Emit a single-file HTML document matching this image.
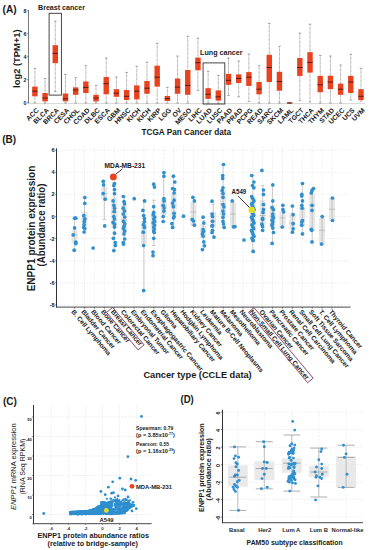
<!DOCTYPE html>
<html><head><meta charset="utf-8"><style>
html,body{margin:0;padding:0;background:#fff;}
body{width:372px;height:550px;overflow:hidden;}
svg{display:block;font-family:"Liberation Sans", sans-serif;}
</style></head><body>
<svg width="372" height="550" viewBox="0 0 372 550">
<rect width="372" height="550" fill="#fff"/>
<text x="2.50" y="12.80" font-size="10.2" font-weight="bold" text-anchor="start" fill="#1a1a1a" textLength="14.1" lengthAdjust="spacingAndGlyphs">(A)</text>
<text x="38.00" y="10.30" font-size="7.1" font-weight="bold" text-anchor="start" fill="#1a1a1a" textLength="47" lengthAdjust="spacingAndGlyphs">Breast cancer</text>
<text x="200.00" y="54.80" font-size="7.1" font-weight="bold" text-anchor="start" fill="#1a1a1a" textLength="42.6" lengthAdjust="spacingAndGlyphs">Lung cancer</text>
<line x1="28.5" y1="10" x2="28.5" y2="103.5" stroke="#555" stroke-width="0.8"/>
<line x1="27" y1="102.70" x2="28.5" y2="102.70" stroke="#555" stroke-width="0.6"/>
<text x="26.40" y="104.60" font-size="5.3" font-weight="bold" text-anchor="end" fill="#222">0</text>
<line x1="27" y1="79.70" x2="28.5" y2="79.70" stroke="#555" stroke-width="0.6"/>
<text x="26.40" y="81.60" font-size="5.3" font-weight="bold" text-anchor="end" fill="#222">2</text>
<line x1="27" y1="56.70" x2="28.5" y2="56.70" stroke="#555" stroke-width="0.6"/>
<text x="26.40" y="58.60" font-size="5.3" font-weight="bold" text-anchor="end" fill="#222">4</text>
<line x1="27" y1="33.70" x2="28.5" y2="33.70" stroke="#555" stroke-width="0.6"/>
<text x="26.40" y="35.60" font-size="5.3" font-weight="bold" text-anchor="end" fill="#222">6</text>
<line x1="27" y1="10.70" x2="28.5" y2="10.70" stroke="#555" stroke-width="0.6"/>
<text x="26.40" y="12.60" font-size="5.3" font-weight="bold" text-anchor="end" fill="#222">8</text>
<text x="20.30" y="58.60" font-size="9.4" font-weight="bold" text-anchor="middle" fill="#1a1a1a" textLength="58.6" lengthAdjust="spacingAndGlyphs" transform="rotate(-90 20.30 58.60)">log2 (TPM+1)</text>
<line x1="29" y1="103.6" x2="365" y2="103.6" stroke="#bbb" stroke-width="0.6"/>
<line x1="34.90" y1="68.3" x2="34.90" y2="102.7" stroke="#777" stroke-width="0.7" stroke-dasharray="0.8 0.5"/>
<line x1="33.60" y1="68.3" x2="36.20" y2="68.3" stroke="#777" stroke-width="0.6"/>
<line x1="33.60" y1="102.7" x2="36.20" y2="102.7" stroke="#777" stroke-width="0.6"/>
<rect x="32.20" y="86.6" width="5.4" height="9.70" fill="#e8421f"/>
<line x1="32.20" y1="91.2" x2="37.60" y2="91.2" stroke="#5a1a10" stroke-width="1"/>
<text x="39.20" y="110.80" font-size="6.8" font-weight="bold" text-anchor="end" fill="#1a1a1a" transform="rotate(-45 39.20 110.80)">ACC</text>
<line x1="45.09" y1="78.5" x2="45.09" y2="103" stroke="#777" stroke-width="0.7" stroke-dasharray="0.8 0.5"/>
<line x1="43.79" y1="78.5" x2="46.39" y2="78.5" stroke="#777" stroke-width="0.6"/>
<line x1="43.79" y1="103" x2="46.39" y2="103" stroke="#777" stroke-width="0.6"/>
<rect x="42.39" y="93" width="5.4" height="8.40" fill="#e8421f"/>
<line x1="42.39" y1="98" x2="47.79" y2="98" stroke="#5a1a10" stroke-width="1"/>
<text x="49.39" y="110.80" font-size="6.8" font-weight="bold" text-anchor="end" fill="#1a1a1a" transform="rotate(-45 49.39 110.80)">BLCA</text>
<line x1="55.28" y1="21.1" x2="55.28" y2="91.5" stroke="#777" stroke-width="0.7" stroke-dasharray="0.8 0.5"/>
<line x1="53.98" y1="21.1" x2="56.58" y2="21.1" stroke="#777" stroke-width="0.6"/>
<line x1="53.98" y1="91.5" x2="56.58" y2="91.5" stroke="#777" stroke-width="0.6"/>
<rect x="52.58" y="45.2" width="5.4" height="18.00" fill="#e8421f"/>
<line x1="52.58" y1="53.4" x2="57.98" y2="53.4" stroke="#5a1a10" stroke-width="1"/>
<text x="59.58" y="110.80" font-size="6.8" font-weight="bold" text-anchor="end" fill="#1a1a1a" transform="rotate(-45 59.58 110.80)">BRCA</text>
<line x1="65.47" y1="74.4" x2="65.47" y2="103" stroke="#777" stroke-width="0.7" stroke-dasharray="0.8 0.5"/>
<line x1="64.17" y1="74.4" x2="66.77" y2="74.4" stroke="#777" stroke-width="0.6"/>
<line x1="64.17" y1="103" x2="66.77" y2="103" stroke="#777" stroke-width="0.6"/>
<rect x="62.77" y="93.5" width="5.4" height="7.90" fill="#e8421f"/>
<line x1="62.77" y1="98.9" x2="68.17" y2="98.9" stroke="#5a1a10" stroke-width="1"/>
<text x="69.77" y="110.80" font-size="6.8" font-weight="bold" text-anchor="end" fill="#1a1a1a" transform="rotate(-45 69.77 110.80)">CESA</text>
<line x1="75.66" y1="77.7" x2="75.66" y2="103" stroke="#777" stroke-width="0.7" stroke-dasharray="0.8 0.5"/>
<line x1="74.36" y1="77.7" x2="76.96" y2="77.7" stroke="#777" stroke-width="0.6"/>
<line x1="74.36" y1="103" x2="76.96" y2="103" stroke="#777" stroke-width="0.6"/>
<rect x="72.96" y="87.4" width="5.4" height="7.40" fill="#e8421f"/>
<line x1="72.96" y1="90" x2="78.36" y2="90" stroke="#5a1a10" stroke-width="1"/>
<text x="79.96" y="110.80" font-size="6.8" font-weight="bold" text-anchor="end" fill="#1a1a1a" transform="rotate(-45 79.96 110.80)">CHOL</text>
<line x1="85.85" y1="65.7" x2="85.85" y2="103" stroke="#777" stroke-width="0.7" stroke-dasharray="0.8 0.5"/>
<line x1="84.55" y1="65.7" x2="87.15" y2="65.7" stroke="#777" stroke-width="0.6"/>
<line x1="84.55" y1="103" x2="87.15" y2="103" stroke="#777" stroke-width="0.6"/>
<rect x="83.15" y="81.5" width="5.4" height="11.50" fill="#e8421f"/>
<line x1="83.15" y1="87.4" x2="88.55" y2="87.4" stroke="#5a1a10" stroke-width="1"/>
<text x="90.15" y="110.80" font-size="6.8" font-weight="bold" text-anchor="end" fill="#1a1a1a" transform="rotate(-45 90.15 110.80)">COAD</text>
<line x1="96.04" y1="85.3" x2="96.04" y2="103" stroke="#777" stroke-width="0.7" stroke-dasharray="0.8 0.5"/>
<line x1="94.74" y1="85.3" x2="97.34" y2="85.3" stroke="#777" stroke-width="0.6"/>
<line x1="94.74" y1="103" x2="97.34" y2="103" stroke="#777" stroke-width="0.6"/>
<rect x="93.34" y="94.8" width="5.4" height="6.60" fill="#e8421f"/>
<line x1="93.34" y1="98" x2="98.74" y2="98" stroke="#5a1a10" stroke-width="1"/>
<text x="100.34" y="110.80" font-size="6.8" font-weight="bold" text-anchor="end" fill="#1a1a1a" transform="rotate(-45 100.34 110.80)">DLBC</text>
<line x1="106.23" y1="58" x2="106.23" y2="103" stroke="#777" stroke-width="0.7" stroke-dasharray="0.8 0.5"/>
<line x1="104.93" y1="58" x2="107.53" y2="58" stroke="#777" stroke-width="0.6"/>
<line x1="104.93" y1="103" x2="107.53" y2="103" stroke="#777" stroke-width="0.6"/>
<rect x="103.53" y="77" width="5.4" height="17.30" fill="#e8421f"/>
<line x1="103.53" y1="83.6" x2="108.93" y2="83.6" stroke="#5a1a10" stroke-width="1"/>
<text x="110.53" y="110.80" font-size="6.8" font-weight="bold" text-anchor="end" fill="#1a1a1a" transform="rotate(-45 110.53 110.80)">ESCA</text>
<line x1="116.42" y1="77" x2="116.42" y2="103" stroke="#777" stroke-width="0.7" stroke-dasharray="0.8 0.5"/>
<line x1="115.12" y1="77" x2="117.72" y2="77" stroke="#777" stroke-width="0.6"/>
<line x1="115.12" y1="103" x2="117.72" y2="103" stroke="#777" stroke-width="0.6"/>
<rect x="113.72" y="89.2" width="5.4" height="7.60" fill="#e8421f"/>
<line x1="113.72" y1="93.2" x2="119.12" y2="93.2" stroke="#5a1a10" stroke-width="1"/>
<text x="120.72" y="110.80" font-size="6.8" font-weight="bold" text-anchor="end" fill="#1a1a1a" transform="rotate(-45 120.72 110.80)">GBM</text>
<line x1="126.61" y1="72.4" x2="126.61" y2="103" stroke="#777" stroke-width="0.7" stroke-dasharray="0.8 0.5"/>
<line x1="125.31" y1="72.4" x2="127.91" y2="72.4" stroke="#777" stroke-width="0.6"/>
<line x1="125.31" y1="103" x2="127.91" y2="103" stroke="#777" stroke-width="0.6"/>
<rect x="123.91" y="90" width="5.4" height="10.00" fill="#e8421f"/>
<line x1="123.91" y1="96.3" x2="129.31" y2="96.3" stroke="#5a1a10" stroke-width="1"/>
<text x="130.91" y="110.80" font-size="6.8" font-weight="bold" text-anchor="end" fill="#1a1a1a" transform="rotate(-45 130.91 110.80)">HNSC</text>
<line x1="136.80" y1="66.2" x2="136.80" y2="103" stroke="#777" stroke-width="0.7" stroke-dasharray="0.8 0.5"/>
<line x1="135.50" y1="66.2" x2="138.10" y2="66.2" stroke="#777" stroke-width="0.6"/>
<line x1="135.50" y1="103" x2="138.10" y2="103" stroke="#777" stroke-width="0.6"/>
<rect x="134.10" y="85.4" width="5.4" height="14.00" fill="#e8421f"/>
<line x1="134.10" y1="91.2" x2="139.50" y2="91.2" stroke="#5a1a10" stroke-width="1"/>
<text x="141.10" y="110.80" font-size="6.8" font-weight="bold" text-anchor="end" fill="#1a1a1a" transform="rotate(-45 141.10 110.80)">KICH</text>
<line x1="146.99" y1="62.2" x2="146.99" y2="103" stroke="#777" stroke-width="0.7" stroke-dasharray="0.8 0.5"/>
<line x1="145.69" y1="62.2" x2="148.29" y2="62.2" stroke="#777" stroke-width="0.6"/>
<line x1="145.69" y1="103" x2="148.29" y2="103" stroke="#777" stroke-width="0.6"/>
<rect x="144.29" y="81" width="5.4" height="12.80" fill="#e8421f"/>
<line x1="144.29" y1="88.2" x2="149.69" y2="88.2" stroke="#5a1a10" stroke-width="1"/>
<text x="151.29" y="110.80" font-size="6.8" font-weight="bold" text-anchor="end" fill="#1a1a1a" transform="rotate(-45 151.29 110.80)">KICH</text>
<line x1="157.18" y1="43.3" x2="157.18" y2="103" stroke="#777" stroke-width="0.7" stroke-dasharray="0.8 0.5"/>
<line x1="155.88" y1="43.3" x2="158.48" y2="43.3" stroke="#777" stroke-width="0.6"/>
<line x1="155.88" y1="103" x2="158.48" y2="103" stroke="#777" stroke-width="0.6"/>
<rect x="154.48" y="65.7" width="5.4" height="20.90" fill="#e8421f"/>
<line x1="154.48" y1="77.2" x2="159.88" y2="77.2" stroke="#5a1a10" stroke-width="1"/>
<text x="161.48" y="110.80" font-size="6.8" font-weight="bold" text-anchor="end" fill="#1a1a1a" transform="rotate(-45 161.48 110.80)">KIRP</text>
<line x1="167.37" y1="87.4" x2="167.37" y2="103" stroke="#777" stroke-width="0.7" stroke-dasharray="0.8 0.5"/>
<line x1="166.07" y1="87.4" x2="168.67" y2="87.4" stroke="#777" stroke-width="0.6"/>
<line x1="166.07" y1="103" x2="168.67" y2="103" stroke="#777" stroke-width="0.6"/>
<rect x="164.67" y="96" width="5.4" height="5.00" fill="#e8421f"/>
<line x1="164.67" y1="98.6" x2="170.07" y2="98.6" stroke="#5a1a10" stroke-width="1"/>
<text x="171.67" y="110.80" font-size="6.8" font-weight="bold" text-anchor="end" fill="#1a1a1a" transform="rotate(-45 171.67 110.80)">LGG</text>
<line x1="177.56" y1="56" x2="177.56" y2="103" stroke="#777" stroke-width="0.7" stroke-dasharray="0.8 0.5"/>
<line x1="176.26" y1="56" x2="178.86" y2="56" stroke="#777" stroke-width="0.6"/>
<line x1="176.26" y1="103" x2="178.86" y2="103" stroke="#777" stroke-width="0.6"/>
<rect x="174.86" y="78.5" width="5.4" height="15.30" fill="#e8421f"/>
<line x1="174.86" y1="87.1" x2="180.26" y2="87.1" stroke="#5a1a10" stroke-width="1"/>
<text x="181.86" y="110.80" font-size="6.8" font-weight="bold" text-anchor="end" fill="#1a1a1a" transform="rotate(-45 181.86 110.80)">OV</text>
<line x1="187.75" y1="36.2" x2="187.75" y2="103" stroke="#777" stroke-width="0.7" stroke-dasharray="0.8 0.5"/>
<line x1="186.45" y1="36.2" x2="189.05" y2="36.2" stroke="#777" stroke-width="0.6"/>
<line x1="186.45" y1="103" x2="189.05" y2="103" stroke="#777" stroke-width="0.6"/>
<rect x="185.05" y="70" width="5.4" height="24.80" fill="#e8421f"/>
<line x1="185.05" y1="85.4" x2="190.45" y2="85.4" stroke="#5a1a10" stroke-width="1"/>
<text x="192.05" y="110.80" font-size="6.8" font-weight="bold" text-anchor="end" fill="#1a1a1a" transform="rotate(-45 192.05 110.80)">MESO</text>
<line x1="197.94" y1="38.2" x2="197.94" y2="90.4" stroke="#777" stroke-width="0.7" stroke-dasharray="0.8 0.5"/>
<line x1="196.64" y1="38.2" x2="199.24" y2="38.2" stroke="#777" stroke-width="0.6"/>
<line x1="196.64" y1="90.4" x2="199.24" y2="90.4" stroke="#777" stroke-width="0.6"/>
<rect x="195.24" y="57.6" width="5.4" height="12.70" fill="#e8421f"/>
<line x1="195.24" y1="62.7" x2="200.64" y2="62.7" stroke="#5a1a10" stroke-width="1"/>
<text x="202.24" y="110.80" font-size="6.8" font-weight="bold" text-anchor="end" fill="#1a1a1a" transform="rotate(-45 202.24 110.80)">LIHC</text>
<line x1="208.13" y1="71.3" x2="208.13" y2="103" stroke="#777" stroke-width="0.7" stroke-dasharray="0.8 0.5"/>
<line x1="206.83" y1="71.3" x2="209.43" y2="71.3" stroke="#777" stroke-width="0.6"/>
<line x1="206.83" y1="103" x2="209.43" y2="103" stroke="#777" stroke-width="0.6"/>
<rect x="205.43" y="88.2" width="5.4" height="10.70" fill="#e8421f"/>
<line x1="205.43" y1="94.3" x2="210.83" y2="94.3" stroke="#5a1a10" stroke-width="1"/>
<text x="212.43" y="110.80" font-size="6.8" font-weight="bold" text-anchor="end" fill="#1a1a1a" transform="rotate(-45 212.43 110.80)">LUAD</text>
<line x1="218.32" y1="75.4" x2="218.32" y2="103" stroke="#777" stroke-width="0.7" stroke-dasharray="0.8 0.5"/>
<line x1="217.02" y1="75.4" x2="219.62" y2="75.4" stroke="#777" stroke-width="0.6"/>
<line x1="217.02" y1="103" x2="219.62" y2="103" stroke="#777" stroke-width="0.6"/>
<rect x="215.62" y="90.4" width="5.4" height="10.20" fill="#e8421f"/>
<line x1="215.62" y1="96.8" x2="221.02" y2="96.8" stroke="#5a1a10" stroke-width="1"/>
<text x="222.62" y="110.80" font-size="6.8" font-weight="bold" text-anchor="end" fill="#1a1a1a" transform="rotate(-45 222.62 110.80)">LUSC</text>
<line x1="228.51" y1="58" x2="228.51" y2="95.5" stroke="#777" stroke-width="0.7" stroke-dasharray="0.8 0.5"/>
<line x1="227.21" y1="58" x2="229.81" y2="58" stroke="#777" stroke-width="0.6"/>
<line x1="227.21" y1="95.5" x2="229.81" y2="95.5" stroke="#777" stroke-width="0.6"/>
<rect x="225.81" y="73.9" width="5.4" height="10.90" fill="#e8421f"/>
<line x1="225.81" y1="80.3" x2="231.21" y2="80.3" stroke="#5a1a10" stroke-width="1"/>
<text x="232.81" y="110.80" font-size="6.8" font-weight="bold" text-anchor="end" fill="#1a1a1a" transform="rotate(-45 232.81 110.80)">PAAD</text>
<line x1="238.70" y1="61.1" x2="238.70" y2="96.8" stroke="#777" stroke-width="0.7" stroke-dasharray="0.8 0.5"/>
<line x1="237.40" y1="61.1" x2="240.00" y2="61.1" stroke="#777" stroke-width="0.6"/>
<line x1="237.40" y1="96.8" x2="240.00" y2="96.8" stroke="#777" stroke-width="0.6"/>
<rect x="236.00" y="74.4" width="5.4" height="8.60" fill="#e8421f"/>
<line x1="236.00" y1="78.5" x2="241.40" y2="78.5" stroke="#5a1a10" stroke-width="1"/>
<text x="243.00" y="110.80" font-size="6.8" font-weight="bold" text-anchor="end" fill="#1a1a1a" transform="rotate(-45 243.00 110.80)">PRAD</text>
<line x1="248.89" y1="54" x2="248.89" y2="101.4" stroke="#777" stroke-width="0.7" stroke-dasharray="0.8 0.5"/>
<line x1="247.59" y1="54" x2="250.19" y2="54" stroke="#777" stroke-width="0.6"/>
<line x1="247.59" y1="101.4" x2="250.19" y2="101.4" stroke="#777" stroke-width="0.6"/>
<rect x="246.19" y="72.1" width="5.4" height="13.80" fill="#e8421f"/>
<line x1="246.19" y1="77.2" x2="251.59" y2="77.2" stroke="#5a1a10" stroke-width="1"/>
<text x="253.19" y="110.80" font-size="6.8" font-weight="bold" text-anchor="end" fill="#1a1a1a" transform="rotate(-45 253.19 110.80)">PCPG</text>
<line x1="259.08" y1="65.7" x2="259.08" y2="103" stroke="#777" stroke-width="0.7" stroke-dasharray="0.8 0.5"/>
<line x1="257.78" y1="65.7" x2="260.38" y2="65.7" stroke="#777" stroke-width="0.6"/>
<line x1="257.78" y1="103" x2="260.38" y2="103" stroke="#777" stroke-width="0.6"/>
<rect x="256.38" y="82" width="5.4" height="12.30" fill="#e8421f"/>
<line x1="256.38" y1="89.2" x2="261.78" y2="89.2" stroke="#5a1a10" stroke-width="1"/>
<text x="263.38" y="110.80" font-size="6.8" font-weight="bold" text-anchor="end" fill="#1a1a1a" transform="rotate(-45 263.38 110.80)">READ</text>
<line x1="269.27" y1="23.4" x2="269.27" y2="103" stroke="#777" stroke-width="0.7" stroke-dasharray="0.8 0.5"/>
<line x1="267.97" y1="23.4" x2="270.57" y2="23.4" stroke="#777" stroke-width="0.6"/>
<line x1="267.97" y1="103" x2="270.57" y2="103" stroke="#777" stroke-width="0.6"/>
<rect x="266.57" y="54.8" width="5.4" height="27.20" fill="#e8421f"/>
<line x1="266.57" y1="67.5" x2="271.97" y2="67.5" stroke="#5a1a10" stroke-width="1"/>
<text x="273.57" y="110.80" font-size="6.8" font-weight="bold" text-anchor="end" fill="#1a1a1a" transform="rotate(-45 273.57 110.80)">SARC</text>
<line x1="279.46" y1="46.4" x2="279.46" y2="103" stroke="#777" stroke-width="0.7" stroke-dasharray="0.8 0.5"/>
<line x1="278.16" y1="46.4" x2="280.76" y2="46.4" stroke="#777" stroke-width="0.6"/>
<line x1="278.16" y1="103" x2="280.76" y2="103" stroke="#777" stroke-width="0.6"/>
<rect x="276.76" y="71.8" width="5.4" height="18.90" fill="#e8421f"/>
<line x1="276.76" y1="81.5" x2="282.16" y2="81.5" stroke="#5a1a10" stroke-width="1"/>
<text x="283.76" y="110.80" font-size="6.8" font-weight="bold" text-anchor="end" fill="#1a1a1a" transform="rotate(-45 283.76 110.80)">SKCM</text>
<line x1="289.65" y1="102.3" x2="289.65" y2="103.5" stroke="#777" stroke-width="0.7" stroke-dasharray="0.8 0.5"/>
<line x1="288.35" y1="102.3" x2="290.95" y2="102.3" stroke="#777" stroke-width="0.6"/>
<line x1="288.35" y1="103.5" x2="290.95" y2="103.5" stroke="#777" stroke-width="0.6"/>
<rect x="286.95" y="102.6" width="5.4" height="0.70" fill="#e8421f"/>
<line x1="286.95" y1="103" x2="292.35" y2="103" stroke="#5a1a10" stroke-width="1"/>
<text x="293.95" y="110.80" font-size="6.8" font-weight="bold" text-anchor="end" fill="#1a1a1a" transform="rotate(-45 293.95 110.80)">LAML</text>
<line x1="299.84" y1="33.1" x2="299.84" y2="100.6" stroke="#777" stroke-width="0.7" stroke-dasharray="0.8 0.5"/>
<line x1="298.54" y1="33.1" x2="301.14" y2="33.1" stroke="#777" stroke-width="0.6"/>
<line x1="298.54" y1="100.6" x2="301.14" y2="100.6" stroke="#777" stroke-width="0.6"/>
<rect x="297.14" y="58" width="5.4" height="17.90" fill="#e8421f"/>
<line x1="297.14" y1="67.5" x2="302.54" y2="67.5" stroke="#5a1a10" stroke-width="1"/>
<text x="304.14" y="110.80" font-size="6.8" font-weight="bold" text-anchor="end" fill="#1a1a1a" transform="rotate(-45 304.14 110.80)">TGCT</text>
<line x1="310.03" y1="24.2" x2="310.03" y2="101.9" stroke="#777" stroke-width="0.7" stroke-dasharray="0.8 0.5"/>
<line x1="308.73" y1="24.2" x2="311.33" y2="24.2" stroke="#777" stroke-width="0.6"/>
<line x1="308.73" y1="101.9" x2="311.33" y2="101.9" stroke="#777" stroke-width="0.6"/>
<rect x="307.33" y="52.2" width="5.4" height="20.40" fill="#e8421f"/>
<line x1="307.33" y1="62.4" x2="312.73" y2="62.4" stroke="#5a1a10" stroke-width="1"/>
<text x="314.33" y="110.80" font-size="6.8" font-weight="bold" text-anchor="end" fill="#1a1a1a" transform="rotate(-45 314.33 110.80)">THCA</text>
<line x1="320.22" y1="55.5" x2="320.22" y2="103" stroke="#777" stroke-width="0.7" stroke-dasharray="0.8 0.5"/>
<line x1="318.92" y1="55.5" x2="321.52" y2="55.5" stroke="#777" stroke-width="0.6"/>
<line x1="318.92" y1="103" x2="321.52" y2="103" stroke="#777" stroke-width="0.6"/>
<rect x="317.52" y="75.9" width="5.4" height="16.30" fill="#e8421f"/>
<line x1="317.52" y1="84.8" x2="322.92" y2="84.8" stroke="#5a1a10" stroke-width="1"/>
<text x="324.52" y="110.80" font-size="6.8" font-weight="bold" text-anchor="end" fill="#1a1a1a" transform="rotate(-45 324.52 110.80)">THYM</text>
<line x1="330.41" y1="56" x2="330.41" y2="103" stroke="#777" stroke-width="0.7" stroke-dasharray="0.8 0.5"/>
<line x1="329.11" y1="56" x2="331.71" y2="56" stroke="#777" stroke-width="0.6"/>
<line x1="329.11" y1="103" x2="331.71" y2="103" stroke="#777" stroke-width="0.6"/>
<rect x="327.71" y="75.7" width="5.4" height="13.50" fill="#e8421f"/>
<line x1="327.71" y1="82" x2="333.11" y2="82" stroke="#5a1a10" stroke-width="1"/>
<text x="334.71" y="110.80" font-size="6.8" font-weight="bold" text-anchor="end" fill="#1a1a1a" transform="rotate(-45 334.71 110.80)">STAD</text>
<line x1="340.60" y1="65" x2="340.60" y2="103" stroke="#777" stroke-width="0.7" stroke-dasharray="0.8 0.5"/>
<line x1="339.30" y1="65" x2="341.90" y2="65" stroke="#777" stroke-width="0.6"/>
<line x1="339.30" y1="103" x2="341.90" y2="103" stroke="#777" stroke-width="0.6"/>
<rect x="337.90" y="83.6" width="5.4" height="11.20" fill="#e8421f"/>
<line x1="337.90" y1="89.2" x2="343.30" y2="89.2" stroke="#5a1a10" stroke-width="1"/>
<text x="344.90" y="110.80" font-size="6.8" font-weight="bold" text-anchor="end" fill="#1a1a1a" transform="rotate(-45 344.90 110.80)">UCEC</text>
<line x1="350.79" y1="54.3" x2="350.79" y2="100" stroke="#777" stroke-width="0.7" stroke-dasharray="0.8 0.5"/>
<line x1="349.49" y1="54.3" x2="352.09" y2="54.3" stroke="#777" stroke-width="0.6"/>
<line x1="349.49" y1="100" x2="352.09" y2="100" stroke="#777" stroke-width="0.6"/>
<rect x="348.09" y="75.9" width="5.4" height="17.10" fill="#e8421f"/>
<line x1="348.09" y1="82" x2="353.49" y2="82" stroke="#5a1a10" stroke-width="1"/>
<text x="355.09" y="110.80" font-size="6.8" font-weight="bold" text-anchor="end" fill="#1a1a1a" transform="rotate(-45 355.09 110.80)">UCS</text>
<line x1="360.98" y1="68.3" x2="360.98" y2="101.1" stroke="#777" stroke-width="0.7" stroke-dasharray="0.8 0.5"/>
<line x1="359.68" y1="68.3" x2="362.28" y2="68.3" stroke="#777" stroke-width="0.6"/>
<line x1="359.68" y1="101.1" x2="362.28" y2="101.1" stroke="#777" stroke-width="0.6"/>
<rect x="358.28" y="89.2" width="5.4" height="10.90" fill="#e8421f"/>
<line x1="358.28" y1="96.3" x2="363.68" y2="96.3" stroke="#5a1a10" stroke-width="1"/>
<text x="365.28" y="110.80" font-size="6.8" font-weight="bold" text-anchor="end" fill="#1a1a1a" transform="rotate(-45 365.28 110.80)">UVM</text>
<rect x="49.1" y="13.3" width="12.3" height="81.8" fill="none" stroke="#333" stroke-width="0.9"/>
<rect x="203.1" y="62.9" width="21.7" height="41.1" fill="none" stroke="#333" stroke-width="0.9"/>
<text x="141.50" y="135.00" font-size="8.2" font-weight="bold" text-anchor="start" fill="#1a1a1a" textLength="89.5" lengthAdjust="spacingAndGlyphs">TCGA Pan Cancer data</text>
<text x="2.20" y="143.00" font-size="10" font-weight="bold" text-anchor="start" fill="#1a1a1a" textLength="13.9" lengthAdjust="spacingAndGlyphs">(B)</text>
<line x1="57" y1="304.90" x2="351" y2="304.90" stroke="#e9e9e9" stroke-width="0.6" stroke-dasharray="2.5 1"/>
<line x1="57" y1="282.80" x2="351" y2="282.80" stroke="#e9e9e9" stroke-width="0.6" stroke-dasharray="2.5 1"/>
<line x1="57" y1="260.70" x2="351" y2="260.70" stroke="#e9e9e9" stroke-width="0.6" stroke-dasharray="2.5 1"/>
<line x1="57" y1="238.60" x2="351" y2="238.60" stroke="#e9e9e9" stroke-width="0.6" stroke-dasharray="2.5 1"/>
<line x1="57" y1="216.50" x2="351" y2="216.50" stroke="#e9e9e9" stroke-width="0.6" stroke-dasharray="2.5 1"/>
<line x1="57" y1="194.40" x2="351" y2="194.40" stroke="#e9e9e9" stroke-width="0.6" stroke-dasharray="2.5 1"/>
<line x1="57" y1="172.30" x2="351" y2="172.30" stroke="#e9e9e9" stroke-width="0.6" stroke-dasharray="2.5 1"/>
<line x1="57" y1="150.20" x2="351" y2="150.20" stroke="#e9e9e9" stroke-width="0.6" stroke-dasharray="2.5 1"/>
<line x1="74.60" y1="146" x2="74.60" y2="306" stroke="#e9e9e9" stroke-width="0.6" stroke-dasharray="2.5 1"/>
<line x1="84.50" y1="146" x2="84.50" y2="306" stroke="#e9e9e9" stroke-width="0.6" stroke-dasharray="2.5 1"/>
<line x1="94.40" y1="146" x2="94.40" y2="306" stroke="#e9e9e9" stroke-width="0.6" stroke-dasharray="2.5 1"/>
<line x1="104.30" y1="146" x2="104.30" y2="306" stroke="#e9e9e9" stroke-width="0.6" stroke-dasharray="2.5 1"/>
<line x1="114.20" y1="146" x2="114.20" y2="306" stroke="#e9e9e9" stroke-width="0.6" stroke-dasharray="2.5 1"/>
<line x1="124.10" y1="146" x2="124.10" y2="306" stroke="#e9e9e9" stroke-width="0.6" stroke-dasharray="2.5 1"/>
<line x1="134.00" y1="146" x2="134.00" y2="306" stroke="#e9e9e9" stroke-width="0.6" stroke-dasharray="2.5 1"/>
<line x1="143.90" y1="146" x2="143.90" y2="306" stroke="#e9e9e9" stroke-width="0.6" stroke-dasharray="2.5 1"/>
<line x1="153.80" y1="146" x2="153.80" y2="306" stroke="#e9e9e9" stroke-width="0.6" stroke-dasharray="2.5 1"/>
<line x1="163.70" y1="146" x2="163.70" y2="306" stroke="#e9e9e9" stroke-width="0.6" stroke-dasharray="2.5 1"/>
<line x1="173.60" y1="146" x2="173.60" y2="306" stroke="#e9e9e9" stroke-width="0.6" stroke-dasharray="2.5 1"/>
<line x1="183.50" y1="146" x2="183.50" y2="306" stroke="#e9e9e9" stroke-width="0.6" stroke-dasharray="2.5 1"/>
<line x1="193.40" y1="146" x2="193.40" y2="306" stroke="#e9e9e9" stroke-width="0.6" stroke-dasharray="2.5 1"/>
<line x1="203.30" y1="146" x2="203.30" y2="306" stroke="#e9e9e9" stroke-width="0.6" stroke-dasharray="2.5 1"/>
<line x1="213.20" y1="146" x2="213.20" y2="306" stroke="#e9e9e9" stroke-width="0.6" stroke-dasharray="2.5 1"/>
<line x1="223.10" y1="146" x2="223.10" y2="306" stroke="#e9e9e9" stroke-width="0.6" stroke-dasharray="2.5 1"/>
<line x1="233.00" y1="146" x2="233.00" y2="306" stroke="#e9e9e9" stroke-width="0.6" stroke-dasharray="2.5 1"/>
<line x1="242.90" y1="146" x2="242.90" y2="306" stroke="#e9e9e9" stroke-width="0.6" stroke-dasharray="2.5 1"/>
<line x1="252.80" y1="146" x2="252.80" y2="306" stroke="#e9e9e9" stroke-width="0.6" stroke-dasharray="2.5 1"/>
<line x1="262.70" y1="146" x2="262.70" y2="306" stroke="#e9e9e9" stroke-width="0.6" stroke-dasharray="2.5 1"/>
<line x1="272.60" y1="146" x2="272.60" y2="306" stroke="#e9e9e9" stroke-width="0.6" stroke-dasharray="2.5 1"/>
<line x1="282.50" y1="146" x2="282.50" y2="306" stroke="#e9e9e9" stroke-width="0.6" stroke-dasharray="2.5 1"/>
<line x1="292.40" y1="146" x2="292.40" y2="306" stroke="#e9e9e9" stroke-width="0.6" stroke-dasharray="2.5 1"/>
<line x1="302.30" y1="146" x2="302.30" y2="306" stroke="#e9e9e9" stroke-width="0.6" stroke-dasharray="2.5 1"/>
<line x1="312.20" y1="146" x2="312.20" y2="306" stroke="#e9e9e9" stroke-width="0.6" stroke-dasharray="2.5 1"/>
<line x1="322.10" y1="146" x2="322.10" y2="306" stroke="#e9e9e9" stroke-width="0.6" stroke-dasharray="2.5 1"/>
<line x1="332.00" y1="146" x2="332.00" y2="306" stroke="#e9e9e9" stroke-width="0.6" stroke-dasharray="2.5 1"/>
<line x1="56.5" y1="148.3" x2="56.5" y2="307.5" stroke="#333" stroke-width="1"/>
<line x1="56.2" y1="307.1" x2="350.6" y2="307.1" stroke="#333" stroke-width="0.9"/>
<line x1="55.2" y1="150.20" x2="56.6" y2="150.20" stroke="#333" stroke-width="0.6"/>
<text x="54.60" y="152.20" font-size="5.6" font-weight="bold" text-anchor="end" fill="#222">6</text>
<line x1="55.2" y1="172.30" x2="56.6" y2="172.30" stroke="#333" stroke-width="0.6"/>
<text x="54.60" y="174.30" font-size="5.6" font-weight="bold" text-anchor="end" fill="#222">4</text>
<line x1="55.2" y1="194.40" x2="56.6" y2="194.40" stroke="#333" stroke-width="0.6"/>
<text x="54.60" y="196.40" font-size="5.6" font-weight="bold" text-anchor="end" fill="#222">2</text>
<line x1="55.2" y1="216.50" x2="56.6" y2="216.50" stroke="#333" stroke-width="0.6"/>
<text x="54.60" y="218.50" font-size="5.6" font-weight="bold" text-anchor="end" fill="#222">0</text>
<line x1="55.2" y1="238.60" x2="56.6" y2="238.60" stroke="#333" stroke-width="0.6"/>
<text x="54.60" y="240.60" font-size="5.6" font-weight="bold" text-anchor="end" fill="#222">-2</text>
<line x1="55.2" y1="260.70" x2="56.6" y2="260.70" stroke="#333" stroke-width="0.6"/>
<text x="54.60" y="262.70" font-size="5.6" font-weight="bold" text-anchor="end" fill="#222">-4</text>
<line x1="55.2" y1="282.80" x2="56.6" y2="282.80" stroke="#333" stroke-width="0.6"/>
<text x="54.60" y="284.80" font-size="5.6" font-weight="bold" text-anchor="end" fill="#222">-6</text>
<line x1="55.2" y1="304.90" x2="56.6" y2="304.90" stroke="#333" stroke-width="0.6"/>
<text x="54.60" y="306.90" font-size="5.6" font-weight="bold" text-anchor="end" fill="#222">-8</text>
<text x="34.80" y="228.50" font-size="10" font-weight="bold" text-anchor="middle" fill="#1a1a1a" textLength="125.7" lengthAdjust="spacingAndGlyphs" transform="rotate(-90 34.80 228.50)">ENPP1 protein expression</text>
<text x="44.80" y="225.00" font-size="10" font-weight="bold" text-anchor="middle" fill="#1a1a1a" textLength="82.9" lengthAdjust="spacingAndGlyphs" transform="rotate(-90 44.80 225.00)">(Abundance ratio)</text>
<rect x="71.60" y="229.8" width="6" height="13.80" fill="#e7e7e7"/>
<rect x="81.50" y="212" width="6" height="14.00" fill="#e7e7e7"/>
<rect x="101.30" y="187" width="6" height="12.00" fill="#e7e7e7"/>
<rect x="111.20" y="198" width="6" height="30.00" fill="#e7e7e7"/>
<rect x="121.10" y="205" width="6" height="28.00" fill="#e7e7e7"/>
<rect x="140.90" y="221" width="6" height="23.00" fill="#e7e7e7"/>
<rect x="150.80" y="212" width="6" height="18.00" fill="#e7e7e7"/>
<rect x="160.70" y="198" width="6" height="17.00" fill="#e7e7e7"/>
<rect x="170.60" y="193" width="6" height="23.00" fill="#e7e7e7"/>
<rect x="190.40" y="202" width="6" height="23.90" fill="#e7e7e7"/>
<rect x="200.30" y="224" width="6" height="14.00" fill="#e7e7e7"/>
<rect x="210.20" y="212" width="6" height="16.00" fill="#e7e7e7"/>
<rect x="220.10" y="190" width="6" height="28.00" fill="#e7e7e7"/>
<rect x="230.00" y="202" width="6" height="24.00" fill="#e7e7e7"/>
<rect x="249.80" y="198" width="6" height="34.00" fill="#e7e7e7"/>
<rect x="259.70" y="200" width="6" height="25.00" fill="#e7e7e7"/>
<rect x="269.60" y="205" width="6" height="23.00" fill="#e7e7e7"/>
<rect x="279.50" y="211" width="6" height="16.00" fill="#e7e7e7"/>
<rect x="289.40" y="213" width="6" height="16.00" fill="#e7e7e7"/>
<rect x="299.30" y="208" width="6" height="18.00" fill="#e7e7e7"/>
<rect x="309.20" y="193.6" width="6" height="37.40" fill="#e7e7e7"/>
<rect x="319.10" y="218" width="6" height="26.00" fill="#e7e7e7"/>
<rect x="329.00" y="198" width="6" height="22.50" fill="#e7e7e7"/>
<line x1="74.60" y1="218.2" x2="74.60" y2="250.2" stroke="#aaa" stroke-width="0.6"/>
<line x1="72.80" y1="218.2" x2="76.40" y2="218.2" stroke="#aaa" stroke-width="0.6"/>
<line x1="72.80" y1="250.2" x2="76.40" y2="250.2" stroke="#aaa" stroke-width="0.6"/>
<line x1="71.60" y1="234.9" x2="77.60" y2="234.9" stroke="#aaa" stroke-width="0.6"/>
<line x1="84.50" y1="197.5" x2="84.50" y2="232" stroke="#aaa" stroke-width="0.6"/>
<line x1="82.70" y1="197.5" x2="86.30" y2="197.5" stroke="#aaa" stroke-width="0.6"/>
<line x1="82.70" y1="232" x2="86.30" y2="232" stroke="#aaa" stroke-width="0.6"/>
<line x1="81.50" y1="219" x2="87.50" y2="219" stroke="#aaa" stroke-width="0.6"/>
<line x1="104.30" y1="180.8" x2="104.30" y2="219.4" stroke="#aaa" stroke-width="0.6"/>
<line x1="102.50" y1="180.8" x2="106.10" y2="180.8" stroke="#aaa" stroke-width="0.6"/>
<line x1="102.50" y1="219.4" x2="106.10" y2="219.4" stroke="#aaa" stroke-width="0.6"/>
<line x1="101.30" y1="193.6" x2="107.30" y2="193.6" stroke="#aaa" stroke-width="0.6"/>
<line x1="114.20" y1="183" x2="114.20" y2="250.6" stroke="#aaa" stroke-width="0.6"/>
<line x1="112.40" y1="183" x2="116.00" y2="183" stroke="#aaa" stroke-width="0.6"/>
<line x1="112.40" y1="250.6" x2="116.00" y2="250.6" stroke="#aaa" stroke-width="0.6"/>
<line x1="111.20" y1="212.5" x2="117.20" y2="212.5" stroke="#aaa" stroke-width="0.6"/>
<line x1="124.10" y1="196.5" x2="124.10" y2="244.1" stroke="#aaa" stroke-width="0.6"/>
<line x1="122.30" y1="196.5" x2="125.90" y2="196.5" stroke="#aaa" stroke-width="0.6"/>
<line x1="122.30" y1="244.1" x2="125.90" y2="244.1" stroke="#aaa" stroke-width="0.6"/>
<line x1="121.10" y1="220" x2="127.10" y2="220" stroke="#aaa" stroke-width="0.6"/>
<line x1="143.90" y1="200.9" x2="143.90" y2="290.6" stroke="#aaa" stroke-width="0.6"/>
<line x1="142.10" y1="200.9" x2="145.70" y2="200.9" stroke="#aaa" stroke-width="0.6"/>
<line x1="142.10" y1="290.6" x2="145.70" y2="290.6" stroke="#aaa" stroke-width="0.6"/>
<line x1="140.90" y1="226" x2="146.90" y2="226" stroke="#aaa" stroke-width="0.6"/>
<line x1="153.80" y1="200.2" x2="153.80" y2="245.5" stroke="#aaa" stroke-width="0.6"/>
<line x1="152.00" y1="200.2" x2="155.60" y2="200.2" stroke="#aaa" stroke-width="0.6"/>
<line x1="152.00" y1="245.5" x2="155.60" y2="245.5" stroke="#aaa" stroke-width="0.6"/>
<line x1="150.80" y1="222" x2="156.80" y2="222" stroke="#aaa" stroke-width="0.6"/>
<line x1="163.70" y1="172.5" x2="163.70" y2="221.5" stroke="#aaa" stroke-width="0.6"/>
<line x1="161.90" y1="172.5" x2="165.50" y2="172.5" stroke="#aaa" stroke-width="0.6"/>
<line x1="161.90" y1="221.5" x2="165.50" y2="221.5" stroke="#aaa" stroke-width="0.6"/>
<line x1="160.70" y1="206" x2="166.70" y2="206" stroke="#aaa" stroke-width="0.6"/>
<line x1="173.60" y1="176.2" x2="173.60" y2="227.4" stroke="#aaa" stroke-width="0.6"/>
<line x1="171.80" y1="176.2" x2="175.40" y2="176.2" stroke="#aaa" stroke-width="0.6"/>
<line x1="171.80" y1="227.4" x2="175.40" y2="227.4" stroke="#aaa" stroke-width="0.6"/>
<line x1="170.60" y1="205" x2="176.60" y2="205" stroke="#aaa" stroke-width="0.6"/>
<line x1="193.40" y1="197.3" x2="193.40" y2="225.2" stroke="#aaa" stroke-width="0.6"/>
<line x1="191.60" y1="197.3" x2="195.20" y2="197.3" stroke="#aaa" stroke-width="0.6"/>
<line x1="191.60" y1="225.2" x2="195.20" y2="225.2" stroke="#aaa" stroke-width="0.6"/>
<line x1="190.40" y1="212" x2="196.40" y2="212" stroke="#aaa" stroke-width="0.6"/>
<line x1="203.30" y1="220.8" x2="203.30" y2="245.8" stroke="#aaa" stroke-width="0.6"/>
<line x1="201.50" y1="220.8" x2="205.10" y2="220.8" stroke="#aaa" stroke-width="0.6"/>
<line x1="201.50" y1="245.8" x2="205.10" y2="245.8" stroke="#aaa" stroke-width="0.6"/>
<line x1="200.30" y1="231" x2="206.30" y2="231" stroke="#aaa" stroke-width="0.6"/>
<line x1="213.20" y1="204.1" x2="213.20" y2="237.1" stroke="#aaa" stroke-width="0.6"/>
<line x1="211.40" y1="204.1" x2="215.00" y2="204.1" stroke="#aaa" stroke-width="0.6"/>
<line x1="211.40" y1="237.1" x2="215.00" y2="237.1" stroke="#aaa" stroke-width="0.6"/>
<line x1="210.20" y1="221" x2="216.20" y2="221" stroke="#aaa" stroke-width="0.6"/>
<line x1="223.10" y1="164.5" x2="223.10" y2="227.4" stroke="#aaa" stroke-width="0.6"/>
<line x1="221.30" y1="164.5" x2="224.90" y2="164.5" stroke="#aaa" stroke-width="0.6"/>
<line x1="221.30" y1="227.4" x2="224.90" y2="227.4" stroke="#aaa" stroke-width="0.6"/>
<line x1="220.10" y1="204" x2="226.10" y2="204" stroke="#aaa" stroke-width="0.6"/>
<line x1="233.00" y1="200.9" x2="233.00" y2="226.8" stroke="#aaa" stroke-width="0.6"/>
<line x1="231.20" y1="200.9" x2="234.80" y2="200.9" stroke="#aaa" stroke-width="0.6"/>
<line x1="231.20" y1="226.8" x2="234.80" y2="226.8" stroke="#aaa" stroke-width="0.6"/>
<line x1="230.00" y1="214" x2="236.00" y2="214" stroke="#aaa" stroke-width="0.6"/>
<line x1="252.80" y1="175.5" x2="252.80" y2="251.4" stroke="#aaa" stroke-width="0.6"/>
<line x1="251.00" y1="175.5" x2="254.60" y2="175.5" stroke="#aaa" stroke-width="0.6"/>
<line x1="251.00" y1="251.4" x2="254.60" y2="251.4" stroke="#aaa" stroke-width="0.6"/>
<line x1="249.80" y1="215" x2="255.80" y2="215" stroke="#aaa" stroke-width="0.6"/>
<line x1="262.70" y1="185.6" x2="262.70" y2="230.3" stroke="#aaa" stroke-width="0.6"/>
<line x1="260.90" y1="185.6" x2="264.50" y2="185.6" stroke="#aaa" stroke-width="0.6"/>
<line x1="260.90" y1="230.3" x2="264.50" y2="230.3" stroke="#aaa" stroke-width="0.6"/>
<line x1="259.70" y1="215.5" x2="265.70" y2="215.5" stroke="#aaa" stroke-width="0.6"/>
<line x1="272.60" y1="184.9" x2="272.60" y2="243.4" stroke="#aaa" stroke-width="0.6"/>
<line x1="270.80" y1="184.9" x2="274.40" y2="184.9" stroke="#aaa" stroke-width="0.6"/>
<line x1="270.80" y1="243.4" x2="274.40" y2="243.4" stroke="#aaa" stroke-width="0.6"/>
<line x1="269.60" y1="216" x2="275.60" y2="216" stroke="#aaa" stroke-width="0.6"/>
<line x1="282.50" y1="205.3" x2="282.50" y2="227.4" stroke="#aaa" stroke-width="0.6"/>
<line x1="280.70" y1="205.3" x2="284.30" y2="205.3" stroke="#aaa" stroke-width="0.6"/>
<line x1="280.70" y1="227.4" x2="284.30" y2="227.4" stroke="#aaa" stroke-width="0.6"/>
<line x1="279.50" y1="218" x2="285.50" y2="218" stroke="#aaa" stroke-width="0.6"/>
<line x1="292.40" y1="206" x2="292.40" y2="232.2" stroke="#aaa" stroke-width="0.6"/>
<line x1="290.60" y1="206" x2="294.20" y2="206" stroke="#aaa" stroke-width="0.6"/>
<line x1="290.60" y1="232.2" x2="294.20" y2="232.2" stroke="#aaa" stroke-width="0.6"/>
<line x1="289.40" y1="223" x2="295.40" y2="223" stroke="#aaa" stroke-width="0.6"/>
<line x1="302.30" y1="183.5" x2="302.30" y2="233.9" stroke="#aaa" stroke-width="0.6"/>
<line x1="300.50" y1="183.5" x2="304.10" y2="183.5" stroke="#aaa" stroke-width="0.6"/>
<line x1="300.50" y1="233.9" x2="304.10" y2="233.9" stroke="#aaa" stroke-width="0.6"/>
<line x1="299.30" y1="208.2" x2="305.30" y2="208.2" stroke="#aaa" stroke-width="0.6"/>
<line x1="312.20" y1="188.5" x2="312.20" y2="241.9" stroke="#aaa" stroke-width="0.6"/>
<line x1="310.40" y1="188.5" x2="314.00" y2="188.5" stroke="#aaa" stroke-width="0.6"/>
<line x1="310.40" y1="241.9" x2="314.00" y2="241.9" stroke="#aaa" stroke-width="0.6"/>
<line x1="309.20" y1="205.3" x2="315.20" y2="205.3" stroke="#aaa" stroke-width="0.6"/>
<line x1="322.10" y1="216.6" x2="322.10" y2="244.1" stroke="#aaa" stroke-width="0.6"/>
<line x1="320.30" y1="216.6" x2="323.90" y2="216.6" stroke="#aaa" stroke-width="0.6"/>
<line x1="320.30" y1="244.1" x2="323.90" y2="244.1" stroke="#aaa" stroke-width="0.6"/>
<line x1="319.10" y1="230.3" x2="325.10" y2="230.3" stroke="#aaa" stroke-width="0.6"/>
<line x1="332.00" y1="198" x2="332.00" y2="220.5" stroke="#aaa" stroke-width="0.6"/>
<line x1="330.20" y1="198" x2="333.80" y2="198" stroke="#aaa" stroke-width="0.6"/>
<line x1="330.20" y1="220.5" x2="333.80" y2="220.5" stroke="#aaa" stroke-width="0.6"/>
<line x1="329.00" y1="209.3" x2="335.00" y2="209.3" stroke="#aaa" stroke-width="0.6"/>
<circle cx="74.6" cy="218.2" r="1.85" fill="#2f8fcf"/>
<circle cx="75.8" cy="218.2" r="1.85" fill="#2f8fcf"/>
<circle cx="74.6" cy="227.9" r="1.85" fill="#2f8fcf"/>
<circle cx="73.2" cy="234.9" r="1.85" fill="#2f8fcf"/>
<circle cx="75.8" cy="242.2" r="1.85" fill="#2f8fcf"/>
<circle cx="75.8" cy="243.6" r="1.85" fill="#2f8fcf"/>
<circle cx="74.2" cy="250.2" r="1.85" fill="#2f8fcf"/>
<circle cx="84.8" cy="197.5" r="1.85" fill="#2f8fcf"/>
<circle cx="84.8" cy="203.3" r="1.85" fill="#2f8fcf"/>
<circle cx="83.8" cy="215.7" r="1.85" fill="#2f8fcf"/>
<circle cx="84.8" cy="218.9" r="1.85" fill="#2f8fcf"/>
<circle cx="84.3" cy="221.5" r="1.85" fill="#2f8fcf"/>
<circle cx="84.1" cy="224.7" r="1.85" fill="#2f8fcf"/>
<circle cx="83.8" cy="227.3" r="1.85" fill="#2f8fcf"/>
<circle cx="84.8" cy="228.6" r="1.85" fill="#2f8fcf"/>
<circle cx="84.1" cy="232" r="1.85" fill="#2f8fcf"/>
<circle cx="93.1" cy="248" r="1.85" fill="#2f8fcf"/>
<circle cx="103.2" cy="181.3" r="1.85" fill="#2f8fcf"/>
<circle cx="103.6" cy="184.9" r="1.85" fill="#2f8fcf"/>
<circle cx="103.2" cy="193.6" r="1.85" fill="#2f8fcf"/>
<circle cx="105.1" cy="199.2" r="1.85" fill="#2f8fcf"/>
<circle cx="104.7" cy="225.9" r="1.85" fill="#2f8fcf"/>
<circle cx="114.5" cy="183.5" r="1.85" fill="#2f8fcf"/>
<circle cx="113.8" cy="185.6" r="1.85" fill="#2f8fcf"/>
<circle cx="114.5" cy="189.6" r="1.85" fill="#2f8fcf"/>
<circle cx="114.5" cy="193.6" r="1.85" fill="#2f8fcf"/>
<circle cx="113.1" cy="200.9" r="1.85" fill="#2f8fcf"/>
<circle cx="113.8" cy="205.3" r="1.85" fill="#2f8fcf"/>
<circle cx="114.5" cy="208.2" r="1.85" fill="#2f8fcf"/>
<circle cx="114.2" cy="211.5" r="1.85" fill="#2f8fcf"/>
<circle cx="113.8" cy="216.5" r="1.85" fill="#2f8fcf"/>
<circle cx="114.5" cy="219" r="1.85" fill="#2f8fcf"/>
<circle cx="113.1" cy="222.3" r="1.85" fill="#2f8fcf"/>
<circle cx="114.5" cy="224.2" r="1.85" fill="#2f8fcf"/>
<circle cx="114.5" cy="227.1" r="1.85" fill="#2f8fcf"/>
<circle cx="114.5" cy="233.2" r="1.85" fill="#2f8fcf"/>
<circle cx="113.4" cy="238.3" r="1.85" fill="#2f8fcf"/>
<circle cx="115.3" cy="242.6" r="1.85" fill="#2f8fcf"/>
<circle cx="115.3" cy="245.5" r="1.85" fill="#2f8fcf"/>
<circle cx="113.8" cy="250.6" r="1.85" fill="#2f8fcf"/>
<circle cx="123.3" cy="196.5" r="1.85" fill="#2f8fcf"/>
<circle cx="124" cy="201.6" r="1.85" fill="#2f8fcf"/>
<circle cx="124.5" cy="203.8" r="1.85" fill="#2f8fcf"/>
<circle cx="123.3" cy="208.2" r="1.85" fill="#2f8fcf"/>
<circle cx="124.5" cy="211" r="1.85" fill="#2f8fcf"/>
<circle cx="123.3" cy="214" r="1.85" fill="#2f8fcf"/>
<circle cx="124.7" cy="217" r="1.85" fill="#2f8fcf"/>
<circle cx="123.5" cy="221.3" r="1.85" fill="#2f8fcf"/>
<circle cx="124.7" cy="223.7" r="1.85" fill="#2f8fcf"/>
<circle cx="124" cy="226.3" r="1.85" fill="#2f8fcf"/>
<circle cx="123.5" cy="228.5" r="1.85" fill="#2f8fcf"/>
<circle cx="124.7" cy="231" r="1.85" fill="#2f8fcf"/>
<circle cx="124" cy="233.9" r="1.85" fill="#2f8fcf"/>
<circle cx="124.7" cy="239" r="1.85" fill="#2f8fcf"/>
<circle cx="123.3" cy="242.6" r="1.85" fill="#2f8fcf"/>
<circle cx="123.5" cy="244.1" r="1.85" fill="#2f8fcf"/>
<circle cx="134.2" cy="198.7" r="1.85" fill="#2f8fcf"/>
<circle cx="144.6" cy="200.9" r="1.85" fill="#2f8fcf"/>
<circle cx="142.9" cy="210.4" r="1.85" fill="#2f8fcf"/>
<circle cx="143.6" cy="215.5" r="1.85" fill="#2f8fcf"/>
<circle cx="144.4" cy="218.5" r="1.85" fill="#2f8fcf"/>
<circle cx="144.4" cy="221.5" r="1.85" fill="#2f8fcf"/>
<circle cx="143.6" cy="224.5" r="1.85" fill="#2f8fcf"/>
<circle cx="144.4" cy="227.4" r="1.85" fill="#2f8fcf"/>
<circle cx="143.3" cy="232.2" r="1.85" fill="#2f8fcf"/>
<circle cx="143.6" cy="245.5" r="1.85" fill="#2f8fcf"/>
<circle cx="143.6" cy="290.6" r="1.85" fill="#2f8fcf"/>
<circle cx="153.7" cy="184.2" r="1.85" fill="#2f8fcf"/>
<circle cx="154.5" cy="187.1" r="1.85" fill="#2f8fcf"/>
<circle cx="153.7" cy="206.7" r="1.85" fill="#2f8fcf"/>
<circle cx="153.7" cy="212.4" r="1.85" fill="#2f8fcf"/>
<circle cx="153.2" cy="215" r="1.85" fill="#2f8fcf"/>
<circle cx="154.7" cy="217" r="1.85" fill="#2f8fcf"/>
<circle cx="153.7" cy="219" r="1.85" fill="#2f8fcf"/>
<circle cx="154.5" cy="221.3" r="1.85" fill="#2f8fcf"/>
<circle cx="153.2" cy="223" r="1.85" fill="#2f8fcf"/>
<circle cx="154.5" cy="225" r="1.85" fill="#2f8fcf"/>
<circle cx="153.7" cy="227" r="1.85" fill="#2f8fcf"/>
<circle cx="154.2" cy="229" r="1.85" fill="#2f8fcf"/>
<circle cx="153.7" cy="231" r="1.85" fill="#2f8fcf"/>
<circle cx="154.2" cy="232.5" r="1.85" fill="#2f8fcf"/>
<circle cx="153.7" cy="238.3" r="1.85" fill="#2f8fcf"/>
<circle cx="153" cy="252.1" r="1.85" fill="#2f8fcf"/>
<circle cx="153" cy="255.7" r="1.85" fill="#2f8fcf"/>
<circle cx="163.9" cy="172.5" r="1.85" fill="#2f8fcf"/>
<circle cx="163.9" cy="176.2" r="1.85" fill="#2f8fcf"/>
<circle cx="163.9" cy="198.7" r="1.85" fill="#2f8fcf"/>
<circle cx="164.1" cy="201" r="1.85" fill="#2f8fcf"/>
<circle cx="163.2" cy="205.3" r="1.85" fill="#2f8fcf"/>
<circle cx="164.1" cy="208" r="1.85" fill="#2f8fcf"/>
<circle cx="163.9" cy="211.1" r="1.85" fill="#2f8fcf"/>
<circle cx="163.2" cy="216.5" r="1.85" fill="#2f8fcf"/>
<circle cx="163.2" cy="221.5" r="1.85" fill="#2f8fcf"/>
<circle cx="173.4" cy="176.2" r="1.85" fill="#2f8fcf"/>
<circle cx="174.8" cy="182" r="1.85" fill="#2f8fcf"/>
<circle cx="172.6" cy="188.5" r="1.85" fill="#2f8fcf"/>
<circle cx="174.5" cy="189.5" r="1.85" fill="#2f8fcf"/>
<circle cx="174.1" cy="192.9" r="1.85" fill="#2f8fcf"/>
<circle cx="174.1" cy="200.2" r="1.85" fill="#2f8fcf"/>
<circle cx="172.6" cy="203.1" r="1.85" fill="#2f8fcf"/>
<circle cx="173.4" cy="206.7" r="1.85" fill="#2f8fcf"/>
<circle cx="174.1" cy="213.3" r="1.85" fill="#2f8fcf"/>
<circle cx="174.1" cy="216.5" r="1.85" fill="#2f8fcf"/>
<circle cx="173.5" cy="218" r="1.85" fill="#2f8fcf"/>
<circle cx="171.9" cy="223.7" r="1.85" fill="#2f8fcf"/>
<circle cx="172.6" cy="227.4" r="1.85" fill="#2f8fcf"/>
<circle cx="183.5" cy="216.2" r="1.85" fill="#2f8fcf"/>
<circle cx="192.9" cy="197.3" r="1.85" fill="#2f8fcf"/>
<circle cx="194.4" cy="200.9" r="1.85" fill="#2f8fcf"/>
<circle cx="192.2" cy="219.4" r="1.85" fill="#2f8fcf"/>
<circle cx="193.5" cy="221" r="1.85" fill="#2f8fcf"/>
<circle cx="194.4" cy="225.2" r="1.85" fill="#2f8fcf"/>
<circle cx="203.1" cy="217.2" r="1.85" fill="#2f8fcf"/>
<circle cx="203.8" cy="223" r="1.85" fill="#2f8fcf"/>
<circle cx="203.1" cy="229.5" r="1.85" fill="#2f8fcf"/>
<circle cx="203.5" cy="231.5" r="1.85" fill="#2f8fcf"/>
<circle cx="202.4" cy="233.9" r="1.85" fill="#2f8fcf"/>
<circle cx="203.1" cy="236.1" r="1.85" fill="#2f8fcf"/>
<circle cx="203.8" cy="241.9" r="1.85" fill="#2f8fcf"/>
<circle cx="204.5" cy="245.8" r="1.85" fill="#2f8fcf"/>
<circle cx="202.4" cy="249.6" r="1.85" fill="#2f8fcf"/>
<circle cx="212.1" cy="201.2" r="1.85" fill="#2f8fcf"/>
<circle cx="212.1" cy="214" r="1.85" fill="#2f8fcf"/>
<circle cx="212.5" cy="216.5" r="1.85" fill="#2f8fcf"/>
<circle cx="212.5" cy="221.3" r="1.85" fill="#2f8fcf"/>
<circle cx="212.5" cy="225.6" r="1.85" fill="#2f8fcf"/>
<circle cx="212" cy="225.9" r="1.85" fill="#2f8fcf"/>
<circle cx="212.5" cy="230.3" r="1.85" fill="#2f8fcf"/>
<circle cx="212" cy="232.5" r="1.85" fill="#2f8fcf"/>
<circle cx="214" cy="237.1" r="1.85" fill="#2f8fcf"/>
<circle cx="223.5" cy="164.5" r="1.85" fill="#2f8fcf"/>
<circle cx="222.7" cy="175.5" r="1.85" fill="#2f8fcf"/>
<circle cx="222.7" cy="178.4" r="1.85" fill="#2f8fcf"/>
<circle cx="223" cy="187.8" r="1.85" fill="#2f8fcf"/>
<circle cx="222.2" cy="190.5" r="1.85" fill="#2f8fcf"/>
<circle cx="223" cy="193.6" r="1.85" fill="#2f8fcf"/>
<circle cx="223" cy="197.3" r="1.85" fill="#2f8fcf"/>
<circle cx="223" cy="204.5" r="1.85" fill="#2f8fcf"/>
<circle cx="223.9" cy="207" r="1.85" fill="#2f8fcf"/>
<circle cx="223" cy="211.1" r="1.85" fill="#2f8fcf"/>
<circle cx="223.5" cy="214" r="1.85" fill="#2f8fcf"/>
<circle cx="223" cy="217.5" r="1.85" fill="#2f8fcf"/>
<circle cx="223" cy="221.3" r="1.85" fill="#2f8fcf"/>
<circle cx="223.5" cy="224" r="1.85" fill="#2f8fcf"/>
<circle cx="224.2" cy="227.4" r="1.85" fill="#2f8fcf"/>
<circle cx="232.2" cy="200.9" r="1.85" fill="#2f8fcf"/>
<circle cx="233.6" cy="226.8" r="1.85" fill="#2f8fcf"/>
<circle cx="235" cy="226.6" r="1.85" fill="#2f8fcf"/>
<circle cx="244" cy="240" r="1.85" fill="#2f8fcf"/>
<circle cx="251.7" cy="175.5" r="1.85" fill="#2f8fcf"/>
<circle cx="253.9" cy="182" r="1.85" fill="#2f8fcf"/>
<circle cx="252.5" cy="185.6" r="1.85" fill="#2f8fcf"/>
<circle cx="253.9" cy="187.8" r="1.85" fill="#2f8fcf"/>
<circle cx="251.7" cy="196.5" r="1.85" fill="#2f8fcf"/>
<circle cx="252.8" cy="198.5" r="1.85" fill="#2f8fcf"/>
<circle cx="253.9" cy="200.9" r="1.85" fill="#2f8fcf"/>
<circle cx="252.5" cy="203" r="1.85" fill="#2f8fcf"/>
<circle cx="251.60000000000002" cy="204.0" r="1.85" fill="#2f8fcf"/>
<circle cx="252.4" cy="205.9" r="1.85" fill="#2f8fcf"/>
<circle cx="253.20000000000002" cy="207.8" r="1.85" fill="#2f8fcf"/>
<circle cx="254.0" cy="209.7" r="1.85" fill="#2f8fcf"/>
<circle cx="252.0" cy="211.6" r="1.85" fill="#2f8fcf"/>
<circle cx="252.8" cy="213.5" r="1.85" fill="#2f8fcf"/>
<circle cx="253.60000000000002" cy="215.4" r="1.85" fill="#2f8fcf"/>
<circle cx="251.60000000000002" cy="217.3" r="1.85" fill="#2f8fcf"/>
<circle cx="252.4" cy="219.2" r="1.85" fill="#2f8fcf"/>
<circle cx="253.20000000000002" cy="221.1" r="1.85" fill="#2f8fcf"/>
<circle cx="254.0" cy="223.0" r="1.85" fill="#2f8fcf"/>
<circle cx="252.0" cy="224.9" r="1.85" fill="#2f8fcf"/>
<circle cx="252.8" cy="226.8" r="1.85" fill="#2f8fcf"/>
<circle cx="253.60000000000002" cy="228.7" r="1.85" fill="#2f8fcf"/>
<circle cx="251.60000000000002" cy="230.6" r="1.85" fill="#2f8fcf"/>
<circle cx="252.4" cy="232.5" r="1.85" fill="#2f8fcf"/>
<circle cx="253.20000000000002" cy="234.4" r="1.85" fill="#2f8fcf"/>
<circle cx="254.0" cy="236.3" r="1.85" fill="#2f8fcf"/>
<circle cx="252.0" cy="238.2" r="1.85" fill="#2f8fcf"/>
<circle cx="252.8" cy="240.1" r="1.85" fill="#2f8fcf"/>
<circle cx="253.2" cy="240.5" r="1.85" fill="#2f8fcf"/>
<circle cx="253.2" cy="251.4" r="1.85" fill="#2f8fcf"/>
<circle cx="261.9" cy="170.4" r="1.85" fill="#2f8fcf"/>
<circle cx="263.4" cy="190" r="1.85" fill="#2f8fcf"/>
<circle cx="263.4" cy="194.4" r="1.85" fill="#2f8fcf"/>
<circle cx="263.4" cy="204.5" r="1.85" fill="#2f8fcf"/>
<circle cx="263.4" cy="209.6" r="1.85" fill="#2f8fcf"/>
<circle cx="263" cy="212.5" r="1.85" fill="#2f8fcf"/>
<circle cx="262.6" cy="218.4" r="1.85" fill="#2f8fcf"/>
<circle cx="262.6" cy="219.4" r="1.85" fill="#2f8fcf"/>
<circle cx="261.9" cy="224.2" r="1.85" fill="#2f8fcf"/>
<circle cx="262.6" cy="226.6" r="1.85" fill="#2f8fcf"/>
<circle cx="262.6" cy="230.3" r="1.85" fill="#2f8fcf"/>
<circle cx="272.8" cy="184.9" r="1.85" fill="#2f8fcf"/>
<circle cx="272.8" cy="200.9" r="1.85" fill="#2f8fcf"/>
<circle cx="272.1" cy="207.5" r="1.85" fill="#2f8fcf"/>
<circle cx="273.3" cy="209.7" r="1.85" fill="#2f8fcf"/>
<circle cx="272.8" cy="214" r="1.85" fill="#2f8fcf"/>
<circle cx="272.8" cy="216.5" r="1.85" fill="#2f8fcf"/>
<circle cx="273.5" cy="218" r="1.85" fill="#2f8fcf"/>
<circle cx="272" cy="220" r="1.85" fill="#2f8fcf"/>
<circle cx="272.8" cy="221.5" r="1.85" fill="#2f8fcf"/>
<circle cx="272.5" cy="224" r="1.85" fill="#2f8fcf"/>
<circle cx="272" cy="225.2" r="1.85" fill="#2f8fcf"/>
<circle cx="272.8" cy="228.1" r="1.85" fill="#2f8fcf"/>
<circle cx="273.5" cy="232.5" r="1.85" fill="#2f8fcf"/>
<circle cx="272.1" cy="243.4" r="1.85" fill="#2f8fcf"/>
<circle cx="282.9" cy="205.3" r="1.85" fill="#2f8fcf"/>
<circle cx="282.9" cy="209.6" r="1.85" fill="#2f8fcf"/>
<circle cx="283.6" cy="211.8" r="1.85" fill="#2f8fcf"/>
<circle cx="282.2" cy="227.1" r="1.85" fill="#2f8fcf"/>
<circle cx="292.4" cy="206" r="1.85" fill="#2f8fcf"/>
<circle cx="293.1" cy="214.7" r="1.85" fill="#2f8fcf"/>
<circle cx="293.1" cy="223.7" r="1.85" fill="#2f8fcf"/>
<circle cx="293.1" cy="228.8" r="1.85" fill="#2f8fcf"/>
<circle cx="292.4" cy="232.2" r="1.85" fill="#2f8fcf"/>
<circle cx="302.5" cy="183.5" r="1.85" fill="#2f8fcf"/>
<circle cx="301.8" cy="194.4" r="1.85" fill="#2f8fcf"/>
<circle cx="301.8" cy="196" r="1.85" fill="#2f8fcf"/>
<circle cx="302.5" cy="200.9" r="1.85" fill="#2f8fcf"/>
<circle cx="301.8" cy="205.3" r="1.85" fill="#2f8fcf"/>
<circle cx="302.2" cy="208.2" r="1.85" fill="#2f8fcf"/>
<circle cx="302.5" cy="220.5" r="1.85" fill="#2f8fcf"/>
<circle cx="301.8" cy="222" r="1.85" fill="#2f8fcf"/>
<circle cx="301.8" cy="225.2" r="1.85" fill="#2f8fcf"/>
<circle cx="302.5" cy="233.9" r="1.85" fill="#2f8fcf"/>
<circle cx="313.5" cy="188.5" r="1.85" fill="#2f8fcf"/>
<circle cx="312" cy="190.7" r="1.85" fill="#2f8fcf"/>
<circle cx="311.3" cy="192.9" r="1.85" fill="#2f8fcf"/>
<circle cx="312" cy="205.3" r="1.85" fill="#2f8fcf"/>
<circle cx="312" cy="210.4" r="1.85" fill="#2f8fcf"/>
<circle cx="311.3" cy="229.3" r="1.85" fill="#2f8fcf"/>
<circle cx="311.7" cy="230.3" r="1.85" fill="#2f8fcf"/>
<circle cx="312" cy="241.9" r="1.85" fill="#2f8fcf"/>
<circle cx="322.2" cy="216.6" r="1.85" fill="#2f8fcf"/>
<circle cx="321.5" cy="244.1" r="1.85" fill="#2f8fcf"/>
<circle cx="332.5" cy="198" r="1.85" fill="#2f8fcf"/>
<circle cx="332.5" cy="220.5" r="1.85" fill="#2f8fcf"/>
<circle cx="113.4" cy="176.9" r="3.4" fill="#e8421f"/>
<line x1="116" y1="174" x2="122.5" y2="168.9" stroke="#222" stroke-width="0.9"/>
<text x="104.40" y="168.20" font-size="6.6" font-weight="bold" text-anchor="start" fill="#1a1a1a" textLength="40.7" lengthAdjust="spacingAndGlyphs">MDA-MB-231</text>
<circle cx="251.7" cy="209.9" r="3.2" fill="#e4e01e"/>
<line x1="237.9" y1="195.8" x2="249.5" y2="207.5" stroke="#222" stroke-width="0.9"/>
<text x="231.50" y="193.60" font-size="6.6" font-weight="bold" text-anchor="start" fill="#1a1a1a" textLength="14.8" lengthAdjust="spacingAndGlyphs">A549</text>
<line x1="74.60" y1="307" x2="74.60" y2="308.6" stroke="#333" stroke-width="0.6"/>
<text x="71.00" y="312.00" font-size="6.6" font-weight="bold" text-anchor="start" fill="#1a1a1a" transform="rotate(50 71.00 312.00)">B. Cell Lymphoma</text>
<line x1="84.50" y1="307" x2="84.50" y2="308.6" stroke="#333" stroke-width="0.6"/>
<text x="80.90" y="312.00" font-size="6.6" font-weight="bold" text-anchor="start" fill="#1a1a1a" transform="rotate(50 80.90 312.00)">Bladder Cancer</text>
<line x1="94.40" y1="307" x2="94.40" y2="308.6" stroke="#333" stroke-width="0.6"/>
<text x="90.80" y="312.00" font-size="6.6" font-weight="bold" text-anchor="start" fill="#1a1a1a" transform="rotate(50 90.80 312.00)">Blood Cancer</text>
<line x1="104.30" y1="307" x2="104.30" y2="308.6" stroke="#333" stroke-width="0.6"/>
<text x="100.70" y="312.00" font-size="6.6" font-weight="bold" text-anchor="start" fill="#1a1a1a" transform="rotate(50 100.70 312.00)">Bone Cancer</text>
<line x1="114.20" y1="307" x2="114.20" y2="308.6" stroke="#333" stroke-width="0.6"/>
<text x="110.60" y="312.00" font-size="6.6" font-weight="bold" text-anchor="start" fill="#1a1a1a" transform="rotate(50 110.60 312.00)">Breast Cancer</text>
<line x1="124.10" y1="307" x2="124.10" y2="308.6" stroke="#333" stroke-width="0.6"/>
<text x="120.50" y="312.00" font-size="6.6" font-weight="bold" text-anchor="start" fill="#1a1a1a" transform="rotate(50 120.50 312.00)">Colorectal Cancer</text>
<line x1="134.00" y1="307" x2="134.00" y2="308.6" stroke="#333" stroke-width="0.6"/>
<text x="130.40" y="312.00" font-size="6.6" font-weight="bold" text-anchor="start" fill="#1a1a1a" transform="rotate(50 130.40 312.00)">Embryonal Tumor</text>
<line x1="143.90" y1="307" x2="143.90" y2="308.6" stroke="#333" stroke-width="0.6"/>
<text x="140.30" y="312.00" font-size="6.6" font-weight="bold" text-anchor="start" fill="#1a1a1a" transform="rotate(50 140.30 312.00)">Endometrial Cancer</text>
<line x1="153.80" y1="307" x2="153.80" y2="308.6" stroke="#333" stroke-width="0.6"/>
<text x="150.20" y="312.00" font-size="6.6" font-weight="bold" text-anchor="start" fill="#1a1a1a" transform="rotate(50 150.20 312.00)">Esophagogastric Cancer</text>
<line x1="163.70" y1="307" x2="163.70" y2="308.6" stroke="#333" stroke-width="0.6"/>
<text x="160.10" y="312.00" font-size="6.6" font-weight="bold" text-anchor="start" fill="#1a1a1a" transform="rotate(50 160.10 312.00)">Glioma</text>
<line x1="173.60" y1="307" x2="173.60" y2="308.6" stroke="#333" stroke-width="0.6"/>
<text x="170.00" y="312.00" font-size="6.6" font-weight="bold" text-anchor="start" fill="#1a1a1a" transform="rotate(50 170.00 312.00)">Hepatobiliary Cancer</text>
<line x1="183.50" y1="307" x2="183.50" y2="308.6" stroke="#333" stroke-width="0.6"/>
<text x="179.90" y="312.00" font-size="6.6" font-weight="bold" text-anchor="start" fill="#1a1a1a" transform="rotate(50 179.90 312.00)">Hodgkin Lymphoma</text>
<line x1="193.40" y1="307" x2="193.40" y2="308.6" stroke="#333" stroke-width="0.6"/>
<text x="189.80" y="312.00" font-size="6.6" font-weight="bold" text-anchor="start" fill="#1a1a1a" transform="rotate(50 189.80 312.00)">Kidney Cancer</text>
<line x1="203.30" y1="307" x2="203.30" y2="308.6" stroke="#333" stroke-width="0.6"/>
<text x="199.70" y="312.00" font-size="6.6" font-weight="bold" text-anchor="start" fill="#1a1a1a" transform="rotate(50 199.70 312.00)">Leukemia</text>
<line x1="213.20" y1="307" x2="213.20" y2="308.6" stroke="#333" stroke-width="0.6"/>
<text x="209.60" y="312.00" font-size="6.6" font-weight="bold" text-anchor="start" fill="#1a1a1a" transform="rotate(50 209.60 312.00)">Mature B-Cell Neoplasms</text>
<line x1="223.10" y1="307" x2="223.10" y2="308.6" stroke="#333" stroke-width="0.6"/>
<text x="219.50" y="312.00" font-size="6.6" font-weight="bold" text-anchor="start" fill="#1a1a1a" transform="rotate(50 219.50 312.00)">Melanoma</text>
<line x1="233.00" y1="307" x2="233.00" y2="308.6" stroke="#333" stroke-width="0.6"/>
<text x="229.40" y="312.00" font-size="6.6" font-weight="bold" text-anchor="start" fill="#1a1a1a" transform="rotate(50 229.40 312.00)">Mesothelioma</text>
<line x1="242.90" y1="307" x2="242.90" y2="308.6" stroke="#333" stroke-width="0.6"/>
<text x="239.30" y="312.00" font-size="6.6" font-weight="bold" text-anchor="start" fill="#1a1a1a" transform="rotate(50 239.30 312.00)">Neuroblastoma</text>
<line x1="252.80" y1="307" x2="252.80" y2="308.6" stroke="#333" stroke-width="0.6"/>
<text x="249.20" y="312.00" font-size="6.6" font-weight="bold" text-anchor="start" fill="#1a1a1a" transform="rotate(50 249.20 312.00)">Non-Small Cell Lung Cancer</text>
<line x1="262.70" y1="307" x2="262.70" y2="308.6" stroke="#333" stroke-width="0.6"/>
<text x="259.10" y="312.00" font-size="6.6" font-weight="bold" text-anchor="start" fill="#1a1a1a" transform="rotate(50 259.10 312.00)">Ovarian Cancer</text>
<line x1="272.60" y1="307" x2="272.60" y2="308.6" stroke="#333" stroke-width="0.6"/>
<text x="269.00" y="312.00" font-size="6.6" font-weight="bold" text-anchor="start" fill="#1a1a1a" transform="rotate(50 269.00 312.00)">Pancreatic Cancer</text>
<line x1="282.50" y1="307" x2="282.50" y2="308.6" stroke="#333" stroke-width="0.6"/>
<text x="278.90" y="312.00" font-size="6.6" font-weight="bold" text-anchor="start" fill="#1a1a1a" transform="rotate(50 278.90 312.00)">Prostate Cancer</text>
<line x1="292.40" y1="307" x2="292.40" y2="308.6" stroke="#333" stroke-width="0.6"/>
<text x="288.80" y="312.00" font-size="6.6" font-weight="bold" text-anchor="start" fill="#1a1a1a" transform="rotate(50 288.80 312.00)">Renal Cell Carcinoma</text>
<line x1="302.30" y1="307" x2="302.30" y2="308.6" stroke="#333" stroke-width="0.6"/>
<text x="298.70" y="312.00" font-size="6.6" font-weight="bold" text-anchor="start" fill="#1a1a1a" transform="rotate(50 298.70 312.00)">Small Cell Lung Cancer</text>
<line x1="312.20" y1="307" x2="312.20" y2="308.6" stroke="#333" stroke-width="0.6"/>
<text x="308.60" y="312.00" font-size="6.6" font-weight="bold" text-anchor="start" fill="#1a1a1a" transform="rotate(50 308.60 312.00)">Soft Tissue Sarcoma</text>
<line x1="322.10" y1="307" x2="322.10" y2="308.6" stroke="#333" stroke-width="0.6"/>
<text x="318.50" y="312.00" font-size="6.6" font-weight="bold" text-anchor="start" fill="#1a1a1a" transform="rotate(50 318.50 312.00)">T. Cell Lymphoma</text>
<line x1="332.00" y1="307" x2="332.00" y2="308.6" stroke="#333" stroke-width="0.6"/>
<text x="328.40" y="312.00" font-size="6.6" font-weight="bold" text-anchor="start" fill="#1a1a1a" transform="rotate(50 328.40 312.00)">Thyroid Cancer</text>
<rect x="0" y="0" width="49" height="7.8" fill="none" stroke="#7a3050" stroke-width="0.8" transform="translate(112.6 307.4) rotate(50)"/>
<rect x="0" y="0" width="92" height="7.2" fill="none" stroke="#7a3050" stroke-width="0.8" transform="translate(254.0 307.6) rotate(50)"/>
<text x="143.40" y="378.00" font-size="9.2" font-weight="bold" text-anchor="start" fill="#1a1a1a" textLength="108.3" lengthAdjust="spacingAndGlyphs">Cancer type (CCLE data)</text>
<text x="2.90" y="404.60" font-size="10.2" font-weight="bold" text-anchor="start" fill="#1a1a1a" textLength="14" lengthAdjust="spacingAndGlyphs">(C)</text>
<line x1="51.20" y1="406" x2="51.20" y2="523" stroke="#e9e9e9" stroke-width="0.6" stroke-dasharray="2.5 1"/>
<line x1="51.20" y1="523.7" x2="51.20" y2="525" stroke="#333" stroke-width="0.5"/>
<text x="51.20" y="530.30" font-size="4.3" font-weight="bold" text-anchor="middle" fill="#333">-6</text>
<line x1="68.30" y1="406" x2="68.30" y2="523" stroke="#e9e9e9" stroke-width="0.6" stroke-dasharray="2.5 1"/>
<line x1="68.30" y1="523.7" x2="68.30" y2="525" stroke="#333" stroke-width="0.5"/>
<text x="68.30" y="530.30" font-size="4.3" font-weight="bold" text-anchor="middle" fill="#333">-4</text>
<line x1="85.40" y1="406" x2="85.40" y2="523" stroke="#e9e9e9" stroke-width="0.6" stroke-dasharray="2.5 1"/>
<line x1="85.40" y1="523.7" x2="85.40" y2="525" stroke="#333" stroke-width="0.5"/>
<text x="85.40" y="530.30" font-size="4.3" font-weight="bold" text-anchor="middle" fill="#333">-2</text>
<line x1="102.50" y1="406" x2="102.50" y2="523" stroke="#e9e9e9" stroke-width="0.6" stroke-dasharray="2.5 1"/>
<line x1="102.50" y1="523.7" x2="102.50" y2="525" stroke="#333" stroke-width="0.5"/>
<text x="102.50" y="530.30" font-size="4.3" font-weight="bold" text-anchor="middle" fill="#333">0</text>
<line x1="119.60" y1="406" x2="119.60" y2="523" stroke="#e9e9e9" stroke-width="0.6" stroke-dasharray="2.5 1"/>
<line x1="119.60" y1="523.7" x2="119.60" y2="525" stroke="#333" stroke-width="0.5"/>
<text x="119.60" y="530.30" font-size="4.3" font-weight="bold" text-anchor="middle" fill="#333">2</text>
<line x1="136.70" y1="406" x2="136.70" y2="523" stroke="#e9e9e9" stroke-width="0.6" stroke-dasharray="2.5 1"/>
<line x1="136.70" y1="523.7" x2="136.70" y2="525" stroke="#333" stroke-width="0.5"/>
<text x="136.70" y="530.30" font-size="4.3" font-weight="bold" text-anchor="middle" fill="#333">4</text>
<line x1="33.5" y1="514.50" x2="151" y2="514.50" stroke="#e9e9e9" stroke-width="0.6" stroke-dasharray="2.5 1"/>
<line x1="31.8" y1="514.50" x2="33" y2="514.50" stroke="#333" stroke-width="0.5"/>
<text x="31.90" y="518.50" font-size="4.1" font-weight="bold" text-anchor="end" fill="#222">0</text>
<line x1="33.5" y1="495.00" x2="151" y2="495.00" stroke="#e9e9e9" stroke-width="0.6" stroke-dasharray="2.5 1"/>
<line x1="31.8" y1="495.00" x2="33" y2="495.00" stroke="#333" stroke-width="0.5"/>
<text x="31.90" y="499.00" font-size="4.1" font-weight="bold" text-anchor="end" fill="#222">10</text>
<line x1="33.5" y1="475.50" x2="151" y2="475.50" stroke="#e9e9e9" stroke-width="0.6" stroke-dasharray="2.5 1"/>
<line x1="31.8" y1="475.50" x2="33" y2="475.50" stroke="#333" stroke-width="0.5"/>
<text x="31.90" y="479.50" font-size="4.1" font-weight="bold" text-anchor="end" fill="#222">20</text>
<line x1="33.5" y1="456.00" x2="151" y2="456.00" stroke="#e9e9e9" stroke-width="0.6" stroke-dasharray="2.5 1"/>
<line x1="31.8" y1="456.00" x2="33" y2="456.00" stroke="#333" stroke-width="0.5"/>
<text x="31.90" y="460.00" font-size="4.1" font-weight="bold" text-anchor="end" fill="#222">30</text>
<line x1="33.5" y1="436.50" x2="151" y2="436.50" stroke="#e9e9e9" stroke-width="0.6" stroke-dasharray="2.5 1"/>
<line x1="31.8" y1="436.50" x2="33" y2="436.50" stroke="#333" stroke-width="0.5"/>
<text x="31.90" y="440.50" font-size="4.1" font-weight="bold" text-anchor="end" fill="#222">40</text>
<line x1="33.5" y1="417.00" x2="151" y2="417.00" stroke="#e9e9e9" stroke-width="0.6" stroke-dasharray="2.5 1"/>
<line x1="31.8" y1="417.00" x2="33" y2="417.00" stroke="#333" stroke-width="0.5"/>
<text x="31.90" y="421.00" font-size="4.1" font-weight="bold" text-anchor="end" fill="#222">50</text>
<line x1="33.5" y1="405" x2="33.5" y2="524.2" stroke="#333" stroke-width="1"/>
<line x1="32.6" y1="523.7" x2="151.6" y2="523.7" stroke="#333" stroke-width="0.9"/>
<text x="16.00" y="466.70" font-size="7.6" font-weight="normal" text-anchor="middle" fill="#1a1a1a" textLength="86.7" lengthAdjust="spacingAndGlyphs" transform="rotate(-90 16.00 466.70)"><tspan font-style="italic">ENPP1</tspan> mRNA expression</text>
<text x="25.50" y="466.60" font-size="7.6" font-weight="normal" text-anchor="middle" fill="#1a1a1a" textLength="56" lengthAdjust="spacingAndGlyphs" transform="rotate(-90 25.50 466.60)">(RNA Seq RPKM)</text>
<circle cx="90.73" cy="510.85" r="1.1" fill="#2f8fcf"/>
<circle cx="111.66" cy="502.04" r="1.1" fill="#2f8fcf"/>
<circle cx="104.30" cy="507.14" r="1.1" fill="#2f8fcf"/>
<circle cx="73.71" cy="513.04" r="1.1" fill="#2f8fcf"/>
<circle cx="72.40" cy="512.88" r="1.1" fill="#2f8fcf"/>
<circle cx="74.47" cy="511.94" r="1.1" fill="#2f8fcf"/>
<circle cx="97.17" cy="513.00" r="1.1" fill="#2f8fcf"/>
<circle cx="77.92" cy="512.17" r="1.1" fill="#2f8fcf"/>
<circle cx="110.16" cy="513.55" r="1.1" fill="#2f8fcf"/>
<circle cx="106.93" cy="506.91" r="1.1" fill="#2f8fcf"/>
<circle cx="132.48" cy="504.85" r="1.1" fill="#2f8fcf"/>
<circle cx="88.53" cy="511.12" r="1.1" fill="#2f8fcf"/>
<circle cx="77.54" cy="512.41" r="1.1" fill="#2f8fcf"/>
<circle cx="122.23" cy="503.32" r="1.1" fill="#2f8fcf"/>
<circle cx="110.89" cy="506.08" r="1.1" fill="#2f8fcf"/>
<circle cx="105.06" cy="503.44" r="1.1" fill="#2f8fcf"/>
<circle cx="73.81" cy="512.26" r="1.1" fill="#2f8fcf"/>
<circle cx="107.48" cy="507.53" r="1.1" fill="#2f8fcf"/>
<circle cx="89.19" cy="513.49" r="1.1" fill="#2f8fcf"/>
<circle cx="114.74" cy="503.94" r="1.1" fill="#2f8fcf"/>
<circle cx="103.61" cy="512.88" r="1.1" fill="#2f8fcf"/>
<circle cx="116.68" cy="504.40" r="1.1" fill="#2f8fcf"/>
<circle cx="77.56" cy="512.71" r="1.1" fill="#2f8fcf"/>
<circle cx="72.51" cy="513.46" r="1.1" fill="#2f8fcf"/>
<circle cx="118.93" cy="508.34" r="1.1" fill="#2f8fcf"/>
<circle cx="90.08" cy="513.07" r="1.1" fill="#2f8fcf"/>
<circle cx="108.04" cy="509.03" r="1.1" fill="#2f8fcf"/>
<circle cx="99.20" cy="512.87" r="1.1" fill="#2f8fcf"/>
<circle cx="130.46" cy="505.71" r="1.1" fill="#2f8fcf"/>
<circle cx="73.88" cy="513.53" r="1.1" fill="#2f8fcf"/>
<circle cx="111.42" cy="514.13" r="1.1" fill="#2f8fcf"/>
<circle cx="80.76" cy="511.77" r="1.1" fill="#2f8fcf"/>
<circle cx="73.77" cy="513.70" r="1.1" fill="#2f8fcf"/>
<circle cx="78.28" cy="512.22" r="1.1" fill="#2f8fcf"/>
<circle cx="95.02" cy="513.48" r="1.1" fill="#2f8fcf"/>
<circle cx="75.16" cy="512.85" r="1.1" fill="#2f8fcf"/>
<circle cx="105.16" cy="512.88" r="1.1" fill="#2f8fcf"/>
<circle cx="122.43" cy="511.75" r="1.1" fill="#2f8fcf"/>
<circle cx="96.58" cy="509.87" r="1.1" fill="#2f8fcf"/>
<circle cx="126.59" cy="510.63" r="1.1" fill="#2f8fcf"/>
<circle cx="81.28" cy="512.08" r="1.1" fill="#2f8fcf"/>
<circle cx="84.93" cy="512.67" r="1.1" fill="#2f8fcf"/>
<circle cx="107.70" cy="505.16" r="1.1" fill="#2f8fcf"/>
<circle cx="70.26" cy="512.90" r="1.1" fill="#2f8fcf"/>
<circle cx="93.63" cy="511.95" r="1.1" fill="#2f8fcf"/>
<circle cx="131.00" cy="506.25" r="1.1" fill="#2f8fcf"/>
<circle cx="109.53" cy="510.12" r="1.1" fill="#2f8fcf"/>
<circle cx="73.46" cy="514.04" r="1.1" fill="#2f8fcf"/>
<circle cx="119.92" cy="512.50" r="1.1" fill="#2f8fcf"/>
<circle cx="95.11" cy="510.63" r="1.1" fill="#2f8fcf"/>
<circle cx="76.63" cy="513.31" r="1.1" fill="#2f8fcf"/>
<circle cx="73.98" cy="511.90" r="1.1" fill="#2f8fcf"/>
<circle cx="83.36" cy="511.81" r="1.1" fill="#2f8fcf"/>
<circle cx="91.76" cy="510.07" r="1.1" fill="#2f8fcf"/>
<circle cx="70.01" cy="512.26" r="1.1" fill="#2f8fcf"/>
<circle cx="76.49" cy="512.59" r="1.1" fill="#2f8fcf"/>
<circle cx="71.63" cy="513.99" r="1.1" fill="#2f8fcf"/>
<circle cx="109.30" cy="503.47" r="1.1" fill="#2f8fcf"/>
<circle cx="86.14" cy="512.11" r="1.1" fill="#2f8fcf"/>
<circle cx="93.31" cy="509.73" r="1.1" fill="#2f8fcf"/>
<circle cx="124.33" cy="512.33" r="1.1" fill="#2f8fcf"/>
<circle cx="100.97" cy="505.36" r="1.1" fill="#2f8fcf"/>
<circle cx="76.54" cy="512.53" r="1.1" fill="#2f8fcf"/>
<circle cx="86.94" cy="513.68" r="1.1" fill="#2f8fcf"/>
<circle cx="80.33" cy="511.52" r="1.1" fill="#2f8fcf"/>
<circle cx="104.76" cy="503.15" r="1.1" fill="#2f8fcf"/>
<circle cx="103.80" cy="514.00" r="1.1" fill="#2f8fcf"/>
<circle cx="125.25" cy="508.90" r="1.1" fill="#2f8fcf"/>
<circle cx="93.47" cy="509.89" r="1.1" fill="#2f8fcf"/>
<circle cx="119.40" cy="507.82" r="1.1" fill="#2f8fcf"/>
<circle cx="91.10" cy="511.07" r="1.1" fill="#2f8fcf"/>
<circle cx="121.94" cy="513.50" r="1.1" fill="#2f8fcf"/>
<circle cx="121.59" cy="511.53" r="1.1" fill="#2f8fcf"/>
<circle cx="84.51" cy="512.80" r="1.1" fill="#2f8fcf"/>
<circle cx="92.76" cy="509.50" r="1.1" fill="#2f8fcf"/>
<circle cx="71.79" cy="512.51" r="1.1" fill="#2f8fcf"/>
<circle cx="86.59" cy="513.23" r="1.1" fill="#2f8fcf"/>
<circle cx="131.22" cy="505.49" r="1.1" fill="#2f8fcf"/>
<circle cx="133.23" cy="505.48" r="1.1" fill="#2f8fcf"/>
<circle cx="84.11" cy="511.96" r="1.1" fill="#2f8fcf"/>
<circle cx="82.59" cy="511.96" r="1.1" fill="#2f8fcf"/>
<circle cx="109.94" cy="512.95" r="1.1" fill="#2f8fcf"/>
<circle cx="123.79" cy="506.86" r="1.1" fill="#2f8fcf"/>
<circle cx="121.18" cy="501.99" r="1.1" fill="#2f8fcf"/>
<circle cx="128.23" cy="508.15" r="1.1" fill="#2f8fcf"/>
<circle cx="100.59" cy="506.46" r="1.1" fill="#2f8fcf"/>
<circle cx="120.50" cy="505.22" r="1.1" fill="#2f8fcf"/>
<circle cx="130.60" cy="506.55" r="1.1" fill="#2f8fcf"/>
<circle cx="78.13" cy="511.96" r="1.1" fill="#2f8fcf"/>
<circle cx="127.91" cy="508.50" r="1.1" fill="#2f8fcf"/>
<circle cx="122.90" cy="512.94" r="1.1" fill="#2f8fcf"/>
<circle cx="92.43" cy="512.12" r="1.1" fill="#2f8fcf"/>
<circle cx="78.38" cy="511.58" r="1.1" fill="#2f8fcf"/>
<circle cx="132.14" cy="505.67" r="1.1" fill="#2f8fcf"/>
<circle cx="129.75" cy="505.66" r="1.1" fill="#2f8fcf"/>
<circle cx="88.75" cy="511.45" r="1.1" fill="#2f8fcf"/>
<circle cx="107.53" cy="505.15" r="1.1" fill="#2f8fcf"/>
<circle cx="96.82" cy="508.18" r="1.1" fill="#2f8fcf"/>
<circle cx="107.33" cy="513.06" r="1.1" fill="#2f8fcf"/>
<circle cx="96.92" cy="513.67" r="1.1" fill="#2f8fcf"/>
<circle cx="102.11" cy="509.45" r="1.1" fill="#2f8fcf"/>
<circle cx="103.50" cy="503.60" r="1.1" fill="#2f8fcf"/>
<circle cx="98.17" cy="507.81" r="1.1" fill="#2f8fcf"/>
<circle cx="70.25" cy="513.82" r="1.1" fill="#2f8fcf"/>
<circle cx="81.03" cy="512.78" r="1.1" fill="#2f8fcf"/>
<circle cx="103.17" cy="509.48" r="1.1" fill="#2f8fcf"/>
<circle cx="120.19" cy="502.13" r="1.1" fill="#2f8fcf"/>
<circle cx="85.90" cy="511.91" r="1.1" fill="#2f8fcf"/>
<circle cx="119.42" cy="507.49" r="1.1" fill="#2f8fcf"/>
<circle cx="118.64" cy="513.00" r="1.1" fill="#2f8fcf"/>
<circle cx="109.20" cy="507.99" r="1.1" fill="#2f8fcf"/>
<circle cx="102.78" cy="511.00" r="1.1" fill="#2f8fcf"/>
<circle cx="98.95" cy="510.33" r="1.1" fill="#2f8fcf"/>
<circle cx="100.59" cy="513.69" r="1.1" fill="#2f8fcf"/>
<circle cx="114.75" cy="512.53" r="1.1" fill="#2f8fcf"/>
<circle cx="86.61" cy="512.78" r="1.1" fill="#2f8fcf"/>
<circle cx="130.37" cy="507.09" r="1.1" fill="#2f8fcf"/>
<circle cx="77.78" cy="512.77" r="1.1" fill="#2f8fcf"/>
<circle cx="74.64" cy="512.32" r="1.1" fill="#2f8fcf"/>
<circle cx="74.68" cy="513.43" r="1.1" fill="#2f8fcf"/>
<circle cx="120.17" cy="512.81" r="1.1" fill="#2f8fcf"/>
<circle cx="115.83" cy="509.56" r="1.1" fill="#2f8fcf"/>
<circle cx="126.50" cy="510.78" r="1.1" fill="#2f8fcf"/>
<circle cx="133.35" cy="505.42" r="1.1" fill="#2f8fcf"/>
<circle cx="97.62" cy="510.61" r="1.1" fill="#2f8fcf"/>
<circle cx="91.70" cy="510.72" r="1.1" fill="#2f8fcf"/>
<circle cx="90.39" cy="513.16" r="1.1" fill="#2f8fcf"/>
<circle cx="71.25" cy="513.20" r="1.1" fill="#2f8fcf"/>
<circle cx="98.19" cy="506.50" r="1.1" fill="#2f8fcf"/>
<circle cx="91.22" cy="512.69" r="1.1" fill="#2f8fcf"/>
<circle cx="102.78" cy="504.39" r="1.1" fill="#2f8fcf"/>
<circle cx="133.05" cy="505.39" r="1.1" fill="#2f8fcf"/>
<circle cx="76.71" cy="512.32" r="1.1" fill="#2f8fcf"/>
<circle cx="72.53" cy="513.74" r="1.1" fill="#2f8fcf"/>
<circle cx="87.31" cy="511.23" r="1.1" fill="#2f8fcf"/>
<circle cx="97.02" cy="513.62" r="1.1" fill="#2f8fcf"/>
<circle cx="128.83" cy="506.58" r="1.1" fill="#2f8fcf"/>
<circle cx="75.73" cy="511.81" r="1.1" fill="#2f8fcf"/>
<circle cx="130.05" cy="506.44" r="1.1" fill="#2f8fcf"/>
<circle cx="75.36" cy="513.91" r="1.1" fill="#2f8fcf"/>
<circle cx="74.26" cy="513.94" r="1.1" fill="#2f8fcf"/>
<circle cx="99.04" cy="508.66" r="1.1" fill="#2f8fcf"/>
<circle cx="105.40" cy="513.38" r="1.1" fill="#2f8fcf"/>
<circle cx="87.14" cy="511.25" r="1.1" fill="#2f8fcf"/>
<circle cx="103.72" cy="505.91" r="1.1" fill="#2f8fcf"/>
<circle cx="77.00" cy="512.03" r="1.1" fill="#2f8fcf"/>
<circle cx="73.22" cy="512.27" r="1.1" fill="#2f8fcf"/>
<circle cx="89.97" cy="511.55" r="1.1" fill="#2f8fcf"/>
<circle cx="81.39" cy="512.41" r="1.1" fill="#2f8fcf"/>
<circle cx="71.16" cy="512.46" r="1.1" fill="#2f8fcf"/>
<circle cx="70.98" cy="513.65" r="1.1" fill="#2f8fcf"/>
<circle cx="105.27" cy="504.82" r="1.1" fill="#2f8fcf"/>
<circle cx="100.38" cy="513.63" r="1.1" fill="#2f8fcf"/>
<circle cx="76.80" cy="513.80" r="1.1" fill="#2f8fcf"/>
<circle cx="97.66" cy="510.44" r="1.1" fill="#2f8fcf"/>
<circle cx="114.02" cy="513.98" r="1.1" fill="#2f8fcf"/>
<circle cx="123.27" cy="509.55" r="1.1" fill="#2f8fcf"/>
<circle cx="95.90" cy="510.07" r="1.1" fill="#2f8fcf"/>
<circle cx="73.48" cy="512.08" r="1.1" fill="#2f8fcf"/>
<circle cx="74.53" cy="513.62" r="1.1" fill="#2f8fcf"/>
<circle cx="86.36" cy="511.47" r="1.1" fill="#2f8fcf"/>
<circle cx="75.41" cy="513.87" r="1.1" fill="#2f8fcf"/>
<circle cx="125.71" cy="508.53" r="1.1" fill="#2f8fcf"/>
<circle cx="85.50" cy="512.00" r="1.1" fill="#2f8fcf"/>
<circle cx="99.40" cy="506.92" r="1.1" fill="#2f8fcf"/>
<circle cx="98.53" cy="508.26" r="1.1" fill="#2f8fcf"/>
<circle cx="131.55" cy="506.64" r="1.1" fill="#2f8fcf"/>
<circle cx="85.64" cy="514.16" r="1.1" fill="#2f8fcf"/>
<circle cx="89.81" cy="511.77" r="1.1" fill="#2f8fcf"/>
<circle cx="70.07" cy="512.81" r="1.1" fill="#2f8fcf"/>
<circle cx="100.38" cy="509.60" r="1.1" fill="#2f8fcf"/>
<circle cx="82.86" cy="512.83" r="1.1" fill="#2f8fcf"/>
<circle cx="70.32" cy="512.52" r="1.1" fill="#2f8fcf"/>
<circle cx="75.74" cy="512.71" r="1.1" fill="#2f8fcf"/>
<circle cx="72.67" cy="511.84" r="1.1" fill="#2f8fcf"/>
<circle cx="89.47" cy="511.33" r="1.1" fill="#2f8fcf"/>
<circle cx="107.48" cy="508.46" r="1.1" fill="#2f8fcf"/>
<circle cx="118.03" cy="509.45" r="1.1" fill="#2f8fcf"/>
<circle cx="133.02" cy="505.07" r="1.1" fill="#2f8fcf"/>
<circle cx="111.17" cy="501.76" r="1.1" fill="#2f8fcf"/>
<circle cx="123.46" cy="511.63" r="1.1" fill="#2f8fcf"/>
<circle cx="116.97" cy="511.62" r="1.1" fill="#2f8fcf"/>
<circle cx="103.52" cy="508.86" r="1.1" fill="#2f8fcf"/>
<circle cx="123.44" cy="510.63" r="1.1" fill="#2f8fcf"/>
<circle cx="107.38" cy="512.92" r="1.1" fill="#2f8fcf"/>
<circle cx="113.71" cy="510.08" r="1.1" fill="#2f8fcf"/>
<circle cx="71.99" cy="512.14" r="1.1" fill="#2f8fcf"/>
<circle cx="93.09" cy="509.73" r="1.1" fill="#2f8fcf"/>
<circle cx="123.49" cy="507.79" r="1.1" fill="#2f8fcf"/>
<circle cx="110.08" cy="510.14" r="1.1" fill="#2f8fcf"/>
<circle cx="101.31" cy="504.39" r="1.1" fill="#2f8fcf"/>
<circle cx="121.05" cy="510.82" r="1.1" fill="#2f8fcf"/>
<circle cx="104.25" cy="510.43" r="1.1" fill="#2f8fcf"/>
<circle cx="74.23" cy="513.61" r="1.1" fill="#2f8fcf"/>
<circle cx="86.14" cy="511.21" r="1.1" fill="#2f8fcf"/>
<circle cx="87.00" cy="513.34" r="1.1" fill="#2f8fcf"/>
<circle cx="83.13" cy="513.51" r="1.1" fill="#2f8fcf"/>
<circle cx="100.66" cy="511.23" r="1.1" fill="#2f8fcf"/>
<circle cx="119.09" cy="508.95" r="1.1" fill="#2f8fcf"/>
<circle cx="74.96" cy="512.07" r="1.1" fill="#2f8fcf"/>
<circle cx="86.25" cy="513.42" r="1.1" fill="#2f8fcf"/>
<circle cx="89.48" cy="512.61" r="1.1" fill="#2f8fcf"/>
<circle cx="70.80" cy="512.01" r="1.1" fill="#2f8fcf"/>
<circle cx="87.20" cy="513.13" r="1.1" fill="#2f8fcf"/>
<circle cx="114.30" cy="509.82" r="1.1" fill="#2f8fcf"/>
<circle cx="103.06" cy="508.54" r="1.1" fill="#2f8fcf"/>
<circle cx="99.85" cy="506.33" r="1.1" fill="#2f8fcf"/>
<circle cx="127.19" cy="504.25" r="1.1" fill="#2f8fcf"/>
<circle cx="122.47" cy="513.01" r="1.1" fill="#2f8fcf"/>
<circle cx="87.19" cy="511.53" r="1.1" fill="#2f8fcf"/>
<circle cx="130.52" cy="504.76" r="1.1" fill="#2f8fcf"/>
<circle cx="79.07" cy="512.96" r="1.1" fill="#2f8fcf"/>
<circle cx="130.98" cy="504.59" r="1.1" fill="#2f8fcf"/>
<circle cx="102.56" cy="513.06" r="1.1" fill="#2f8fcf"/>
<circle cx="115.01" cy="503.75" r="1.1" fill="#2f8fcf"/>
<circle cx="101.11" cy="504.69" r="1.1" fill="#2f8fcf"/>
<circle cx="70.23" cy="513.07" r="1.1" fill="#2f8fcf"/>
<circle cx="98.85" cy="508.43" r="1.1" fill="#2f8fcf"/>
<circle cx="79.01" cy="512.47" r="1.1" fill="#2f8fcf"/>
<circle cx="90.23" cy="513.63" r="1.1" fill="#2f8fcf"/>
<circle cx="70.11" cy="513.70" r="1.1" fill="#2f8fcf"/>
<circle cx="123.70" cy="502.81" r="1.1" fill="#2f8fcf"/>
<circle cx="115.63" cy="512.86" r="1.1" fill="#2f8fcf"/>
<circle cx="93.82" cy="510.97" r="1.1" fill="#2f8fcf"/>
<circle cx="97.40" cy="508.91" r="1.1" fill="#2f8fcf"/>
<circle cx="73.09" cy="512.02" r="1.1" fill="#2f8fcf"/>
<circle cx="123.42" cy="504.65" r="1.1" fill="#2f8fcf"/>
<circle cx="85.96" cy="511.86" r="1.1" fill="#2f8fcf"/>
<circle cx="102.70" cy="505.74" r="1.1" fill="#2f8fcf"/>
<circle cx="93.89" cy="514.01" r="1.1" fill="#2f8fcf"/>
<circle cx="126.59" cy="509.39" r="1.1" fill="#2f8fcf"/>
<circle cx="128.46" cy="508.98" r="1.1" fill="#2f8fcf"/>
<circle cx="116.05" cy="501.17" r="1.1" fill="#2f8fcf"/>
<circle cx="98.86" cy="512.18" r="1.1" fill="#2f8fcf"/>
<circle cx="111.25" cy="504.91" r="1.1" fill="#2f8fcf"/>
<circle cx="73.13" cy="514.11" r="1.1" fill="#2f8fcf"/>
<circle cx="78.15" cy="512.84" r="1.1" fill="#2f8fcf"/>
<circle cx="91.99" cy="511.07" r="1.1" fill="#2f8fcf"/>
<circle cx="117.30" cy="513.88" r="1.1" fill="#2f8fcf"/>
<circle cx="111.98" cy="504.99" r="1.1" fill="#2f8fcf"/>
<circle cx="105.67" cy="507.09" r="1.1" fill="#2f8fcf"/>
<circle cx="80.71" cy="511.90" r="1.1" fill="#2f8fcf"/>
<circle cx="83.30" cy="514.00" r="1.1" fill="#2f8fcf"/>
<circle cx="101.81" cy="506.36" r="1.1" fill="#2f8fcf"/>
<circle cx="128.00" cy="509.73" r="1.1" fill="#2f8fcf"/>
<circle cx="78.93" cy="512.05" r="1.1" fill="#2f8fcf"/>
<circle cx="75.81" cy="512.55" r="1.1" fill="#2f8fcf"/>
<circle cx="75.83" cy="512.28" r="1.1" fill="#2f8fcf"/>
<circle cx="86.53" cy="512.82" r="1.1" fill="#2f8fcf"/>
<circle cx="126.78" cy="508.75" r="1.1" fill="#2f8fcf"/>
<circle cx="96.49" cy="511.03" r="1.1" fill="#2f8fcf"/>
<circle cx="94.12" cy="510.58" r="1.1" fill="#2f8fcf"/>
<circle cx="73.97" cy="512.44" r="1.1" fill="#2f8fcf"/>
<circle cx="110.30" cy="512.46" r="1.1" fill="#2f8fcf"/>
<circle cx="83.82" cy="512.11" r="1.1" fill="#2f8fcf"/>
<circle cx="85.90" cy="512.31" r="1.1" fill="#2f8fcf"/>
<circle cx="98.53" cy="513.87" r="1.1" fill="#2f8fcf"/>
<circle cx="124.32" cy="511.04" r="1.1" fill="#2f8fcf"/>
<circle cx="72.06" cy="513.57" r="1.1" fill="#2f8fcf"/>
<circle cx="127.32" cy="506.35" r="1.1" fill="#2f8fcf"/>
<circle cx="70.01" cy="512.84" r="1.1" fill="#2f8fcf"/>
<circle cx="129.32" cy="507.71" r="1.1" fill="#2f8fcf"/>
<circle cx="79.88" cy="512.94" r="1.1" fill="#2f8fcf"/>
<circle cx="113.65" cy="513.43" r="1.1" fill="#2f8fcf"/>
<circle cx="111.43" cy="511.14" r="1.1" fill="#2f8fcf"/>
<circle cx="99.27" cy="510.39" r="1.1" fill="#2f8fcf"/>
<circle cx="72.53" cy="513.75" r="1.1" fill="#2f8fcf"/>
<circle cx="84.88" cy="514.02" r="1.1" fill="#2f8fcf"/>
<circle cx="111.31" cy="505.13" r="1.1" fill="#2f8fcf"/>
<circle cx="78.19" cy="512.24" r="1.1" fill="#2f8fcf"/>
<circle cx="110.72" cy="510.32" r="1.1" fill="#2f8fcf"/>
<circle cx="77.18" cy="511.78" r="1.1" fill="#2f8fcf"/>
<circle cx="103.56" cy="509.70" r="1.1" fill="#2f8fcf"/>
<circle cx="94.84" cy="509.68" r="1.1" fill="#2f8fcf"/>
<circle cx="108.47" cy="501.90" r="1.1" fill="#2f8fcf"/>
<circle cx="89.30" cy="512.22" r="1.1" fill="#2f8fcf"/>
<circle cx="131.37" cy="505.97" r="1.1" fill="#2f8fcf"/>
<circle cx="100.42" cy="507.08" r="1.1" fill="#2f8fcf"/>
<circle cx="85.81" cy="514.14" r="1.1" fill="#2f8fcf"/>
<circle cx="101.89" cy="510.94" r="1.1" fill="#2f8fcf"/>
<circle cx="96.88" cy="509.03" r="1.1" fill="#2f8fcf"/>
<circle cx="112.71" cy="513.22" r="1.1" fill="#2f8fcf"/>
<circle cx="72.18" cy="512.65" r="1.1" fill="#2f8fcf"/>
<circle cx="96.92" cy="512.01" r="1.1" fill="#2f8fcf"/>
<circle cx="82.68" cy="513.68" r="1.1" fill="#2f8fcf"/>
<circle cx="132.07" cy="505.14" r="1.1" fill="#2f8fcf"/>
<circle cx="84.77" cy="511.86" r="1.1" fill="#2f8fcf"/>
<circle cx="118.67" cy="504.49" r="1.1" fill="#2f8fcf"/>
<circle cx="101.73" cy="506.06" r="1.1" fill="#2f8fcf"/>
<circle cx="84.29" cy="512.51" r="1.1" fill="#2f8fcf"/>
<circle cx="112.58" cy="513.53" r="1.1" fill="#2f8fcf"/>
<circle cx="95.18" cy="509.48" r="1.1" fill="#2f8fcf"/>
<circle cx="73.85" cy="512.74" r="1.1" fill="#2f8fcf"/>
<circle cx="127.48" cy="509.34" r="1.1" fill="#2f8fcf"/>
<circle cx="133.84" cy="505.47" r="1.1" fill="#2f8fcf"/>
<circle cx="81.87" cy="514.09" r="1.1" fill="#2f8fcf"/>
<circle cx="117.76" cy="500.77" r="1.1" fill="#2f8fcf"/>
<circle cx="94.23" cy="510.74" r="1.1" fill="#2f8fcf"/>
<circle cx="91.23" cy="510.80" r="1.1" fill="#2f8fcf"/>
<circle cx="70.18" cy="512.57" r="1.1" fill="#2f8fcf"/>
<circle cx="92.49" cy="514.04" r="1.1" fill="#2f8fcf"/>
<circle cx="77.92" cy="514.19" r="1.1" fill="#2f8fcf"/>
<circle cx="83.27" cy="512.38" r="1.1" fill="#2f8fcf"/>
<circle cx="122.58" cy="511.17" r="1.1" fill="#2f8fcf"/>
<circle cx="73.15" cy="512.96" r="1.1" fill="#2f8fcf"/>
<circle cx="93.85" cy="513.82" r="1.1" fill="#2f8fcf"/>
<circle cx="82.35" cy="512.43" r="1.1" fill="#2f8fcf"/>
<circle cx="121.96" cy="510.73" r="1.1" fill="#2f8fcf"/>
<circle cx="72.23" cy="511.96" r="1.1" fill="#2f8fcf"/>
<circle cx="128.88" cy="504.80" r="1.1" fill="#2f8fcf"/>
<circle cx="131.29" cy="505.92" r="1.1" fill="#2f8fcf"/>
<circle cx="70.24" cy="513.71" r="1.1" fill="#2f8fcf"/>
<circle cx="128.65" cy="507.01" r="1.1" fill="#2f8fcf"/>
<circle cx="71.55" cy="512.41" r="1.1" fill="#2f8fcf"/>
<circle cx="100.41" cy="513.84" r="1.1" fill="#2f8fcf"/>
<circle cx="97.52" cy="510.47" r="1.1" fill="#2f8fcf"/>
<circle cx="129.40" cy="504.47" r="1.1" fill="#2f8fcf"/>
<circle cx="117.26" cy="511.76" r="1.1" fill="#2f8fcf"/>
<circle cx="108.86" cy="505.80" r="1.1" fill="#2f8fcf"/>
<circle cx="90.45" cy="511.72" r="1.1" fill="#2f8fcf"/>
<circle cx="72.17" cy="513.18" r="1.1" fill="#2f8fcf"/>
<circle cx="90.85" cy="514.18" r="1.1" fill="#2f8fcf"/>
<circle cx="126.54" cy="510.92" r="1.1" fill="#2f8fcf"/>
<circle cx="75.38" cy="511.92" r="1.1" fill="#2f8fcf"/>
<circle cx="101.90" cy="511.30" r="1.1" fill="#2f8fcf"/>
<circle cx="98.61" cy="507.99" r="1.1" fill="#2f8fcf"/>
<circle cx="96.68" cy="511.63" r="1.1" fill="#2f8fcf"/>
<circle cx="113.14" cy="510.83" r="1.1" fill="#2f8fcf"/>
<circle cx="112.52" cy="502.52" r="1.1" fill="#2f8fcf"/>
<circle cx="88.80" cy="512.65" r="1.1" fill="#2f8fcf"/>
<circle cx="93.87" cy="512.83" r="1.1" fill="#2f8fcf"/>
<circle cx="82.75" cy="512.08" r="1.1" fill="#2f8fcf"/>
<circle cx="85.70" cy="511.53" r="1.1" fill="#2f8fcf"/>
<circle cx="95.35" cy="514.20" r="1.1" fill="#2f8fcf"/>
<circle cx="102.47" cy="506.26" r="1.1" fill="#2f8fcf"/>
<circle cx="121.74" cy="509.35" r="1.1" fill="#2f8fcf"/>
<circle cx="76.55" cy="512.89" r="1.1" fill="#2f8fcf"/>
<circle cx="122.42" cy="511.46" r="1.1" fill="#2f8fcf"/>
<circle cx="72.58" cy="512.53" r="1.1" fill="#2f8fcf"/>
<circle cx="77.63" cy="512.09" r="1.1" fill="#2f8fcf"/>
<circle cx="132.27" cy="505.52" r="1.1" fill="#2f8fcf"/>
<circle cx="93.82" cy="513.53" r="1.1" fill="#2f8fcf"/>
<circle cx="98.74" cy="508.14" r="1.1" fill="#2f8fcf"/>
<circle cx="119.78" cy="513.46" r="1.1" fill="#2f8fcf"/>
<circle cx="108.15" cy="509.52" r="1.1" fill="#2f8fcf"/>
<circle cx="83.93" cy="512.40" r="1.1" fill="#2f8fcf"/>
<circle cx="79.05" cy="512.08" r="1.1" fill="#2f8fcf"/>
<circle cx="86.31" cy="512.93" r="1.1" fill="#2f8fcf"/>
<circle cx="111.71" cy="503.75" r="1.1" fill="#2f8fcf"/>
<circle cx="70.73" cy="512.66" r="1.1" fill="#2f8fcf"/>
<circle cx="83.02" cy="513.67" r="1.1" fill="#2f8fcf"/>
<circle cx="105.07" cy="503.44" r="1.1" fill="#2f8fcf"/>
<circle cx="76.49" cy="512.68" r="1.1" fill="#2f8fcf"/>
<circle cx="105.21" cy="510.05" r="1.1" fill="#2f8fcf"/>
<circle cx="75.83" cy="512.08" r="1.1" fill="#2f8fcf"/>
<circle cx="89.69" cy="514.08" r="1.1" fill="#2f8fcf"/>
<circle cx="89.99" cy="512.57" r="1.1" fill="#2f8fcf"/>
<circle cx="92.86" cy="511.37" r="1.1" fill="#2f8fcf"/>
<circle cx="125.31" cy="511.84" r="1.1" fill="#2f8fcf"/>
<circle cx="82.62" cy="513.48" r="1.1" fill="#2f8fcf"/>
<circle cx="83.03" cy="511.36" r="1.1" fill="#2f8fcf"/>
<circle cx="127.70" cy="505.91" r="1.1" fill="#2f8fcf"/>
<circle cx="96.00" cy="513.49" r="1.1" fill="#2f8fcf"/>
<circle cx="99.50" cy="506.91" r="1.1" fill="#2f8fcf"/>
<circle cx="70.95" cy="513.20" r="1.1" fill="#2f8fcf"/>
<circle cx="111.00" cy="513.05" r="1.1" fill="#2f8fcf"/>
<circle cx="75.70" cy="513.29" r="1.1" fill="#2f8fcf"/>
<circle cx="93.73" cy="511.59" r="1.1" fill="#2f8fcf"/>
<circle cx="79.34" cy="512.29" r="1.1" fill="#2f8fcf"/>
<circle cx="103.35" cy="513.43" r="1.1" fill="#2f8fcf"/>
<circle cx="76.96" cy="512.92" r="1.1" fill="#2f8fcf"/>
<circle cx="121.51" cy="513.50" r="1.1" fill="#2f8fcf"/>
<circle cx="78.11" cy="514.13" r="1.1" fill="#2f8fcf"/>
<circle cx="129.27" cy="505.50" r="1.1" fill="#2f8fcf"/>
<circle cx="109.70" cy="511.99" r="1.1" fill="#2f8fcf"/>
<circle cx="80.26" cy="513.68" r="1.1" fill="#2f8fcf"/>
<circle cx="84.21" cy="512.48" r="1.1" fill="#2f8fcf"/>
<circle cx="124.17" cy="510.63" r="1.1" fill="#2f8fcf"/>
<circle cx="83.96" cy="512.49" r="1.1" fill="#2f8fcf"/>
<circle cx="103.15" cy="507.65" r="1.1" fill="#2f8fcf"/>
<circle cx="77.88" cy="512.23" r="1.1" fill="#2f8fcf"/>
<circle cx="116.39" cy="512.80" r="1.1" fill="#2f8fcf"/>
<circle cx="105.99" cy="511.34" r="1.1" fill="#2f8fcf"/>
<circle cx="72.44" cy="513.89" r="1.1" fill="#2f8fcf"/>
<circle cx="77.53" cy="513.20" r="1.1" fill="#2f8fcf"/>
<circle cx="105.20" cy="509.91" r="1.1" fill="#2f8fcf"/>
<circle cx="89.60" cy="512.03" r="1.1" fill="#2f8fcf"/>
<circle cx="107.29" cy="507.22" r="1.1" fill="#2f8fcf"/>
<circle cx="71.50" cy="513.36" r="1.1" fill="#2f8fcf"/>
<circle cx="101.33" cy="506.68" r="1.1" fill="#2f8fcf"/>
<circle cx="118.87" cy="511.18" r="1.1" fill="#2f8fcf"/>
<circle cx="81.49" cy="512.77" r="1.1" fill="#2f8fcf"/>
<circle cx="76.85" cy="511.95" r="1.1" fill="#2f8fcf"/>
<circle cx="97.56" cy="507.46" r="1.1" fill="#2f8fcf"/>
<circle cx="98.29" cy="510.35" r="1.1" fill="#2f8fcf"/>
<circle cx="72.61" cy="513.38" r="1.1" fill="#2f8fcf"/>
<circle cx="75.26" cy="513.59" r="1.1" fill="#2f8fcf"/>
<circle cx="102.25" cy="507.84" r="1.1" fill="#2f8fcf"/>
<circle cx="130.86" cy="504.57" r="1.1" fill="#2f8fcf"/>
<circle cx="133.75" cy="505.37" r="1.1" fill="#2f8fcf"/>
<circle cx="82.40" cy="514.22" r="1.1" fill="#2f8fcf"/>
<circle cx="101.48" cy="513.81" r="1.1" fill="#2f8fcf"/>
<circle cx="128.63" cy="504.23" r="1.1" fill="#2f8fcf"/>
<circle cx="118.40" cy="502.57" r="1.1" fill="#2f8fcf"/>
<circle cx="87.60" cy="513.61" r="1.1" fill="#2f8fcf"/>
<circle cx="79.19" cy="512.90" r="1.1" fill="#2f8fcf"/>
<circle cx="102.38" cy="507.19" r="1.1" fill="#2f8fcf"/>
<circle cx="72.36" cy="512.25" r="1.1" fill="#2f8fcf"/>
<circle cx="80.32" cy="514.10" r="1.1" fill="#2f8fcf"/>
<circle cx="113.50" cy="512.81" r="1.1" fill="#2f8fcf"/>
<circle cx="110.72" cy="505.94" r="1.1" fill="#2f8fcf"/>
<circle cx="125.87" cy="507.42" r="1.1" fill="#2f8fcf"/>
<circle cx="126.48" cy="503.36" r="1.1" fill="#2f8fcf"/>
<circle cx="110.31" cy="506.44" r="1.1" fill="#2f8fcf"/>
<circle cx="121.05" cy="504.38" r="1.1" fill="#2f8fcf"/>
<circle cx="106.95" cy="506.47" r="1.1" fill="#2f8fcf"/>
<circle cx="117.59" cy="501.01" r="1.1" fill="#2f8fcf"/>
<circle cx="86.23" cy="513.07" r="1.1" fill="#2f8fcf"/>
<circle cx="132.98" cy="505.30" r="1.1" fill="#2f8fcf"/>
<circle cx="90.01" cy="510.36" r="1.1" fill="#2f8fcf"/>
<circle cx="72.16" cy="512.18" r="1.1" fill="#2f8fcf"/>
<circle cx="109.43" cy="507.04" r="1.1" fill="#2f8fcf"/>
<circle cx="102.81" cy="513.14" r="1.1" fill="#2f8fcf"/>
<circle cx="78.45" cy="512.16" r="1.1" fill="#2f8fcf"/>
<circle cx="111.80" cy="501.35" r="1.1" fill="#2f8fcf"/>
<circle cx="70.17" cy="512.75" r="1.1" fill="#2f8fcf"/>
<circle cx="76.81" cy="512.56" r="1.1" fill="#2f8fcf"/>
<circle cx="84.35" cy="513.01" r="1.1" fill="#2f8fcf"/>
<circle cx="107.70" cy="504.44" r="1.1" fill="#2f8fcf"/>
<circle cx="109.93" cy="507.52" r="1.1" fill="#2f8fcf"/>
<circle cx="78.62" cy="514.11" r="1.1" fill="#2f8fcf"/>
<circle cx="85.59" cy="511.53" r="1.1" fill="#2f8fcf"/>
<circle cx="76.13" cy="513.33" r="1.1" fill="#2f8fcf"/>
<circle cx="125.76" cy="509.57" r="1.1" fill="#2f8fcf"/>
<circle cx="86.91" cy="510.88" r="1.1" fill="#2f8fcf"/>
<circle cx="111.28" cy="508.51" r="1.1" fill="#2f8fcf"/>
<circle cx="92.42" cy="512.58" r="1.1" fill="#2f8fcf"/>
<circle cx="98.40" cy="513.74" r="1.1" fill="#2f8fcf"/>
<circle cx="116.95" cy="503.84" r="1.1" fill="#2f8fcf"/>
<circle cx="72.82" cy="513.12" r="1.1" fill="#2f8fcf"/>
<circle cx="95.98" cy="509.34" r="1.1" fill="#2f8fcf"/>
<circle cx="73.74" cy="513.73" r="1.1" fill="#2f8fcf"/>
<circle cx="70.79" cy="513.21" r="1.1" fill="#2f8fcf"/>
<circle cx="108.92" cy="508.04" r="1.1" fill="#2f8fcf"/>
<circle cx="111.06" cy="511.79" r="1.1" fill="#2f8fcf"/>
<circle cx="81.18" cy="512.30" r="1.1" fill="#2f8fcf"/>
<circle cx="89.22" cy="510.66" r="1.1" fill="#2f8fcf"/>
<circle cx="126.92" cy="508.94" r="1.1" fill="#2f8fcf"/>
<circle cx="70.41" cy="513.92" r="1.1" fill="#2f8fcf"/>
<circle cx="117.69" cy="506.79" r="1.1" fill="#2f8fcf"/>
<circle cx="98.96" cy="507.74" r="1.1" fill="#2f8fcf"/>
<circle cx="76.74" cy="512.23" r="1.1" fill="#2f8fcf"/>
<circle cx="72.48" cy="512.63" r="1.1" fill="#2f8fcf"/>
<circle cx="117.98" cy="509.97" r="1.1" fill="#2f8fcf"/>
<circle cx="115.55" cy="504.18" r="1.1" fill="#2f8fcf"/>
<circle cx="97.91" cy="512.62" r="1.1" fill="#2f8fcf"/>
<circle cx="103.49" cy="506.28" r="1.1" fill="#2f8fcf"/>
<circle cx="111.09" cy="513.77" r="1.1" fill="#2f8fcf"/>
<circle cx="83.89" cy="513.92" r="1.1" fill="#2f8fcf"/>
<circle cx="70.97" cy="512.49" r="1.1" fill="#2f8fcf"/>
<circle cx="85.11" cy="513.46" r="1.1" fill="#2f8fcf"/>
<circle cx="130.46" cy="506.69" r="1.1" fill="#2f8fcf"/>
<circle cx="128.08" cy="507.22" r="1.1" fill="#2f8fcf"/>
<circle cx="112.58" cy="513.94" r="1.1" fill="#2f8fcf"/>
<circle cx="123.74" cy="509.32" r="1.1" fill="#2f8fcf"/>
<circle cx="97.98" cy="512.11" r="1.1" fill="#2f8fcf"/>
<circle cx="106.50" cy="505.90" r="1.1" fill="#2f8fcf"/>
<circle cx="83.57" cy="513.16" r="1.1" fill="#2f8fcf"/>
<circle cx="74.98" cy="514.06" r="1.1" fill="#2f8fcf"/>
<circle cx="79.25" cy="511.58" r="1.1" fill="#2f8fcf"/>
<circle cx="76.83" cy="514.10" r="1.1" fill="#2f8fcf"/>
<circle cx="92.07" cy="510.33" r="1.1" fill="#2f8fcf"/>
<circle cx="71.84" cy="511.92" r="1.1" fill="#2f8fcf"/>
<circle cx="114.33" cy="509.25" r="1.1" fill="#2f8fcf"/>
<circle cx="117.15" cy="501.29" r="1.1" fill="#2f8fcf"/>
<circle cx="93.26" cy="513.32" r="1.1" fill="#2f8fcf"/>
<circle cx="122.45" cy="512.08" r="1.1" fill="#2f8fcf"/>
<circle cx="125.54" cy="510.92" r="1.1" fill="#2f8fcf"/>
<circle cx="76.86" cy="512.16" r="1.1" fill="#2f8fcf"/>
<circle cx="77.17" cy="511.69" r="1.1" fill="#2f8fcf"/>
<circle cx="124.25" cy="510.41" r="1.1" fill="#2f8fcf"/>
<circle cx="122.80" cy="508.78" r="1.1" fill="#2f8fcf"/>
<circle cx="76.39" cy="511.89" r="1.1" fill="#2f8fcf"/>
<circle cx="97.12" cy="507.21" r="1.1" fill="#2f8fcf"/>
<circle cx="86.43" cy="511.86" r="1.1" fill="#2f8fcf"/>
<circle cx="131.70" cy="505.54" r="1.1" fill="#2f8fcf"/>
<circle cx="109.57" cy="501.93" r="1.1" fill="#2f8fcf"/>
<circle cx="96.43" cy="510.46" r="1.1" fill="#2f8fcf"/>
<circle cx="119.47" cy="505.29" r="1.1" fill="#2f8fcf"/>
<circle cx="104.42" cy="505.43" r="1.1" fill="#2f8fcf"/>
<circle cx="125.18" cy="502.89" r="1.1" fill="#2f8fcf"/>
<circle cx="80.90" cy="511.44" r="1.1" fill="#2f8fcf"/>
<circle cx="82.93" cy="513.58" r="1.1" fill="#2f8fcf"/>
<circle cx="101.45" cy="512.22" r="1.1" fill="#2f8fcf"/>
<circle cx="81.81" cy="512.82" r="1.1" fill="#2f8fcf"/>
<circle cx="92.22" cy="513.48" r="1.1" fill="#2f8fcf"/>
<circle cx="86.68" cy="514.08" r="1.1" fill="#2f8fcf"/>
<circle cx="88.16" cy="511.42" r="1.1" fill="#2f8fcf"/>
<circle cx="110.74" cy="502.33" r="1.1" fill="#2f8fcf"/>
<circle cx="120.43" cy="510.12" r="1.1" fill="#2f8fcf"/>
<circle cx="110.19" cy="505.96" r="1.1" fill="#2f8fcf"/>
<circle cx="95.68" cy="510.44" r="1.1" fill="#2f8fcf"/>
<circle cx="126.99" cy="503.32" r="1.1" fill="#2f8fcf"/>
<circle cx="71.61" cy="512.34" r="1.1" fill="#2f8fcf"/>
<circle cx="86.84" cy="513.93" r="1.1" fill="#2f8fcf"/>
<circle cx="102.08" cy="507.90" r="1.1" fill="#2f8fcf"/>
<circle cx="104.02" cy="511.52" r="1.1" fill="#2f8fcf"/>
<circle cx="118.19" cy="509.30" r="1.1" fill="#2f8fcf"/>
<circle cx="90.91" cy="510.84" r="1.1" fill="#2f8fcf"/>
<circle cx="123.96" cy="508.87" r="1.1" fill="#2f8fcf"/>
<circle cx="80.85" cy="512.68" r="1.1" fill="#2f8fcf"/>
<circle cx="99.57" cy="513.23" r="1.1" fill="#2f8fcf"/>
<circle cx="85.23" cy="511.71" r="1.1" fill="#2f8fcf"/>
<circle cx="89.30" cy="513.14" r="1.1" fill="#2f8fcf"/>
<circle cx="85.85" cy="512.07" r="1.1" fill="#2f8fcf"/>
<circle cx="103.42" cy="505.17" r="1.1" fill="#2f8fcf"/>
<circle cx="91.00" cy="510.97" r="1.1" fill="#2f8fcf"/>
<circle cx="132.41" cy="505.66" r="1.1" fill="#2f8fcf"/>
<circle cx="132.97" cy="505.42" r="1.1" fill="#2f8fcf"/>
<circle cx="97.84" cy="508.09" r="1.1" fill="#2f8fcf"/>
<circle cx="110.83" cy="502.65" r="1.1" fill="#2f8fcf"/>
<circle cx="83.21" cy="512.48" r="1.1" fill="#2f8fcf"/>
<circle cx="72.17" cy="512.80" r="1.1" fill="#2f8fcf"/>
<circle cx="120.62" cy="510.08" r="1.1" fill="#2f8fcf"/>
<circle cx="110.47" cy="507.31" r="1.1" fill="#2f8fcf"/>
<circle cx="79.08" cy="513.18" r="1.1" fill="#2f8fcf"/>
<circle cx="95.90" cy="512.59" r="1.1" fill="#2f8fcf"/>
<circle cx="128.11" cy="505.89" r="1.1" fill="#2f8fcf"/>
<circle cx="116.22" cy="512.56" r="1.1" fill="#2f8fcf"/>
<circle cx="114.81" cy="512.21" r="1.1" fill="#2f8fcf"/>
<circle cx="111.06" cy="507.12" r="1.1" fill="#2f8fcf"/>
<circle cx="90.03" cy="512.81" r="1.1" fill="#2f8fcf"/>
<circle cx="76.26" cy="512.75" r="1.1" fill="#2f8fcf"/>
<circle cx="120.07" cy="510.32" r="1.1" fill="#2f8fcf"/>
<circle cx="86.00" cy="512.38" r="1.1" fill="#2f8fcf"/>
<circle cx="99.13" cy="511.02" r="1.1" fill="#2f8fcf"/>
<circle cx="96.20" cy="512.11" r="1.1" fill="#2f8fcf"/>
<circle cx="129.53" cy="504.49" r="1.1" fill="#2f8fcf"/>
<circle cx="80.29" cy="513.66" r="1.1" fill="#2f8fcf"/>
<circle cx="106.77" cy="508.68" r="1.1" fill="#2f8fcf"/>
<circle cx="115.91" cy="507.53" r="1.1" fill="#2f8fcf"/>
<circle cx="130.67" cy="504.78" r="1.1" fill="#2f8fcf"/>
<circle cx="95.12" cy="512.82" r="1.1" fill="#2f8fcf"/>
<circle cx="77.83" cy="514.24" r="1.1" fill="#2f8fcf"/>
<circle cx="92.75" cy="509.64" r="1.1" fill="#2f8fcf"/>
<circle cx="87.56" cy="512.15" r="1.1" fill="#2f8fcf"/>
<circle cx="70.85" cy="512.88" r="1.1" fill="#2f8fcf"/>
<circle cx="96.92" cy="512.12" r="1.1" fill="#2f8fcf"/>
<circle cx="92.54" cy="510.73" r="1.1" fill="#2f8fcf"/>
<circle cx="84.36" cy="513.49" r="1.1" fill="#2f8fcf"/>
<circle cx="78.28" cy="513.67" r="1.1" fill="#2f8fcf"/>
<circle cx="121.81" cy="509.09" r="1.1" fill="#2f8fcf"/>
<circle cx="105.97" cy="505.01" r="1.1" fill="#2f8fcf"/>
<circle cx="131.69" cy="505.22" r="1.1" fill="#2f8fcf"/>
<circle cx="122.40" cy="511.17" r="1.1" fill="#2f8fcf"/>
<circle cx="88.84" cy="512.58" r="1.1" fill="#2f8fcf"/>
<circle cx="78.01" cy="513.83" r="1.1" fill="#2f8fcf"/>
<circle cx="92.70" cy="513.53" r="1.1" fill="#2f8fcf"/>
<circle cx="87.12" cy="512.11" r="1.1" fill="#2f8fcf"/>
<circle cx="86.23" cy="512.36" r="1.1" fill="#2f8fcf"/>
<circle cx="81.90" cy="511.40" r="1.1" fill="#2f8fcf"/>
<circle cx="89.32" cy="512.29" r="1.1" fill="#2f8fcf"/>
<circle cx="97.42" cy="511.57" r="1.1" fill="#2f8fcf"/>
<circle cx="112.19" cy="505.77" r="1.1" fill="#2f8fcf"/>
<circle cx="124.68" cy="502.40" r="1.1" fill="#2f8fcf"/>
<circle cx="127.97" cy="508.31" r="1.1" fill="#2f8fcf"/>
<circle cx="123.20" cy="508.70" r="1.1" fill="#2f8fcf"/>
<circle cx="70.73" cy="514.18" r="1.1" fill="#2f8fcf"/>
<circle cx="111.98" cy="504.32" r="1.1" fill="#2f8fcf"/>
<circle cx="76.50" cy="512.00" r="1.1" fill="#2f8fcf"/>
<circle cx="84.95" cy="513.57" r="1.1" fill="#2f8fcf"/>
<circle cx="92.17" cy="510.34" r="1.1" fill="#2f8fcf"/>
<circle cx="127.86" cy="508.43" r="1.1" fill="#2f8fcf"/>
<circle cx="127.03" cy="507.49" r="1.1" fill="#2f8fcf"/>
<circle cx="112.78" cy="512.80" r="1.1" fill="#2f8fcf"/>
<circle cx="123.68" cy="503.68" r="1.1" fill="#2f8fcf"/>
<circle cx="103.97" cy="511.38" r="1.1" fill="#2f8fcf"/>
<circle cx="98.07" cy="513.33" r="1.1" fill="#2f8fcf"/>
<circle cx="105.52" cy="505.61" r="1.1" fill="#2f8fcf"/>
<circle cx="84.99" cy="511.58" r="1.1" fill="#2f8fcf"/>
<circle cx="101.56" cy="504.84" r="1.1" fill="#2f8fcf"/>
<circle cx="99.89" cy="506.53" r="1.1" fill="#2f8fcf"/>
<circle cx="101.45" cy="509.25" r="1.1" fill="#2f8fcf"/>
<circle cx="104.53" cy="512.68" r="1.1" fill="#2f8fcf"/>
<circle cx="70.42" cy="513.91" r="1.1" fill="#2f8fcf"/>
<circle cx="99.95" cy="510.28" r="1.1" fill="#2f8fcf"/>
<circle cx="112.58" cy="512.09" r="1.1" fill="#2f8fcf"/>
<circle cx="96.80" cy="513.97" r="1.1" fill="#2f8fcf"/>
<circle cx="74.83" cy="513.35" r="1.1" fill="#2f8fcf"/>
<circle cx="110.71" cy="501.66" r="1.1" fill="#2f8fcf"/>
<circle cx="109.02" cy="510.23" r="1.1" fill="#2f8fcf"/>
<circle cx="129.62" cy="505.20" r="1.1" fill="#2f8fcf"/>
<circle cx="102.68" cy="508.84" r="1.1" fill="#2f8fcf"/>
<circle cx="127.44" cy="503.05" r="1.1" fill="#2f8fcf"/>
<circle cx="110.02" cy="505.77" r="1.1" fill="#2f8fcf"/>
<circle cx="103.63" cy="511.73" r="1.1" fill="#2f8fcf"/>
<circle cx="83.49" cy="512.61" r="1.1" fill="#2f8fcf"/>
<circle cx="97.03" cy="511.07" r="1.1" fill="#2f8fcf"/>
<circle cx="122.91" cy="504.69" r="1.1" fill="#2f8fcf"/>
<circle cx="95.84" cy="511.09" r="1.1" fill="#2f8fcf"/>
<circle cx="87.39" cy="512.54" r="1.1" fill="#2f8fcf"/>
<circle cx="132.40" cy="505.57" r="1.1" fill="#2f8fcf"/>
<circle cx="91.18" cy="511.43" r="1.1" fill="#2f8fcf"/>
<circle cx="89.15" cy="512.70" r="1.1" fill="#2f8fcf"/>
<circle cx="110.63" cy="511.43" r="1.1" fill="#2f8fcf"/>
<circle cx="72.56" cy="513.60" r="1.1" fill="#2f8fcf"/>
<circle cx="89.23" cy="510.50" r="1.1" fill="#2f8fcf"/>
<circle cx="82.16" cy="514.05" r="1.1" fill="#2f8fcf"/>
<circle cx="108.96" cy="509.93" r="1.1" fill="#2f8fcf"/>
<circle cx="120.50" cy="512.99" r="1.1" fill="#2f8fcf"/>
<circle cx="109.47" cy="509.50" r="1.1" fill="#2f8fcf"/>
<circle cx="114.57" cy="508.73" r="1.1" fill="#2f8fcf"/>
<circle cx="83.60" cy="513.29" r="1.1" fill="#2f8fcf"/>
<circle cx="99.30" cy="512.20" r="1.1" fill="#2f8fcf"/>
<circle cx="76.49" cy="512.11" r="1.1" fill="#2f8fcf"/>
<circle cx="72.37" cy="513.73" r="1.1" fill="#2f8fcf"/>
<circle cx="128.50" cy="507.21" r="1.1" fill="#2f8fcf"/>
<circle cx="122.65" cy="510.71" r="1.1" fill="#2f8fcf"/>
<circle cx="86.51" cy="511.92" r="1.1" fill="#2f8fcf"/>
<circle cx="96.99" cy="509.41" r="1.1" fill="#2f8fcf"/>
<circle cx="97.56" cy="511.57" r="1.1" fill="#2f8fcf"/>
<circle cx="129.77" cy="503.95" r="1.1" fill="#2f8fcf"/>
<circle cx="72.52" cy="512.09" r="1.1" fill="#2f8fcf"/>
<circle cx="121.86" cy="508.32" r="1.1" fill="#2f8fcf"/>
<circle cx="98.57" cy="506.22" r="1.1" fill="#2f8fcf"/>
<circle cx="94.78" cy="511.86" r="1.1" fill="#2f8fcf"/>
<circle cx="130.01" cy="507.91" r="1.1" fill="#2f8fcf"/>
<circle cx="96.39" cy="508.22" r="1.1" fill="#2f8fcf"/>
<circle cx="111.25" cy="503.94" r="1.1" fill="#2f8fcf"/>
<circle cx="79.71" cy="511.53" r="1.1" fill="#2f8fcf"/>
<circle cx="70.31" cy="513.54" r="1.1" fill="#2f8fcf"/>
<circle cx="77.79" cy="514.19" r="1.1" fill="#2f8fcf"/>
<circle cx="75.64" cy="513.95" r="1.1" fill="#2f8fcf"/>
<circle cx="78.25" cy="511.59" r="1.1" fill="#2f8fcf"/>
<circle cx="116.04" cy="503.82" r="1.1" fill="#2f8fcf"/>
<circle cx="81.99" cy="511.53" r="1.1" fill="#2f8fcf"/>
<circle cx="119.54" cy="510.30" r="1.1" fill="#2f8fcf"/>
<circle cx="116.70" cy="501.59" r="1.1" fill="#2f8fcf"/>
<circle cx="115.39" cy="506.85" r="1.1" fill="#2f8fcf"/>
<circle cx="86.26" cy="514.15" r="1.1" fill="#2f8fcf"/>
<circle cx="111.64" cy="511.82" r="1.1" fill="#2f8fcf"/>
<circle cx="75.10" cy="512.49" r="1.1" fill="#2f8fcf"/>
<circle cx="116.68" cy="502.72" r="1.1" fill="#2f8fcf"/>
<circle cx="101.13" cy="505.03" r="1.1" fill="#2f8fcf"/>
<circle cx="93.52" cy="512.02" r="1.1" fill="#2f8fcf"/>
<circle cx="98.08" cy="511.72" r="1.1" fill="#2f8fcf"/>
<circle cx="79.27" cy="513.72" r="1.1" fill="#2f8fcf"/>
<circle cx="93.25" cy="512.43" r="1.1" fill="#2f8fcf"/>
<circle cx="110.30" cy="506.75" r="1.1" fill="#2f8fcf"/>
<circle cx="94.69" cy="513.01" r="1.1" fill="#2f8fcf"/>
<circle cx="130.48" cy="506.83" r="1.1" fill="#2f8fcf"/>
<circle cx="88.71" cy="510.78" r="1.1" fill="#2f8fcf"/>
<circle cx="132.33" cy="505.66" r="1.1" fill="#2f8fcf"/>
<circle cx="91.25" cy="512.61" r="1.1" fill="#2f8fcf"/>
<circle cx="132.56" cy="505.69" r="1.1" fill="#2f8fcf"/>
<circle cx="89.75" cy="512.05" r="1.1" fill="#2f8fcf"/>
<circle cx="126.84" cy="505.66" r="1.1" fill="#2f8fcf"/>
<circle cx="108.51" cy="512.93" r="1.1" fill="#2f8fcf"/>
<circle cx="86.83" cy="512.30" r="1.1" fill="#2f8fcf"/>
<circle cx="107.55" cy="511.97" r="1.1" fill="#2f8fcf"/>
<circle cx="126.80" cy="502.91" r="1.1" fill="#2f8fcf"/>
<circle cx="121.95" cy="512.00" r="1.1" fill="#2f8fcf"/>
<circle cx="87.53" cy="513.74" r="1.1" fill="#2f8fcf"/>
<circle cx="121.65" cy="509.78" r="1.1" fill="#2f8fcf"/>
<circle cx="92.20" cy="510.02" r="1.1" fill="#2f8fcf"/>
<circle cx="105.44" cy="511.86" r="1.1" fill="#2f8fcf"/>
<circle cx="82.83" cy="513.54" r="1.1" fill="#2f8fcf"/>
<circle cx="129.63" cy="504.75" r="1.1" fill="#2f8fcf"/>
<circle cx="86.30" cy="513.44" r="1.1" fill="#2f8fcf"/>
<circle cx="121.62" cy="510.92" r="1.1" fill="#2f8fcf"/>
<circle cx="107.09" cy="512.97" r="1.1" fill="#2f8fcf"/>
<circle cx="107.72" cy="504.26" r="1.1" fill="#2f8fcf"/>
<circle cx="82.31" cy="511.90" r="1.1" fill="#2f8fcf"/>
<circle cx="114.87" cy="505.55" r="1.1" fill="#2f8fcf"/>
<circle cx="95.76" cy="511.19" r="1.1" fill="#2f8fcf"/>
<circle cx="79.54" cy="511.62" r="1.1" fill="#2f8fcf"/>
<circle cx="110.50" cy="511.48" r="1.1" fill="#2f8fcf"/>
<circle cx="79.99" cy="513.15" r="1.1" fill="#2f8fcf"/>
<circle cx="92.07" cy="512.06" r="1.1" fill="#2f8fcf"/>
<circle cx="71.32" cy="511.93" r="1.1" fill="#2f8fcf"/>
<circle cx="133.39" cy="505.43" r="1.1" fill="#2f8fcf"/>
<circle cx="106.30" cy="505.37" r="1.1" fill="#2f8fcf"/>
<circle cx="119.87" cy="506.41" r="1.1" fill="#2f8fcf"/>
<circle cx="119.10" cy="511.72" r="1.1" fill="#2f8fcf"/>
<circle cx="86.26" cy="511.07" r="1.1" fill="#2f8fcf"/>
<circle cx="82.86" cy="511.88" r="1.1" fill="#2f8fcf"/>
<circle cx="75.35" cy="511.80" r="1.1" fill="#2f8fcf"/>
<circle cx="105.67" cy="512.71" r="1.1" fill="#2f8fcf"/>
<circle cx="99.33" cy="513.79" r="1.1" fill="#2f8fcf"/>
<circle cx="128.23" cy="503.51" r="1.1" fill="#2f8fcf"/>
<circle cx="95.43" cy="508.81" r="1.1" fill="#2f8fcf"/>
<circle cx="131.39" cy="505.00" r="1.1" fill="#2f8fcf"/>
<circle cx="111.00" cy="513.65" r="1.1" fill="#2f8fcf"/>
<circle cx="80.22" cy="514.18" r="1.1" fill="#2f8fcf"/>
<circle cx="86.38" cy="512.10" r="1.1" fill="#2f8fcf"/>
<circle cx="127.78" cy="509.28" r="1.1" fill="#2f8fcf"/>
<circle cx="73.01" cy="513.76" r="1.1" fill="#2f8fcf"/>
<circle cx="115.41" cy="509.39" r="1.1" fill="#2f8fcf"/>
<circle cx="73.57" cy="512.12" r="1.1" fill="#2f8fcf"/>
<circle cx="118.32" cy="513.37" r="1.1" fill="#2f8fcf"/>
<circle cx="89.12" cy="512.72" r="1.1" fill="#2f8fcf"/>
<circle cx="86.45" cy="511.33" r="1.1" fill="#2f8fcf"/>
<circle cx="100.80" cy="506.25" r="1.1" fill="#2f8fcf"/>
<circle cx="85.26" cy="511.56" r="1.1" fill="#2f8fcf"/>
<circle cx="113.37" cy="500.93" r="1.1" fill="#2f8fcf"/>
<circle cx="82.49" cy="511.47" r="1.1" fill="#2f8fcf"/>
<circle cx="129.37" cy="504.65" r="1.1" fill="#2f8fcf"/>
<circle cx="125.47" cy="510.71" r="1.1" fill="#2f8fcf"/>
<circle cx="98.62" cy="506.86" r="1.1" fill="#2f8fcf"/>
<circle cx="129.44" cy="507.71" r="1.1" fill="#2f8fcf"/>
<circle cx="98.95" cy="508.70" r="1.1" fill="#2f8fcf"/>
<circle cx="122.68" cy="506.95" r="1.1" fill="#2f8fcf"/>
<circle cx="79.14" cy="512.12" r="1.1" fill="#2f8fcf"/>
<circle cx="73.63" cy="513.56" r="1.1" fill="#2f8fcf"/>
<circle cx="105.42" cy="504.25" r="1.1" fill="#2f8fcf"/>
<circle cx="79.96" cy="512.23" r="1.1" fill="#2f8fcf"/>
<circle cx="101.42" cy="507.47" r="1.1" fill="#2f8fcf"/>
<circle cx="127.80" cy="503.73" r="1.1" fill="#2f8fcf"/>
<circle cx="73.64" cy="514.03" r="1.1" fill="#2f8fcf"/>
<circle cx="88.32" cy="511.56" r="1.1" fill="#2f8fcf"/>
<circle cx="82.90" cy="512.41" r="1.1" fill="#2f8fcf"/>
<circle cx="133.43" cy="505.50" r="1.1" fill="#2f8fcf"/>
<circle cx="76.24" cy="512.40" r="1.1" fill="#2f8fcf"/>
<circle cx="127.36" cy="503.20" r="1.1" fill="#2f8fcf"/>
<circle cx="88.79" cy="514.18" r="1.1" fill="#2f8fcf"/>
<circle cx="71.03" cy="513.83" r="1.1" fill="#2f8fcf"/>
<circle cx="91.82" cy="510.43" r="1.1" fill="#2f8fcf"/>
<circle cx="70.12" cy="513.90" r="1.1" fill="#2f8fcf"/>
<circle cx="103.70" cy="505.34" r="1.1" fill="#2f8fcf"/>
<circle cx="97.86" cy="513.57" r="1.1" fill="#2f8fcf"/>
<circle cx="83.97" cy="513.00" r="1.1" fill="#2f8fcf"/>
<circle cx="78.84" cy="512.02" r="1.1" fill="#2f8fcf"/>
<circle cx="119.31" cy="510.26" r="1.1" fill="#2f8fcf"/>
<circle cx="75.07" cy="511.91" r="1.1" fill="#2f8fcf"/>
<circle cx="108.95" cy="507.89" r="1.1" fill="#2f8fcf"/>
<circle cx="87.53" cy="511.47" r="1.1" fill="#2f8fcf"/>
<circle cx="109.20" cy="510.54" r="1.1" fill="#2f8fcf"/>
<circle cx="74.20" cy="513.60" r="1.1" fill="#2f8fcf"/>
<circle cx="96.12" cy="512.43" r="1.1" fill="#2f8fcf"/>
<circle cx="73.54" cy="513.81" r="1.1" fill="#2f8fcf"/>
<circle cx="91.45" cy="513.58" r="1.1" fill="#2f8fcf"/>
<circle cx="128.25" cy="506.16" r="1.1" fill="#2f8fcf"/>
<circle cx="87.04" cy="511.46" r="1.1" fill="#2f8fcf"/>
<circle cx="93.75" cy="512.08" r="1.1" fill="#2f8fcf"/>
<circle cx="70.30" cy="513.14" r="1.1" fill="#2f8fcf"/>
<circle cx="98.53" cy="510.31" r="1.1" fill="#2f8fcf"/>
<circle cx="77.73" cy="513.51" r="1.1" fill="#2f8fcf"/>
<circle cx="122.26" cy="511.85" r="1.1" fill="#2f8fcf"/>
<circle cx="115.52" cy="505.76" r="1.1" fill="#2f8fcf"/>
<circle cx="73.92" cy="513.97" r="1.1" fill="#2f8fcf"/>
<circle cx="103.95" cy="509.13" r="1.1" fill="#2f8fcf"/>
<circle cx="71.32" cy="514.22" r="1.1" fill="#2f8fcf"/>
<circle cx="84.32" cy="511.80" r="1.1" fill="#2f8fcf"/>
<circle cx="76.57" cy="512.29" r="1.1" fill="#2f8fcf"/>
<circle cx="108.36" cy="508.96" r="1.1" fill="#2f8fcf"/>
<circle cx="103.47" cy="511.02" r="1.1" fill="#2f8fcf"/>
<circle cx="76.58" cy="513.94" r="1.1" fill="#2f8fcf"/>
<circle cx="101.59" cy="509.25" r="1.1" fill="#2f8fcf"/>
<circle cx="87.90" cy="511.12" r="1.1" fill="#2f8fcf"/>
<circle cx="95.96" cy="508.70" r="1.1" fill="#2f8fcf"/>
<circle cx="107.88" cy="512.51" r="1.1" fill="#2f8fcf"/>
<circle cx="79.42" cy="513.09" r="1.1" fill="#2f8fcf"/>
<circle cx="117.78" cy="502.60" r="1.1" fill="#2f8fcf"/>
<circle cx="130.24" cy="506.93" r="1.1" fill="#2f8fcf"/>
<circle cx="85.38" cy="512.15" r="1.1" fill="#2f8fcf"/>
<circle cx="97.88" cy="514.10" r="1.1" fill="#2f8fcf"/>
<circle cx="121.48" cy="512.81" r="1.1" fill="#2f8fcf"/>
<circle cx="131.30" cy="506.74" r="1.1" fill="#2f8fcf"/>
<circle cx="97.02" cy="511.63" r="1.1" fill="#2f8fcf"/>
<circle cx="93.32" cy="511.83" r="1.1" fill="#2f8fcf"/>
<circle cx="74.43" cy="512.83" r="1.1" fill="#2f8fcf"/>
<circle cx="102.31" cy="504.14" r="1.1" fill="#2f8fcf"/>
<circle cx="78.92" cy="514.20" r="1.1" fill="#2f8fcf"/>
<circle cx="119.70" cy="513.35" r="1.1" fill="#2f8fcf"/>
<circle cx="121.79" cy="512.29" r="1.1" fill="#2f8fcf"/>
<circle cx="72.20" cy="513.40" r="1.1" fill="#2f8fcf"/>
<circle cx="87.01" cy="513.16" r="1.1" fill="#2f8fcf"/>
<circle cx="87.50" cy="512.66" r="1.1" fill="#2f8fcf"/>
<circle cx="129.16" cy="506.74" r="1.1" fill="#2f8fcf"/>
<circle cx="103.30" cy="508.15" r="1.1" fill="#2f8fcf"/>
<circle cx="111.44" cy="502.71" r="1.1" fill="#2f8fcf"/>
<circle cx="108.03" cy="513.68" r="1.1" fill="#2f8fcf"/>
<circle cx="102.88" cy="506.51" r="1.1" fill="#2f8fcf"/>
<circle cx="99.85" cy="510.05" r="1.1" fill="#2f8fcf"/>
<circle cx="79.50" cy="511.84" r="1.1" fill="#2f8fcf"/>
<circle cx="78.41" cy="512.35" r="1.1" fill="#2f8fcf"/>
<circle cx="96.02" cy="509.65" r="1.1" fill="#2f8fcf"/>
<circle cx="85.58" cy="511.33" r="1.1" fill="#2f8fcf"/>
<circle cx="104.96" cy="512.39" r="1.1" fill="#2f8fcf"/>
<circle cx="109.04" cy="508.82" r="1.1" fill="#2f8fcf"/>
<circle cx="111.62" cy="503.74" r="1.1" fill="#2f8fcf"/>
<circle cx="109.22" cy="507.53" r="1.1" fill="#2f8fcf"/>
<circle cx="89.87" cy="511.32" r="1.1" fill="#2f8fcf"/>
<circle cx="84.18" cy="512.81" r="1.1" fill="#2f8fcf"/>
<circle cx="94.52" cy="511.87" r="1.1" fill="#2f8fcf"/>
<circle cx="70.76" cy="512.72" r="1.1" fill="#2f8fcf"/>
<circle cx="125.16" cy="504.36" r="1.1" fill="#2f8fcf"/>
<circle cx="101.45" cy="507.13" r="1.1" fill="#2f8fcf"/>
<circle cx="133.20" cy="505.15" r="1.1" fill="#2f8fcf"/>
<circle cx="80.15" cy="511.65" r="1.1" fill="#2f8fcf"/>
<circle cx="94.82" cy="510.95" r="1.1" fill="#2f8fcf"/>
<circle cx="131.40" cy="506.19" r="1.1" fill="#2f8fcf"/>
<circle cx="91.57" cy="511.45" r="1.1" fill="#2f8fcf"/>
<circle cx="113.22" cy="509.06" r="1.1" fill="#2f8fcf"/>
<circle cx="122.56" cy="507.46" r="1.1" fill="#2f8fcf"/>
<circle cx="117.57" cy="510.88" r="1.1" fill="#2f8fcf"/>
<circle cx="120.24" cy="510.27" r="1.1" fill="#2f8fcf"/>
<circle cx="78.15" cy="513.93" r="1.1" fill="#2f8fcf"/>
<circle cx="70.28" cy="513.73" r="1.1" fill="#2f8fcf"/>
<circle cx="107.49" cy="508.08" r="1.1" fill="#2f8fcf"/>
<circle cx="120.16" cy="512.48" r="1.1" fill="#2f8fcf"/>
<circle cx="94.29" cy="511.17" r="1.1" fill="#2f8fcf"/>
<circle cx="99.31" cy="511.85" r="1.1" fill="#2f8fcf"/>
<circle cx="88.75" cy="512.00" r="1.1" fill="#2f8fcf"/>
<circle cx="105.54" cy="507.01" r="1.1" fill="#2f8fcf"/>
<circle cx="90.61" cy="513.41" r="1.1" fill="#2f8fcf"/>
<circle cx="81.79" cy="512.27" r="1.1" fill="#2f8fcf"/>
<circle cx="79.28" cy="513.10" r="1.1" fill="#2f8fcf"/>
<circle cx="107.22" cy="503.11" r="1.1" fill="#2f8fcf"/>
<circle cx="128.89" cy="505.17" r="1.1" fill="#2f8fcf"/>
<circle cx="123.64" cy="512.31" r="1.1" fill="#2f8fcf"/>
<circle cx="97.29" cy="513.59" r="1.1" fill="#2f8fcf"/>
<circle cx="70.68" cy="511.99" r="1.1" fill="#2f8fcf"/>
<circle cx="106.16" cy="508.22" r="1.1" fill="#2f8fcf"/>
<circle cx="128.90" cy="507.69" r="1.1" fill="#2f8fcf"/>
<circle cx="108.06" cy="506.20" r="1.1" fill="#2f8fcf"/>
<circle cx="130.67" cy="506.35" r="1.1" fill="#2f8fcf"/>
<circle cx="76.33" cy="512.62" r="1.1" fill="#2f8fcf"/>
<circle cx="95.66" cy="511.49" r="1.1" fill="#2f8fcf"/>
<circle cx="106.74" cy="512.78" r="1.1" fill="#2f8fcf"/>
<circle cx="109.97" cy="514.17" r="1.1" fill="#2f8fcf"/>
<circle cx="91.97" cy="512.13" r="1.1" fill="#2f8fcf"/>
<circle cx="132.62" cy="505.65" r="1.1" fill="#2f8fcf"/>
<circle cx="77.07" cy="514.00" r="1.1" fill="#2f8fcf"/>
<circle cx="114.15" cy="511.79" r="1.1" fill="#2f8fcf"/>
<circle cx="88.56" cy="512.47" r="1.1" fill="#2f8fcf"/>
<circle cx="102.31" cy="505.86" r="1.1" fill="#2f8fcf"/>
<circle cx="81.67" cy="513.21" r="1.1" fill="#2f8fcf"/>
<circle cx="108.60" cy="506.15" r="1.1" fill="#2f8fcf"/>
<circle cx="133.60" cy="505.32" r="1.1" fill="#2f8fcf"/>
<circle cx="96.33" cy="512.83" r="1.1" fill="#2f8fcf"/>
<circle cx="89.63" cy="513.07" r="1.1" fill="#2f8fcf"/>
<circle cx="70.25" cy="512.62" r="1.1" fill="#2f8fcf"/>
<circle cx="123.90" cy="508.04" r="1.1" fill="#2f8fcf"/>
<circle cx="82.59" cy="512.81" r="1.1" fill="#2f8fcf"/>
<circle cx="105.41" cy="505.66" r="1.1" fill="#2f8fcf"/>
<circle cx="111.40" cy="508.09" r="1.1" fill="#2f8fcf"/>
<circle cx="77.78" cy="511.99" r="1.1" fill="#2f8fcf"/>
<circle cx="80.91" cy="512.92" r="1.1" fill="#2f8fcf"/>
<circle cx="122.68" cy="508.59" r="1.1" fill="#2f8fcf"/>
<circle cx="73.98" cy="511.76" r="1.1" fill="#2f8fcf"/>
<circle cx="119.32" cy="504.95" r="1.1" fill="#2f8fcf"/>
<circle cx="92.65" cy="510.23" r="1.1" fill="#2f8fcf"/>
<circle cx="87.06" cy="511.16" r="1.1" fill="#2f8fcf"/>
<circle cx="98.79" cy="509.15" r="1.1" fill="#2f8fcf"/>
<circle cx="73.50" cy="514.01" r="1.1" fill="#2f8fcf"/>
<circle cx="107.29" cy="513.73" r="1.1" fill="#2f8fcf"/>
<circle cx="98.14" cy="511.26" r="1.1" fill="#2f8fcf"/>
<circle cx="85.96" cy="511.14" r="1.1" fill="#2f8fcf"/>
<circle cx="129.57" cy="507.68" r="1.1" fill="#2f8fcf"/>
<circle cx="127.53" cy="508.81" r="1.1" fill="#2f8fcf"/>
<circle cx="108.56" cy="513.73" r="1.1" fill="#2f8fcf"/>
<circle cx="101.72" cy="513.73" r="1.1" fill="#2f8fcf"/>
<circle cx="85.55" cy="512.31" r="1.1" fill="#2f8fcf"/>
<circle cx="126.02" cy="506.74" r="1.1" fill="#2f8fcf"/>
<circle cx="85.58" cy="511.61" r="1.1" fill="#2f8fcf"/>
<circle cx="92.94" cy="510.20" r="1.1" fill="#2f8fcf"/>
<circle cx="132.18" cy="505.11" r="1.1" fill="#2f8fcf"/>
<circle cx="77.35" cy="513.03" r="1.1" fill="#2f8fcf"/>
<circle cx="94.68" cy="510.78" r="1.1" fill="#2f8fcf"/>
<circle cx="74.19" cy="512.04" r="1.1" fill="#2f8fcf"/>
<circle cx="82.24" cy="512.20" r="1.1" fill="#2f8fcf"/>
<circle cx="85.18" cy="511.22" r="1.1" fill="#2f8fcf"/>
<circle cx="123.52" cy="510.60" r="1.1" fill="#2f8fcf"/>
<circle cx="92.59" cy="512.92" r="1.1" fill="#2f8fcf"/>
<circle cx="94.12" cy="514.02" r="1.1" fill="#2f8fcf"/>
<circle cx="83.32" cy="514.13" r="1.1" fill="#2f8fcf"/>
<circle cx="102.31" cy="506.27" r="1.1" fill="#2f8fcf"/>
<circle cx="98.97" cy="506.94" r="1.1" fill="#2f8fcf"/>
<circle cx="115.21" cy="504.13" r="1.1" fill="#2f8fcf"/>
<circle cx="107.60" cy="506.47" r="1.1" fill="#2f8fcf"/>
<circle cx="85.76" cy="513.00" r="1.1" fill="#2f8fcf"/>
<circle cx="83.60" cy="513.90" r="1.1" fill="#2f8fcf"/>
<circle cx="77.86" cy="512.96" r="1.1" fill="#2f8fcf"/>
<circle cx="104.73" cy="505.94" r="1.1" fill="#2f8fcf"/>
<circle cx="119.39" cy="505.80" r="1.1" fill="#2f8fcf"/>
<circle cx="106.33" cy="505.96" r="1.1" fill="#2f8fcf"/>
<circle cx="94.96" cy="508.81" r="1.1" fill="#2f8fcf"/>
<circle cx="81.33" cy="513.85" r="1.1" fill="#2f8fcf"/>
<circle cx="90.55" cy="512.91" r="1.1" fill="#2f8fcf"/>
<circle cx="76.97" cy="513.11" r="1.1" fill="#2f8fcf"/>
<circle cx="93.13" cy="511.72" r="1.1" fill="#2f8fcf"/>
<circle cx="89.01" cy="510.76" r="1.1" fill="#2f8fcf"/>
<circle cx="89.92" cy="511.25" r="1.1" fill="#2f8fcf"/>
<circle cx="78.07" cy="513.51" r="1.1" fill="#2f8fcf"/>
<circle cx="88.07" cy="512.11" r="1.1" fill="#2f8fcf"/>
<circle cx="128.17" cy="508.13" r="1.1" fill="#2f8fcf"/>
<circle cx="71.89" cy="513.50" r="1.1" fill="#2f8fcf"/>
<circle cx="112.18" cy="510.23" r="1.1" fill="#2f8fcf"/>
<circle cx="124.19" cy="505.45" r="1.1" fill="#2f8fcf"/>
<circle cx="81.63" cy="511.73" r="1.1" fill="#2f8fcf"/>
<circle cx="128.41" cy="507.73" r="1.1" fill="#2f8fcf"/>
<circle cx="72.59" cy="511.89" r="1.1" fill="#2f8fcf"/>
<circle cx="80.37" cy="512.02" r="1.1" fill="#2f8fcf"/>
<circle cx="89.40" cy="511.90" r="1.1" fill="#2f8fcf"/>
<circle cx="72.51" cy="512.57" r="1.1" fill="#2f8fcf"/>
<circle cx="110.85" cy="503.59" r="1.1" fill="#2f8fcf"/>
<circle cx="123.73" cy="507.89" r="1.1" fill="#2f8fcf"/>
<circle cx="86.30" cy="512.39" r="1.1" fill="#2f8fcf"/>
<circle cx="123.39" cy="510.32" r="1.1" fill="#2f8fcf"/>
<circle cx="72.75" cy="513.93" r="1.1" fill="#2f8fcf"/>
<circle cx="108.87" cy="502.28" r="1.1" fill="#2f8fcf"/>
<circle cx="85.65" cy="511.40" r="1.1" fill="#2f8fcf"/>
<circle cx="120.65" cy="503.60" r="1.1" fill="#2f8fcf"/>
<circle cx="117.97" cy="501.50" r="1.1" fill="#2f8fcf"/>
<circle cx="95.19" cy="512.72" r="1.1" fill="#2f8fcf"/>
<circle cx="130.57" cy="505.51" r="1.1" fill="#2f8fcf"/>
<circle cx="114.26" cy="510.67" r="1.1" fill="#2f8fcf"/>
<circle cx="110.20" cy="507.21" r="1.1" fill="#2f8fcf"/>
<circle cx="73.48" cy="513.53" r="1.1" fill="#2f8fcf"/>
<circle cx="97.41" cy="510.64" r="1.1" fill="#2f8fcf"/>
<circle cx="129.40" cy="504.19" r="1.1" fill="#2f8fcf"/>
<circle cx="72.80" cy="513.55" r="1.1" fill="#2f8fcf"/>
<circle cx="132.04" cy="505.69" r="1.1" fill="#2f8fcf"/>
<circle cx="85.98" cy="511.18" r="1.1" fill="#2f8fcf"/>
<circle cx="92.90" cy="511.33" r="1.1" fill="#2f8fcf"/>
<circle cx="82.89" cy="512.26" r="1.1" fill="#2f8fcf"/>
<circle cx="78.74" cy="513.47" r="1.1" fill="#2f8fcf"/>
<circle cx="102.98" cy="508.35" r="1.1" fill="#2f8fcf"/>
<circle cx="126.62" cy="503.70" r="1.1" fill="#2f8fcf"/>
<circle cx="91.35" cy="513.48" r="1.1" fill="#2f8fcf"/>
<circle cx="105.09" cy="511.47" r="1.1" fill="#2f8fcf"/>
<circle cx="80.83" cy="513.33" r="1.1" fill="#2f8fcf"/>
<circle cx="108.32" cy="507.53" r="1.1" fill="#2f8fcf"/>
<circle cx="119.03" cy="511.89" r="1.1" fill="#2f8fcf"/>
<circle cx="88.52" cy="511.91" r="1.1" fill="#2f8fcf"/>
<circle cx="83.21" cy="511.51" r="1.1" fill="#2f8fcf"/>
<circle cx="87.98" cy="511.38" r="1.1" fill="#2f8fcf"/>
<circle cx="90.77" cy="512.12" r="1.1" fill="#2f8fcf"/>
<circle cx="93.23" cy="509.99" r="1.1" fill="#2f8fcf"/>
<circle cx="74.60" cy="511.73" r="1.1" fill="#2f8fcf"/>
<circle cx="133.50" cy="505.38" r="1.1" fill="#2f8fcf"/>
<circle cx="115.90" cy="513.94" r="1.1" fill="#2f8fcf"/>
<circle cx="76.96" cy="512.91" r="1.1" fill="#2f8fcf"/>
<circle cx="97.79" cy="508.07" r="1.1" fill="#2f8fcf"/>
<circle cx="104.76" cy="502.94" r="1.1" fill="#2f8fcf"/>
<circle cx="128.85" cy="506.99" r="1.1" fill="#2f8fcf"/>
<circle cx="129.86" cy="506.60" r="1.1" fill="#2f8fcf"/>
<circle cx="85.74" cy="511.48" r="1.1" fill="#2f8fcf"/>
<circle cx="71.77" cy="513.74" r="1.1" fill="#2f8fcf"/>
<circle cx="110.84" cy="512.22" r="1.1" fill="#2f8fcf"/>
<circle cx="129.31" cy="504.38" r="1.1" fill="#2f8fcf"/>
<circle cx="123.15" cy="510.00" r="1.1" fill="#2f8fcf"/>
<circle cx="81.81" cy="513.77" r="1.1" fill="#2f8fcf"/>
<circle cx="90.49" cy="511.75" r="1.1" fill="#2f8fcf"/>
<circle cx="105.27" cy="506.91" r="1.1" fill="#2f8fcf"/>
<circle cx="106.28" cy="509.77" r="1.1" fill="#2f8fcf"/>
<circle cx="122.46" cy="509.79" r="1.1" fill="#2f8fcf"/>
<circle cx="80.08" cy="512.31" r="1.1" fill="#2f8fcf"/>
<circle cx="107.19" cy="503.02" r="1.1" fill="#2f8fcf"/>
<circle cx="98.13" cy="507.89" r="1.1" fill="#2f8fcf"/>
<circle cx="116.27" cy="500.51" r="1.1" fill="#2f8fcf"/>
<circle cx="124.74" cy="509.97" r="1.1" fill="#2f8fcf"/>
<circle cx="88.13" cy="513.04" r="1.1" fill="#2f8fcf"/>
<circle cx="102.94" cy="508.11" r="1.1" fill="#2f8fcf"/>
<circle cx="91.67" cy="511.80" r="1.1" fill="#2f8fcf"/>
<circle cx="112.63" cy="511.90" r="1.1" fill="#2f8fcf"/>
<circle cx="80.53" cy="512.29" r="1.1" fill="#2f8fcf"/>
<circle cx="98.36" cy="510.75" r="1.1" fill="#2f8fcf"/>
<circle cx="92.28" cy="510.50" r="1.1" fill="#2f8fcf"/>
<circle cx="75.44" cy="512.52" r="1.1" fill="#2f8fcf"/>
<circle cx="99.47" cy="513.99" r="1.1" fill="#2f8fcf"/>
<circle cx="128.16" cy="508.73" r="1.1" fill="#2f8fcf"/>
<circle cx="131.56" cy="505.84" r="1.1" fill="#2f8fcf"/>
<circle cx="73.84" cy="513.47" r="1.1" fill="#2f8fcf"/>
<circle cx="108.99" cy="505.39" r="1.1" fill="#2f8fcf"/>
<circle cx="106.55" cy="513.66" r="1.1" fill="#2f8fcf"/>
<circle cx="100.77" cy="510.86" r="1.1" fill="#2f8fcf"/>
<circle cx="89.16" cy="511.79" r="1.1" fill="#2f8fcf"/>
<circle cx="112.27" cy="505.89" r="1.1" fill="#2f8fcf"/>
<circle cx="96.65" cy="511.02" r="1.1" fill="#2f8fcf"/>
<circle cx="106.15" cy="507.01" r="1.1" fill="#2f8fcf"/>
<circle cx="77.31" cy="512.07" r="1.1" fill="#2f8fcf"/>
<circle cx="103.97" cy="505.97" r="1.1" fill="#2f8fcf"/>
<circle cx="101.31" cy="509.83" r="1.1" fill="#2f8fcf"/>
<circle cx="84.50" cy="512.97" r="1.1" fill="#2f8fcf"/>
<circle cx="77.23" cy="512.97" r="1.1" fill="#2f8fcf"/>
<circle cx="107.66" cy="502.93" r="1.1" fill="#2f8fcf"/>
<circle cx="96.11" cy="508.20" r="1.1" fill="#2f8fcf"/>
<circle cx="98.13" cy="513.17" r="1.1" fill="#2f8fcf"/>
<circle cx="105.24" cy="510.92" r="1.1" fill="#2f8fcf"/>
<circle cx="118.44" cy="501.96" r="1.1" fill="#2f8fcf"/>
<circle cx="116.18" cy="501.88" r="1.1" fill="#2f8fcf"/>
<circle cx="95.09" cy="509.27" r="1.1" fill="#2f8fcf"/>
<circle cx="131.44" cy="505.74" r="1.1" fill="#2f8fcf"/>
<circle cx="78.76" cy="513.67" r="1.1" fill="#2f8fcf"/>
<circle cx="73.68" cy="512.35" r="1.1" fill="#2f8fcf"/>
<circle cx="93.83" cy="508.92" r="1.1" fill="#2f8fcf"/>
<circle cx="108.04" cy="504.50" r="1.1" fill="#2f8fcf"/>
<circle cx="89.20" cy="513.16" r="1.1" fill="#2f8fcf"/>
<circle cx="97.26" cy="513.44" r="1.1" fill="#2f8fcf"/>
<circle cx="109.75" cy="512.59" r="1.1" fill="#2f8fcf"/>
<circle cx="106.03" cy="513.24" r="1.1" fill="#2f8fcf"/>
<circle cx="125.73" cy="503.77" r="1.1" fill="#2f8fcf"/>
<circle cx="91.85" cy="513.20" r="1.1" fill="#2f8fcf"/>
<circle cx="113.55" cy="511.87" r="1.1" fill="#2f8fcf"/>
<circle cx="93.87" cy="512.83" r="1.1" fill="#2f8fcf"/>
<circle cx="130.67" cy="506.50" r="1.1" fill="#2f8fcf"/>
<circle cx="108.64" cy="502.98" r="1.1" fill="#2f8fcf"/>
<circle cx="105.13" cy="511.96" r="1.1" fill="#2f8fcf"/>
<circle cx="77.23" cy="514.08" r="1.1" fill="#2f8fcf"/>
<circle cx="98.59" cy="512.92" r="1.1" fill="#2f8fcf"/>
<circle cx="107.21" cy="503.43" r="1.1" fill="#2f8fcf"/>
<circle cx="71.34" cy="512.11" r="1.1" fill="#2f8fcf"/>
<circle cx="121.24" cy="503.33" r="1.1" fill="#2f8fcf"/>
<circle cx="88.56" cy="513.11" r="1.1" fill="#2f8fcf"/>
<circle cx="94.37" cy="509.40" r="1.1" fill="#2f8fcf"/>
<circle cx="126.03" cy="507.24" r="1.1" fill="#2f8fcf"/>
<circle cx="121.72" cy="513.15" r="1.1" fill="#2f8fcf"/>
<circle cx="91.91" cy="510.44" r="1.1" fill="#2f8fcf"/>
<circle cx="102.11" cy="512.94" r="1.1" fill="#2f8fcf"/>
<circle cx="122.37" cy="509.49" r="1.1" fill="#2f8fcf"/>
<circle cx="100.45" cy="506.35" r="1.1" fill="#2f8fcf"/>
<circle cx="124.09" cy="505.90" r="1.1" fill="#2f8fcf"/>
<circle cx="109.09" cy="502.59" r="1.1" fill="#2f8fcf"/>
<circle cx="91.07" cy="511.05" r="1.1" fill="#2f8fcf"/>
<circle cx="80.86" cy="512.46" r="1.1" fill="#2f8fcf"/>
<circle cx="99.94" cy="510.42" r="1.1" fill="#2f8fcf"/>
<circle cx="94.82" cy="510.45" r="1.1" fill="#2f8fcf"/>
<circle cx="70.38" cy="513.28" r="1.1" fill="#2f8fcf"/>
<circle cx="91.36" cy="510.11" r="1.1" fill="#2f8fcf"/>
<circle cx="99.40" cy="514.12" r="1.1" fill="#2f8fcf"/>
<circle cx="72.90" cy="512.14" r="1.1" fill="#2f8fcf"/>
<circle cx="102.00" cy="506.73" r="1.1" fill="#2f8fcf"/>
<circle cx="106.41" cy="508.56" r="1.1" fill="#2f8fcf"/>
<circle cx="131.25" cy="506.94" r="1.1" fill="#2f8fcf"/>
<circle cx="105.88" cy="511.51" r="1.1" fill="#2f8fcf"/>
<circle cx="125.83" cy="509.48" r="1.1" fill="#2f8fcf"/>
<circle cx="110.62" cy="506.00" r="1.1" fill="#2f8fcf"/>
<circle cx="88.02" cy="513.53" r="1.1" fill="#2f8fcf"/>
<circle cx="125.86" cy="511.00" r="1.1" fill="#2f8fcf"/>
<circle cx="89.46" cy="513.36" r="1.1" fill="#2f8fcf"/>
<circle cx="117.33" cy="507.41" r="1.1" fill="#2f8fcf"/>
<circle cx="92.43" cy="512.13" r="1.1" fill="#2f8fcf"/>
<circle cx="95.98" cy="508.20" r="1.1" fill="#2f8fcf"/>
<circle cx="91.58" cy="511.32" r="1.1" fill="#2f8fcf"/>
<circle cx="85.58" cy="511.81" r="1.1" fill="#2f8fcf"/>
<circle cx="92.35" cy="510.19" r="1.1" fill="#2f8fcf"/>
<circle cx="70.46" cy="513.99" r="1.1" fill="#2f8fcf"/>
<circle cx="99.00" cy="509.57" r="1.1" fill="#2f8fcf"/>
<circle cx="106.40" cy="505.85" r="1.1" fill="#2f8fcf"/>
<circle cx="80.81" cy="511.63" r="1.1" fill="#2f8fcf"/>
<circle cx="89.30" cy="511.64" r="1.1" fill="#2f8fcf"/>
<circle cx="116.51" cy="508.03" r="1.1" fill="#2f8fcf"/>
<circle cx="91.79" cy="513.91" r="1.1" fill="#2f8fcf"/>
<circle cx="107.33" cy="502.99" r="1.1" fill="#2f8fcf"/>
<circle cx="81.44" cy="513.07" r="1.1" fill="#2f8fcf"/>
<circle cx="133.20" cy="505.18" r="1.1" fill="#2f8fcf"/>
<circle cx="97.41" cy="513.27" r="1.1" fill="#2f8fcf"/>
<circle cx="74.34" cy="512.96" r="1.1" fill="#2f8fcf"/>
<circle cx="71.48" cy="512.24" r="1.1" fill="#2f8fcf"/>
<circle cx="87.16" cy="513.24" r="1.1" fill="#2f8fcf"/>
<circle cx="83.97" cy="512.49" r="1.1" fill="#2f8fcf"/>
<circle cx="82.82" cy="513.11" r="1.1" fill="#2f8fcf"/>
<circle cx="125.30" cy="508.41" r="1.1" fill="#2f8fcf"/>
<circle cx="116.97" cy="513.70" r="1.1" fill="#2f8fcf"/>
<circle cx="75.08" cy="513.79" r="1.1" fill="#2f8fcf"/>
<circle cx="82.04" cy="512.94" r="1.1" fill="#2f8fcf"/>
<circle cx="126.03" cy="508.17" r="1.1" fill="#2f8fcf"/>
<circle cx="83.58" cy="512.28" r="1.1" fill="#2f8fcf"/>
<circle cx="117.96" cy="509.33" r="1.1" fill="#2f8fcf"/>
<circle cx="96.51" cy="507.77" r="1.1" fill="#2f8fcf"/>
<circle cx="110.08" cy="505.71" r="1.1" fill="#2f8fcf"/>
<circle cx="101.64" cy="510.21" r="1.1" fill="#2f8fcf"/>
<circle cx="86.45" cy="512.47" r="1.1" fill="#2f8fcf"/>
<circle cx="70.87" cy="514.12" r="1.1" fill="#2f8fcf"/>
<circle cx="106.10" cy="514.08" r="1.1" fill="#2f8fcf"/>
<circle cx="73.59" cy="513.31" r="1.1" fill="#2f8fcf"/>
<circle cx="80.00" cy="511.87" r="1.1" fill="#2f8fcf"/>
<circle cx="119.10" cy="501.73" r="1.1" fill="#2f8fcf"/>
<circle cx="97.09" cy="510.94" r="1.1" fill="#2f8fcf"/>
<circle cx="107.66" cy="508.76" r="1.1" fill="#2f8fcf"/>
<circle cx="112.07" cy="508.95" r="1.1" fill="#2f8fcf"/>
<circle cx="117.43" cy="503.93" r="1.1" fill="#2f8fcf"/>
<circle cx="118.85" cy="511.12" r="1.1" fill="#2f8fcf"/>
<circle cx="119.45" cy="513.89" r="1.1" fill="#2f8fcf"/>
<circle cx="87.81" cy="512.57" r="1.1" fill="#2f8fcf"/>
<circle cx="100.45" cy="511.01" r="1.1" fill="#2f8fcf"/>
<circle cx="119.55" cy="505.52" r="1.1" fill="#2f8fcf"/>
<circle cx="84.60" cy="513.53" r="1.1" fill="#2f8fcf"/>
<circle cx="75.75" cy="511.73" r="1.1" fill="#2f8fcf"/>
<circle cx="78.59" cy="511.70" r="1.1" fill="#2f8fcf"/>
<circle cx="102.12" cy="509.69" r="1.1" fill="#2f8fcf"/>
<circle cx="81.64" cy="514.10" r="1.1" fill="#2f8fcf"/>
<circle cx="93.40" cy="509.83" r="1.1" fill="#2f8fcf"/>
<circle cx="81.36" cy="513.53" r="1.1" fill="#2f8fcf"/>
<circle cx="119.80" cy="503.92" r="1.1" fill="#2f8fcf"/>
<circle cx="101.93" cy="510.54" r="1.1" fill="#2f8fcf"/>
<circle cx="92.03" cy="513.35" r="1.1" fill="#2f8fcf"/>
<circle cx="99.45" cy="508.35" r="1.1" fill="#2f8fcf"/>
<circle cx="127.82" cy="503.69" r="1.1" fill="#2f8fcf"/>
<circle cx="74.19" cy="513.38" r="1.1" fill="#2f8fcf"/>
<circle cx="95.72" cy="513.39" r="1.1" fill="#2f8fcf"/>
<circle cx="73.84" cy="513.18" r="1.1" fill="#2f8fcf"/>
<circle cx="96.24" cy="513.71" r="1.1" fill="#2f8fcf"/>
<circle cx="130.48" cy="506.26" r="1.1" fill="#2f8fcf"/>
<circle cx="86.12" cy="511.83" r="1.1" fill="#2f8fcf"/>
<circle cx="97.76" cy="508.40" r="1.1" fill="#2f8fcf"/>
<circle cx="83.01" cy="513.57" r="1.1" fill="#2f8fcf"/>
<circle cx="111.13" cy="505.09" r="1.1" fill="#2f8fcf"/>
<circle cx="133.64" cy="505.11" r="1.1" fill="#2f8fcf"/>
<circle cx="80.03" cy="513.90" r="1.1" fill="#2f8fcf"/>
<circle cx="125.63" cy="504.70" r="1.1" fill="#2f8fcf"/>
<circle cx="101.08" cy="513.17" r="1.1" fill="#2f8fcf"/>
<circle cx="80.34" cy="513.38" r="1.1" fill="#2f8fcf"/>
<circle cx="108.25" cy="507.44" r="1.1" fill="#2f8fcf"/>
<circle cx="107.07" cy="512.80" r="1.1" fill="#2f8fcf"/>
<circle cx="83.43" cy="513.93" r="1.1" fill="#2f8fcf"/>
<circle cx="93.06" cy="513.14" r="1.1" fill="#2f8fcf"/>
<circle cx="125.25" cy="503.81" r="1.1" fill="#2f8fcf"/>
<circle cx="77.14" cy="514.22" r="1.1" fill="#2f8fcf"/>
<circle cx="70.60" cy="514.08" r="1.1" fill="#2f8fcf"/>
<circle cx="79.65" cy="513.54" r="1.1" fill="#2f8fcf"/>
<circle cx="76.24" cy="512.08" r="1.1" fill="#2f8fcf"/>
<circle cx="128.78" cy="507.43" r="1.1" fill="#2f8fcf"/>
<circle cx="120.70" cy="510.03" r="1.1" fill="#2f8fcf"/>
<circle cx="102.31" cy="506.31" r="1.1" fill="#2f8fcf"/>
<circle cx="97.55" cy="507.56" r="1.1" fill="#2f8fcf"/>
<circle cx="71.28" cy="514.27" r="1.1" fill="#2f8fcf"/>
<circle cx="90.26" cy="513.78" r="1.1" fill="#2f8fcf"/>
<circle cx="77.71" cy="512.89" r="1.1" fill="#2f8fcf"/>
<circle cx="78.69" cy="512.71" r="1.1" fill="#2f8fcf"/>
<circle cx="81.45" cy="513.38" r="1.1" fill="#2f8fcf"/>
<circle cx="79.47" cy="513.55" r="1.1" fill="#2f8fcf"/>
<circle cx="102.05" cy="505.19" r="1.1" fill="#2f8fcf"/>
<circle cx="92.63" cy="511.82" r="1.1" fill="#2f8fcf"/>
<circle cx="131.92" cy="506.19" r="1.1" fill="#2f8fcf"/>
<circle cx="87.47" cy="511.38" r="1.1" fill="#2f8fcf"/>
<circle cx="86.94" cy="511.07" r="1.1" fill="#2f8fcf"/>
<circle cx="72.76" cy="513.06" r="1.1" fill="#2f8fcf"/>
<circle cx="96.12" cy="511.35" r="1.1" fill="#2f8fcf"/>
<circle cx="93.21" cy="509.19" r="1.1" fill="#2f8fcf"/>
<circle cx="114.04" cy="509.52" r="1.1" fill="#2f8fcf"/>
<circle cx="105.12" cy="510.66" r="1.1" fill="#2f8fcf"/>
<circle cx="132.87" cy="505.52" r="1.1" fill="#2f8fcf"/>
<circle cx="95.55" cy="510.00" r="1.1" fill="#2f8fcf"/>
<circle cx="96.83" cy="514.06" r="1.1" fill="#2f8fcf"/>
<circle cx="94.77" cy="510.65" r="1.1" fill="#2f8fcf"/>
<circle cx="96.24" cy="508.59" r="1.1" fill="#2f8fcf"/>
<circle cx="133.89" cy="505.00" r="1.1" fill="#2f8fcf"/>
<circle cx="129.28" cy="504.82" r="1.1" fill="#2f8fcf"/>
<circle cx="94.13" cy="510.04" r="1.1" fill="#2f8fcf"/>
<circle cx="82.70" cy="511.69" r="1.1" fill="#2f8fcf"/>
<circle cx="123.96" cy="510.21" r="1.1" fill="#2f8fcf"/>
<circle cx="73.17" cy="513.52" r="1.1" fill="#2f8fcf"/>
<circle cx="90.76" cy="512.84" r="1.1" fill="#2f8fcf"/>
<circle cx="105.13" cy="506.33" r="1.1" fill="#2f8fcf"/>
<circle cx="132.18" cy="504.67" r="1.1" fill="#2f8fcf"/>
<circle cx="124.62" cy="507.12" r="1.1" fill="#2f8fcf"/>
<circle cx="133.66" cy="505.12" r="1.1" fill="#2f8fcf"/>
<circle cx="117.57" cy="505.59" r="1.1" fill="#2f8fcf"/>
<circle cx="95.19" cy="511.38" r="1.1" fill="#2f8fcf"/>
<circle cx="109.22" cy="510.15" r="1.1" fill="#2f8fcf"/>
<circle cx="90.62" cy="512.78" r="1.1" fill="#2f8fcf"/>
<circle cx="104.76" cy="505.39" r="1.1" fill="#2f8fcf"/>
<circle cx="109.20" cy="504.95" r="1.1" fill="#2f8fcf"/>
<circle cx="128.16" cy="506.16" r="1.1" fill="#2f8fcf"/>
<circle cx="103.41" cy="508.58" r="1.1" fill="#2f8fcf"/>
<circle cx="84.16" cy="511.70" r="1.1" fill="#2f8fcf"/>
<circle cx="103.76" cy="512.19" r="1.1" fill="#2f8fcf"/>
<circle cx="85.27" cy="511.65" r="1.1" fill="#2f8fcf"/>
<circle cx="122.60" cy="506.75" r="1.1" fill="#2f8fcf"/>
<circle cx="122.96" cy="511.88" r="1.1" fill="#2f8fcf"/>
<circle cx="72.77" cy="512.74" r="1.1" fill="#2f8fcf"/>
<circle cx="123.26" cy="510.85" r="1.1" fill="#2f8fcf"/>
<circle cx="79.85" cy="512.18" r="1.1" fill="#2f8fcf"/>
<circle cx="76.58" cy="512.57" r="1.1" fill="#2f8fcf"/>
<circle cx="75.63" cy="512.70" r="1.1" fill="#2f8fcf"/>
<circle cx="133.81" cy="505.35" r="1.1" fill="#2f8fcf"/>
<circle cx="100.61" cy="512.33" r="1.1" fill="#2f8fcf"/>
<circle cx="118.56" cy="502.47" r="1.1" fill="#2f8fcf"/>
<circle cx="93.48" cy="511.74" r="1.1" fill="#2f8fcf"/>
<circle cx="85.21" cy="512.28" r="1.1" fill="#2f8fcf"/>
<circle cx="91.77" cy="511.52" r="1.1" fill="#2f8fcf"/>
<circle cx="71.14" cy="512.34" r="1.1" fill="#2f8fcf"/>
<circle cx="106.52" cy="502.88" r="1.1" fill="#2f8fcf"/>
<circle cx="81.42" cy="513.47" r="1.1" fill="#2f8fcf"/>
<circle cx="87.57" cy="511.88" r="1.1" fill="#2f8fcf"/>
<circle cx="85.48" cy="513.74" r="1.1" fill="#2f8fcf"/>
<circle cx="75.85" cy="513.33" r="1.1" fill="#2f8fcf"/>
<circle cx="120.71" cy="509.07" r="1.1" fill="#2f8fcf"/>
<circle cx="72.81" cy="512.89" r="1.1" fill="#2f8fcf"/>
<circle cx="93.50" cy="512.74" r="1.1" fill="#2f8fcf"/>
<circle cx="88.90" cy="512.05" r="1.1" fill="#2f8fcf"/>
<circle cx="111.48" cy="511.74" r="1.1" fill="#2f8fcf"/>
<circle cx="92.55" cy="511.31" r="1.1" fill="#2f8fcf"/>
<circle cx="107.04" cy="513.31" r="1.1" fill="#2f8fcf"/>
<circle cx="82.26" cy="514.19" r="1.1" fill="#2f8fcf"/>
<circle cx="115.56" cy="505.63" r="1.1" fill="#2f8fcf"/>
<circle cx="91.08" cy="510.45" r="1.1" fill="#2f8fcf"/>
<circle cx="101.78" cy="513.24" r="1.1" fill="#2f8fcf"/>
<circle cx="118.45" cy="500.73" r="1.1" fill="#2f8fcf"/>
<circle cx="99.60" cy="509.50" r="1.1" fill="#2f8fcf"/>
<circle cx="102.75" cy="512.39" r="1.1" fill="#2f8fcf"/>
<circle cx="112.90" cy="510.74" r="1.1" fill="#2f8fcf"/>
<circle cx="72.60" cy="513.49" r="1.1" fill="#2f8fcf"/>
<circle cx="105.45" cy="511.53" r="1.1" fill="#2f8fcf"/>
<circle cx="74.94" cy="513.82" r="1.1" fill="#2f8fcf"/>
<circle cx="76.51" cy="511.86" r="1.1" fill="#2f8fcf"/>
<circle cx="113.58" cy="510.32" r="1.1" fill="#2f8fcf"/>
<circle cx="73.51" cy="513.51" r="1.1" fill="#2f8fcf"/>
<circle cx="96.75" cy="511.36" r="1.1" fill="#2f8fcf"/>
<circle cx="133.88" cy="505.41" r="1.1" fill="#2f8fcf"/>
<circle cx="79.31" cy="512.43" r="1.1" fill="#2f8fcf"/>
<circle cx="103.17" cy="503.61" r="1.1" fill="#2f8fcf"/>
<circle cx="90.03" cy="511.35" r="1.1" fill="#2f8fcf"/>
<circle cx="96.89" cy="507.57" r="1.1" fill="#2f8fcf"/>
<circle cx="89.49" cy="513.75" r="1.1" fill="#2f8fcf"/>
<circle cx="121.33" cy="512.14" r="1.1" fill="#2f8fcf"/>
<circle cx="82.93" cy="511.50" r="1.1" fill="#2f8fcf"/>
<circle cx="104.36" cy="507.21" r="1.1" fill="#2f8fcf"/>
<circle cx="99.71" cy="509.70" r="1.1" fill="#2f8fcf"/>
<circle cx="107.36" cy="506.48" r="1.1" fill="#2f8fcf"/>
<circle cx="121.29" cy="503.53" r="1.1" fill="#2f8fcf"/>
<circle cx="105.59" cy="503.08" r="1.1" fill="#2f8fcf"/>
<circle cx="90.11" cy="512.43" r="1.1" fill="#2f8fcf"/>
<circle cx="96.17" cy="511.39" r="1.1" fill="#2f8fcf"/>
<circle cx="90.71" cy="511.34" r="1.1" fill="#2f8fcf"/>
<circle cx="120.95" cy="504.73" r="1.1" fill="#2f8fcf"/>
<circle cx="129.83" cy="505.70" r="1.1" fill="#2f8fcf"/>
<circle cx="73.69" cy="512.85" r="1.1" fill="#2f8fcf"/>
<circle cx="110.91" cy="501.88" r="1.1" fill="#2f8fcf"/>
<circle cx="125.21" cy="502.71" r="1.1" fill="#2f8fcf"/>
<circle cx="81.53" cy="514.05" r="1.1" fill="#2f8fcf"/>
<circle cx="105.91" cy="511.86" r="1.1" fill="#2f8fcf"/>
<circle cx="101.89" cy="510.93" r="1.1" fill="#2f8fcf"/>
<circle cx="123.65" cy="503.09" r="1.1" fill="#2f8fcf"/>
<circle cx="83.24" cy="511.63" r="1.1" fill="#2f8fcf"/>
<circle cx="76.10" cy="513.72" r="1.1" fill="#2f8fcf"/>
<circle cx="130.86" cy="505.45" r="1.1" fill="#2f8fcf"/>
<circle cx="86.49" cy="513.95" r="1.1" fill="#2f8fcf"/>
<circle cx="114.53" cy="501.21" r="1.1" fill="#2f8fcf"/>
<circle cx="88.79" cy="511.41" r="1.1" fill="#2f8fcf"/>
<circle cx="107.25" cy="505.92" r="1.1" fill="#2f8fcf"/>
<circle cx="105.88" cy="504.18" r="1.1" fill="#2f8fcf"/>
<circle cx="128.36" cy="505.18" r="1.1" fill="#2f8fcf"/>
<circle cx="79.72" cy="513.72" r="1.1" fill="#2f8fcf"/>
<circle cx="94.32" cy="512.22" r="1.1" fill="#2f8fcf"/>
<circle cx="84.30" cy="512.90" r="1.1" fill="#2f8fcf"/>
<circle cx="75.99" cy="512.87" r="1.1" fill="#2f8fcf"/>
<circle cx="116.61" cy="506.36" r="1.1" fill="#2f8fcf"/>
<circle cx="77.32" cy="513.82" r="1.1" fill="#2f8fcf"/>
<circle cx="77.82" cy="514.08" r="1.1" fill="#2f8fcf"/>
<circle cx="129.88" cy="500.47" r="1.1" fill="#2f8fcf"/>
<circle cx="115.79" cy="499.50" r="1.1" fill="#2f8fcf"/>
<circle cx="110.44" cy="498.72" r="1.1" fill="#2f8fcf"/>
<circle cx="114.90" cy="497.36" r="1.1" fill="#2f8fcf"/>
<circle cx="102.79" cy="502.02" r="1.1" fill="#2f8fcf"/>
<circle cx="125.92" cy="500.16" r="1.1" fill="#2f8fcf"/>
<circle cx="116.22" cy="500.17" r="1.1" fill="#2f8fcf"/>
<circle cx="104.19" cy="502.15" r="1.1" fill="#2f8fcf"/>
<circle cx="126.79" cy="499.61" r="1.1" fill="#2f8fcf"/>
<circle cx="106.82" cy="498.89" r="1.1" fill="#2f8fcf"/>
<circle cx="100.97" cy="502.42" r="1.1" fill="#2f8fcf"/>
<circle cx="129.02" cy="502.20" r="1.1" fill="#2f8fcf"/>
<circle cx="128.33" cy="500.83" r="1.1" fill="#2f8fcf"/>
<circle cx="101.50" cy="503.11" r="1.1" fill="#2f8fcf"/>
<circle cx="113.49" cy="499.89" r="1.1" fill="#2f8fcf"/>
<circle cx="122.27" cy="500.44" r="1.1" fill="#2f8fcf"/>
<circle cx="123.63" cy="500.38" r="1.1" fill="#2f8fcf"/>
<circle cx="102.08" cy="502.07" r="1.1" fill="#2f8fcf"/>
<circle cx="102.87" cy="501.75" r="1.1" fill="#2f8fcf"/>
<circle cx="123.64" cy="499.35" r="1.1" fill="#2f8fcf"/>
<circle cx="113.84" cy="500.60" r="1.1" fill="#2f8fcf"/>
<circle cx="115.40" cy="500.22" r="1.1" fill="#2f8fcf"/>
<circle cx="119.40" cy="500.09" r="1.1" fill="#2f8fcf"/>
<circle cx="117.34" cy="499.13" r="1.1" fill="#2f8fcf"/>
<circle cx="111.24" cy="498.86" r="1.1" fill="#2f8fcf"/>
<circle cx="104.92" cy="502.18" r="1.1" fill="#2f8fcf"/>
<circle cx="128.25" cy="501.94" r="1.1" fill="#2f8fcf"/>
<circle cx="125.27" cy="498.96" r="1.1" fill="#2f8fcf"/>
<circle cx="43.75" cy="513.5" r="1.4" fill="#2f8fcf"/>
<circle cx="141.5" cy="416.4" r="1.4" fill="#2f8fcf"/>
<circle cx="127.9" cy="456.7" r="1.4" fill="#2f8fcf"/>
<circle cx="119.8" cy="478.2" r="1.4" fill="#2f8fcf"/>
<circle cx="131" cy="479" r="1.4" fill="#2f8fcf"/>
<circle cx="135.7" cy="480.3" r="1.4" fill="#2f8fcf"/>
<circle cx="112.7" cy="481.8" r="1.4" fill="#2f8fcf"/>
<circle cx="108.4" cy="487.2" r="1.4" fill="#2f8fcf"/>
<circle cx="100.9" cy="491.5" r="1.4" fill="#2f8fcf"/>
<circle cx="105.2" cy="494.7" r="1.4" fill="#2f8fcf"/>
<circle cx="111.6" cy="493.2" r="1.4" fill="#2f8fcf"/>
<circle cx="122.4" cy="489" r="1.4" fill="#2f8fcf"/>
<circle cx="133" cy="502.3" r="1.4" fill="#2f8fcf"/>
<circle cx="136.3" cy="508.7" r="1.4" fill="#2f8fcf"/>
<circle cx="132" cy="510.9" r="1.4" fill="#2f8fcf"/>
<circle cx="124.5" cy="513" r="1.4" fill="#2f8fcf"/>
<circle cx="113.5" cy="492.7" r="1.4" fill="#2f8fcf"/>
<circle cx="125.2" cy="490" r="1.4" fill="#2f8fcf"/>
<circle cx="118" cy="496" r="1.4" fill="#2f8fcf"/>
<circle cx="128" cy="497" r="1.4" fill="#2f8fcf"/>
<circle cx="132" cy="486.3" r="2.4" fill="#e8421f"/>
<circle cx="106.3" cy="510.4" r="2.3" fill="#e4e01e"/>
<text x="136.00" y="489.40" font-size="6" font-weight="bold" text-anchor="start" fill="#1a1a1a" textLength="36" lengthAdjust="spacingAndGlyphs">MDA-MB-231</text>
<text x="99.60" y="521.80" font-size="6.2" font-weight="bold" text-anchor="start" fill="#1a1a1a" textLength="14" lengthAdjust="spacingAndGlyphs">A549</text>
<text x="136.10" y="430.20" font-size="5.6" font-weight="bold" text-anchor="start" fill="#1a1a1a" textLength="37.3" lengthAdjust="spacingAndGlyphs">Spearman: 0.79</text>
<text x="136.10" y="437.40" font-size="5.6" font-weight="bold" text-anchor="start" fill="#1a1a1a">(p = 3.85x10<tspan font-size="3.4" dy="-2">-77</tspan><tspan dy="2">)</tspan></text>
<text x="136.10" y="445.80" font-size="5.6" font-weight="bold" text-anchor="start" fill="#1a1a1a" textLength="33" lengthAdjust="spacingAndGlyphs">Pearson: 0.55</text>
<text x="136.10" y="453.20" font-size="5.6" font-weight="bold" text-anchor="start" fill="#1a1a1a">(p = 1.16x10<tspan font-size="3.4" dy="-2">-39</tspan><tspan dy="2">)</tspan></text>
<text x="37.50" y="537.90" font-size="7.2" font-weight="bold" text-anchor="start" fill="#1a1a1a" textLength="111.4" lengthAdjust="spacingAndGlyphs">ENPP1 protein abundance ratios</text>
<text x="47.50" y="546.20" font-size="7.2" font-weight="bold" text-anchor="start" fill="#1a1a1a" textLength="90.5" lengthAdjust="spacingAndGlyphs">(relative to bridge-sample)</text>
<text x="180.50" y="403.30" font-size="10.2" font-weight="bold" text-anchor="start" fill="#1a1a1a" textLength="13.3" lengthAdjust="spacingAndGlyphs">(D)</text>
<line x1="223" y1="517.10" x2="363" y2="517.10" stroke="#e9e9e9" stroke-width="0.6" stroke-dasharray="2.5 1"/>
<line x1="221" y1="517.10" x2="222.3" y2="517.10" stroke="#333" stroke-width="0.6"/>
<text x="219.60" y="518.10" font-size="5.4" font-weight="bold" text-anchor="middle" fill="#222" transform="rotate(-90 219.60 518.10)">-6</text>
<line x1="223" y1="499.60" x2="363" y2="499.60" stroke="#e9e9e9" stroke-width="0.6" stroke-dasharray="2.5 1"/>
<line x1="221" y1="499.60" x2="222.3" y2="499.60" stroke="#333" stroke-width="0.6"/>
<text x="219.60" y="500.60" font-size="5.4" font-weight="bold" text-anchor="middle" fill="#222" transform="rotate(-90 219.60 500.60)">-4</text>
<line x1="223" y1="482.10" x2="363" y2="482.10" stroke="#e9e9e9" stroke-width="0.6" stroke-dasharray="2.5 1"/>
<line x1="221" y1="482.10" x2="222.3" y2="482.10" stroke="#333" stroke-width="0.6"/>
<text x="219.60" y="483.10" font-size="5.4" font-weight="bold" text-anchor="middle" fill="#222" transform="rotate(-90 219.60 483.10)">-2</text>
<line x1="223" y1="464.60" x2="363" y2="464.60" stroke="#e9e9e9" stroke-width="0.6" stroke-dasharray="2.5 1"/>
<line x1="221" y1="464.60" x2="222.3" y2="464.60" stroke="#333" stroke-width="0.6"/>
<text x="219.60" y="465.60" font-size="5.4" font-weight="bold" text-anchor="middle" fill="#222" transform="rotate(-90 219.60 465.60)">0</text>
<line x1="223" y1="447.10" x2="363" y2="447.10" stroke="#e9e9e9" stroke-width="0.6" stroke-dasharray="2.5 1"/>
<line x1="221" y1="447.10" x2="222.3" y2="447.10" stroke="#333" stroke-width="0.6"/>
<text x="219.60" y="448.10" font-size="5.4" font-weight="bold" text-anchor="middle" fill="#222" transform="rotate(-90 219.60 448.10)">2</text>
<line x1="223" y1="429.60" x2="363" y2="429.60" stroke="#e9e9e9" stroke-width="0.6" stroke-dasharray="2.5 1"/>
<line x1="221" y1="429.60" x2="222.3" y2="429.60" stroke="#333" stroke-width="0.6"/>
<text x="219.60" y="430.60" font-size="5.4" font-weight="bold" text-anchor="middle" fill="#222" transform="rotate(-90 219.60 430.60)">4</text>
<line x1="223" y1="412.10" x2="363" y2="412.10" stroke="#e9e9e9" stroke-width="0.6" stroke-dasharray="2.5 1"/>
<line x1="221" y1="412.10" x2="222.3" y2="412.10" stroke="#333" stroke-width="0.6"/>
<text x="219.60" y="413.10" font-size="5.4" font-weight="bold" text-anchor="middle" fill="#222" transform="rotate(-90 219.60 413.10)">6</text>
<line x1="237.8" y1="410" x2="237.8" y2="522" stroke="#e9e9e9" stroke-width="0.6" stroke-dasharray="2.5 1"/>
<line x1="264.3" y1="410" x2="264.3" y2="522" stroke="#e9e9e9" stroke-width="0.6" stroke-dasharray="2.5 1"/>
<line x1="291.8" y1="410" x2="291.8" y2="522" stroke="#e9e9e9" stroke-width="0.6" stroke-dasharray="2.5 1"/>
<line x1="318.8" y1="410" x2="318.8" y2="522" stroke="#e9e9e9" stroke-width="0.6" stroke-dasharray="2.5 1"/>
<line x1="346.1" y1="410" x2="346.1" y2="522" stroke="#e9e9e9" stroke-width="0.6" stroke-dasharray="2.5 1"/>
<line x1="222.5" y1="409.8" x2="222.5" y2="523.2" stroke="#333" stroke-width="1"/>
<line x1="222" y1="522.7" x2="363" y2="522.7" stroke="#333" stroke-width="0.9"/>
<text x="204.50" y="467.70" font-size="7.1" font-weight="normal" text-anchor="middle" fill="#1a1a1a" textLength="88.6" lengthAdjust="spacingAndGlyphs" transform="rotate(-90 204.50 467.70)" style="font-weight:600">ENPP1 protein expression</text>
<text x="211.50" y="469.20" font-size="7.1" font-weight="normal" text-anchor="middle" fill="#1a1a1a" textLength="62.5" lengthAdjust="spacingAndGlyphs" transform="rotate(-90 211.50 469.20)" style="font-weight:600">(Abundance ratio)</text>
<rect x="227.80" y="465.4" width="20" height="21.30" fill="#e9e9e9"/>
<line x1="237.8" y1="446.9" x2="237.8" y2="510.4" stroke="#999" stroke-width="0.6"/>
<line x1="229.30" y1="446.9" x2="246.30" y2="446.9" stroke="#999" stroke-width="0.8"/>
<line x1="229.30" y1="510.4" x2="246.30" y2="510.4" stroke="#999" stroke-width="0.8"/>
<line x1="229.30" y1="477.2" x2="246.30" y2="477.2" stroke="#999" stroke-width="0.8"/>
<circle cx="234.50" cy="446.90" r="1.45" fill="#2f8fcf"/>
<circle cx="235.40" cy="455.90" r="1.45" fill="#2f8fcf"/>
<circle cx="238.60" cy="457.30" r="1.45" fill="#2f8fcf"/>
<circle cx="234.00" cy="458.60" r="1.45" fill="#2f8fcf"/>
<circle cx="235.90" cy="462.70" r="1.45" fill="#2f8fcf"/>
<circle cx="237.30" cy="464.00" r="1.45" fill="#2f8fcf"/>
<circle cx="235.90" cy="466.80" r="1.45" fill="#2f8fcf"/>
<circle cx="238.60" cy="470.40" r="1.45" fill="#2f8fcf"/>
<circle cx="235.40" cy="475.00" r="1.45" fill="#2f8fcf"/>
<circle cx="234.50" cy="476.30" r="1.45" fill="#2f8fcf"/>
<circle cx="237.30" cy="475.00" r="1.45" fill="#2f8fcf"/>
<circle cx="239.20" cy="480.40" r="1.45" fill="#2f8fcf"/>
<circle cx="237.30" cy="481.80" r="1.45" fill="#2f8fcf"/>
<circle cx="234.50" cy="484.50" r="1.45" fill="#2f8fcf"/>
<circle cx="235.90" cy="485.90" r="1.45" fill="#2f8fcf"/>
<circle cx="233.20" cy="487.30" r="1.45" fill="#2f8fcf"/>
<circle cx="234.00" cy="489.40" r="1.45" fill="#2f8fcf"/>
<circle cx="235.40" cy="491.40" r="1.45" fill="#2f8fcf"/>
<circle cx="237.30" cy="487.30" r="1.45" fill="#2f8fcf"/>
<circle cx="238.60" cy="510.40" r="1.45" fill="#2f8fcf"/>
<rect x="254.30" y="461.2" width="20" height="18.90" fill="#e9e9e9"/>
<line x1="264.3" y1="441.7" x2="264.3" y2="488.8" stroke="#999" stroke-width="0.6"/>
<line x1="255.80" y1="441.7" x2="272.80" y2="441.7" stroke="#999" stroke-width="0.8"/>
<line x1="255.80" y1="488.8" x2="272.80" y2="488.8" stroke="#999" stroke-width="0.8"/>
<line x1="255.80" y1="468.5" x2="272.80" y2="468.5" stroke="#999" stroke-width="0.8"/>
<circle cx="263.70" cy="441.70" r="1.45" fill="#2f8fcf"/>
<circle cx="264.30" cy="446.70" r="1.45" fill="#2f8fcf"/>
<circle cx="264.30" cy="461.90" r="1.45" fill="#2f8fcf"/>
<circle cx="267.20" cy="462.50" r="1.45" fill="#2f8fcf"/>
<circle cx="262.50" cy="468.50" r="1.45" fill="#2f8fcf"/>
<circle cx="266.30" cy="468.50" r="1.45" fill="#2f8fcf"/>
<circle cx="264.30" cy="474.30" r="1.45" fill="#2f8fcf"/>
<circle cx="262.00" cy="478.60" r="1.45" fill="#2f8fcf"/>
<circle cx="267.20" cy="487.30" r="1.45" fill="#2f8fcf"/>
<circle cx="261.40" cy="488.80" r="1.45" fill="#2f8fcf"/>
<rect x="281.80" y="458.3" width="20" height="14.50" fill="#e9e9e9"/>
<line x1="291.8" y1="435" x2="291.8" y2="491.1" stroke="#999" stroke-width="0.6"/>
<line x1="283.30" y1="435" x2="300.30" y2="435" stroke="#999" stroke-width="0.8"/>
<line x1="283.30" y1="491.1" x2="300.30" y2="491.1" stroke="#999" stroke-width="0.8"/>
<line x1="283.30" y1="463.2" x2="300.30" y2="463.2" stroke="#999" stroke-width="0.8"/>
<circle cx="292.70" cy="421.40" r="1.45" fill="#2f8fcf"/>
<circle cx="294.70" cy="430.10" r="1.45" fill="#2f8fcf"/>
<circle cx="291.80" cy="443.80" r="1.45" fill="#2f8fcf"/>
<circle cx="291.65" cy="450.31" r="1.45" fill="#2f8fcf"/>
<circle cx="288.71" cy="478.78" r="1.45" fill="#2f8fcf"/>
<circle cx="288.89" cy="463.85" r="1.45" fill="#2f8fcf"/>
<circle cx="292.07" cy="449.09" r="1.45" fill="#2f8fcf"/>
<circle cx="291.56" cy="450.90" r="1.45" fill="#2f8fcf"/>
<circle cx="292.07" cy="464.26" r="1.45" fill="#2f8fcf"/>
<circle cx="290.79" cy="452.21" r="1.45" fill="#2f8fcf"/>
<circle cx="291.07" cy="452.43" r="1.45" fill="#2f8fcf"/>
<circle cx="288.97" cy="453.86" r="1.45" fill="#2f8fcf"/>
<circle cx="294.62" cy="464.07" r="1.45" fill="#2f8fcf"/>
<circle cx="294.77" cy="445.09" r="1.45" fill="#2f8fcf"/>
<circle cx="295.17" cy="463.55" r="1.45" fill="#2f8fcf"/>
<circle cx="294.01" cy="466.75" r="1.45" fill="#2f8fcf"/>
<circle cx="293.24" cy="453.44" r="1.45" fill="#2f8fcf"/>
<circle cx="293.70" cy="450.49" r="1.45" fill="#2f8fcf"/>
<circle cx="290.01" cy="445.71" r="1.45" fill="#2f8fcf"/>
<circle cx="290.99" cy="464.71" r="1.45" fill="#2f8fcf"/>
<circle cx="290.22" cy="479.23" r="1.45" fill="#2f8fcf"/>
<circle cx="288.64" cy="467.06" r="1.45" fill="#2f8fcf"/>
<circle cx="289.78" cy="467.72" r="1.45" fill="#2f8fcf"/>
<circle cx="293.96" cy="472.22" r="1.45" fill="#2f8fcf"/>
<circle cx="288.47" cy="454.08" r="1.45" fill="#2f8fcf"/>
<circle cx="292.55" cy="482.84" r="1.45" fill="#2f8fcf"/>
<circle cx="288.31" cy="468.61" r="1.45" fill="#2f8fcf"/>
<circle cx="293.26" cy="476.27" r="1.45" fill="#2f8fcf"/>
<circle cx="290.60" cy="476.11" r="1.45" fill="#2f8fcf"/>
<circle cx="291.51" cy="480.41" r="1.45" fill="#2f8fcf"/>
<circle cx="288.08" cy="481.17" r="1.45" fill="#2f8fcf"/>
<circle cx="291.13" cy="460.38" r="1.45" fill="#2f8fcf"/>
<circle cx="288.67" cy="454.05" r="1.45" fill="#2f8fcf"/>
<circle cx="293.58" cy="470.97" r="1.45" fill="#2f8fcf"/>
<circle cx="289.15" cy="457.93" r="1.45" fill="#2f8fcf"/>
<circle cx="289.07" cy="452.23" r="1.45" fill="#2f8fcf"/>
<circle cx="289.67" cy="457.41" r="1.45" fill="#2f8fcf"/>
<circle cx="295.42" cy="483.39" r="1.45" fill="#2f8fcf"/>
<circle cx="294.02" cy="463.21" r="1.45" fill="#2f8fcf"/>
<circle cx="291.78" cy="474.89" r="1.45" fill="#2f8fcf"/>
<circle cx="294.90" cy="473.81" r="1.45" fill="#2f8fcf"/>
<circle cx="292.84" cy="452.26" r="1.45" fill="#2f8fcf"/>
<circle cx="292.75" cy="477.48" r="1.45" fill="#2f8fcf"/>
<circle cx="293.98" cy="448.10" r="1.45" fill="#2f8fcf"/>
<circle cx="293.45" cy="458.12" r="1.45" fill="#2f8fcf"/>
<circle cx="289.23" cy="482.16" r="1.45" fill="#2f8fcf"/>
<circle cx="293.11" cy="473.58" r="1.45" fill="#2f8fcf"/>
<circle cx="289.03" cy="476.81" r="1.45" fill="#2f8fcf"/>
<circle cx="295.12" cy="479.79" r="1.45" fill="#2f8fcf"/>
<circle cx="293.66" cy="476.97" r="1.45" fill="#2f8fcf"/>
<circle cx="294.10" cy="467.52" r="1.45" fill="#2f8fcf"/>
<circle cx="291.31" cy="476.68" r="1.45" fill="#2f8fcf"/>
<circle cx="293.96" cy="478.46" r="1.45" fill="#2f8fcf"/>
<circle cx="289.80" cy="491.10" r="1.45" fill="#2f8fcf"/>
<rect x="308.80" y="466.1" width="20" height="11.10" fill="#e9e9e9"/>
<line x1="318.8" y1="448.1" x2="318.8" y2="497" stroke="#999" stroke-width="0.6"/>
<line x1="310.30" y1="448.1" x2="327.30" y2="448.1" stroke="#999" stroke-width="0.8"/>
<line x1="310.30" y1="497" x2="327.30" y2="497" stroke="#999" stroke-width="0.8"/>
<line x1="310.30" y1="472" x2="327.30" y2="472" stroke="#999" stroke-width="0.8"/>
<circle cx="321.70" cy="449.00" r="1.45" fill="#2f8fcf"/>
<circle cx="320.90" cy="451.60" r="1.45" fill="#2f8fcf"/>
<circle cx="318.80" cy="459.70" r="1.45" fill="#2f8fcf"/>
<circle cx="321.70" cy="464.10" r="1.45" fill="#2f8fcf"/>
<circle cx="316.50" cy="467.00" r="1.45" fill="#2f8fcf"/>
<circle cx="321.70" cy="468.50" r="1.45" fill="#2f8fcf"/>
<circle cx="315.10" cy="472.00" r="1.45" fill="#2f8fcf"/>
<circle cx="322.30" cy="474.30" r="1.45" fill="#2f8fcf"/>
<circle cx="316.50" cy="475.70" r="1.45" fill="#2f8fcf"/>
<circle cx="320.00" cy="477.20" r="1.45" fill="#2f8fcf"/>
<circle cx="316.00" cy="477.20" r="1.45" fill="#2f8fcf"/>
<circle cx="321.70" cy="478.60" r="1.45" fill="#2f8fcf"/>
<circle cx="318.00" cy="485.90" r="1.45" fill="#2f8fcf"/>
<circle cx="315.60" cy="499.90" r="1.45" fill="#2f8fcf"/>
<rect x="336.10" y="456.3" width="20" height="31.10" fill="#e9e9e9"/>
<line x1="346.1" y1="445.2" x2="346.1" y2="487.4" stroke="#999" stroke-width="0.6"/>
<line x1="337.60" y1="445.2" x2="354.60" y2="445.2" stroke="#999" stroke-width="0.8"/>
<line x1="337.60" y1="487.4" x2="354.60" y2="487.4" stroke="#999" stroke-width="0.8"/>
<line x1="337.60" y1="457.4" x2="354.60" y2="457.4" stroke="#999" stroke-width="0.8"/>
<circle cx="343.50" cy="445.20" r="1.45" fill="#2f8fcf"/>
<circle cx="346.10" cy="453.90" r="1.45" fill="#2f8fcf"/>
<circle cx="344.40" cy="457.40" r="1.45" fill="#2f8fcf"/>
<circle cx="347.00" cy="474.30" r="1.45" fill="#2f8fcf"/>
<circle cx="343.20" cy="487.40" r="1.45" fill="#2f8fcf"/>
<text x="236.80" y="532.20" font-size="5.9" font-weight="bold" text-anchor="middle" fill="#2a2a2a">Basal</text>
<text x="264.80" y="532.20" font-size="5.9" font-weight="bold" text-anchor="middle" fill="#2a2a2a">Her2</text>
<text x="291.30" y="532.20" font-size="5.9" font-weight="bold" text-anchor="middle" fill="#2a2a2a">Lum A</text>
<text x="318.80" y="532.20" font-size="5.9" font-weight="bold" text-anchor="middle" fill="#2a2a2a">Lum B</text>
<text x="347.60" y="532.20" font-size="5.9" font-weight="bold" text-anchor="middle" fill="#2a2a2a">Normal-like</text>
<text x="246.60" y="545.20" font-size="7.0" font-weight="bold" text-anchor="start" fill="#1a1a1a" textLength="96" lengthAdjust="spacingAndGlyphs">PAM50 subtype classification</text>
</svg></body></html>
